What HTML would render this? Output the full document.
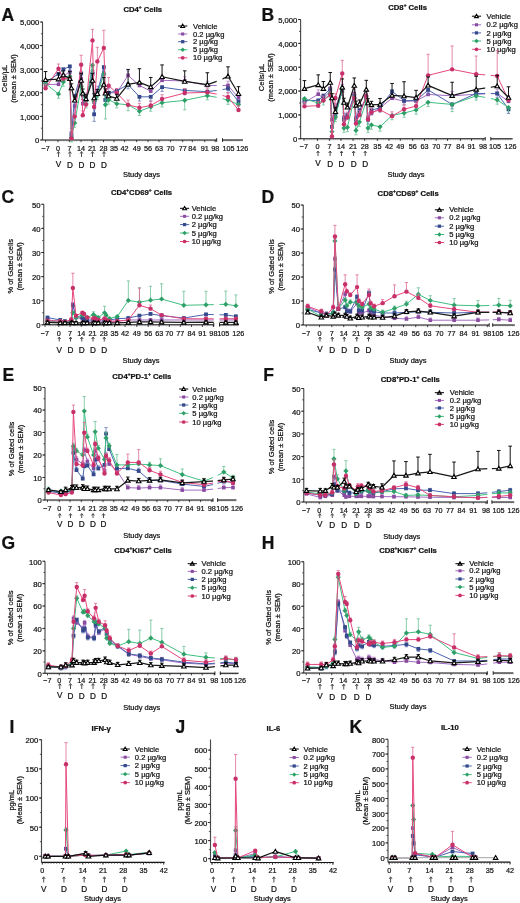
<!DOCTYPE html>
<html><head><meta charset="utf-8"><title>Figure</title>
<style>html,body{margin:0;padding:0;background:#fff;}body{width:520px;height:903px;overflow:hidden;font-family:"Liberation Sans",sans-serif;}svg{display:block;will-change:transform;filter:blur(0.3px);}text{stroke:#111;stroke-width:0.22px;}</style>
</head><body>
<svg width="520" height="903" viewBox="0 0 520 903" font-family='"Liberation Sans", sans-serif' fill="#111">
<rect width="520" height="903" fill="#fff"/>
<g id="pA">
<text x="1.5" y="21" font-size="17.5" text-anchor="start" font-weight="bold">A</text>
<text x="142.8" y="12" font-size="7.7" font-weight="bold" text-anchor="middle"><tspan>CD4</tspan><tspan font-size="4.77" dy="-3">+</tspan><tspan dy="3"> Cells</tspan></text>
<line x1="178.1" y1="26" x2="187.3" y2="26" stroke="#000" stroke-width="1"/>
<polygon points="182.7,24.17 184.62,27.46 180.78,27.46" fill="#fff" stroke="#000" stroke-width="1.1"/>
<text x="193" y="28.6" font-size="7.6" text-anchor="start">Vehicle</text>
<line x1="178.1" y1="34" x2="187.3" y2="34" stroke="#a26bc0" stroke-width="1"/>
<rect x="181.17" y="32.47" width="3.06" height="3.06" fill="#8a4a9f"/>
<text x="193" y="36.6" font-size="7.6" text-anchor="start">0.2 µg/kg</text>
<line x1="178.1" y1="41.7" x2="187.3" y2="41.7" stroke="#4a64b0" stroke-width="1"/>
<rect x="181.08" y="40.09" width="3.23" height="3.23" fill="#34498a"/>
<text x="193" y="44.3" font-size="7.6" text-anchor="start">2 µg/kg</text>
<line x1="178.1" y1="49.7" x2="187.3" y2="49.7" stroke="#3fbf80" stroke-width="1"/>
<polygon points="182.7,47.49 184.91,49.7 182.7,51.91 180.49,49.7" fill="#2f9f68"/>
<text x="193" y="52.3" font-size="7.6" text-anchor="start">5 µg/kg</text>
<line x1="178.1" y1="57.8" x2="187.3" y2="57.8" stroke="#e5487e" stroke-width="1"/>
<circle cx="182.7" cy="57.8" r="1.87" fill="#c8306a"/>
<text x="193" y="60.4" font-size="7.6" text-anchor="start">10 µg/kg</text>
<line x1="42.5" y1="22" x2="42.5" y2="140" stroke="#4a4a4a" stroke-width="1.15"/>
<line x1="40.9" y1="140" x2="42.5" y2="140" stroke="#333" stroke-width="0.8"/>
<line x1="40.9" y1="128.2" x2="42.5" y2="128.2" stroke="#333" stroke-width="0.8"/>
<line x1="40.9" y1="116.4" x2="42.5" y2="116.4" stroke="#333" stroke-width="0.8"/>
<line x1="40.9" y1="104.6" x2="42.5" y2="104.6" stroke="#333" stroke-width="0.8"/>
<line x1="40.9" y1="92.8" x2="42.5" y2="92.8" stroke="#333" stroke-width="0.8"/>
<line x1="40.9" y1="81" x2="42.5" y2="81" stroke="#333" stroke-width="0.8"/>
<line x1="40.9" y1="69.2" x2="42.5" y2="69.2" stroke="#333" stroke-width="0.8"/>
<line x1="40.9" y1="57.4" x2="42.5" y2="57.4" stroke="#333" stroke-width="0.8"/>
<line x1="40.9" y1="45.6" x2="42.5" y2="45.6" stroke="#333" stroke-width="0.8"/>
<line x1="40.9" y1="33.8" x2="42.5" y2="33.8" stroke="#333" stroke-width="0.8"/>
<line x1="40.9" y1="22" x2="42.5" y2="22" stroke="#333" stroke-width="0.8"/>
<line x1="39.9" y1="140" x2="42.5" y2="140" stroke="#222" stroke-width="0.9"/>
<text x="39.3" y="143.37" font-size="7.7" text-anchor="end">0</text>
<line x1="39.9" y1="116.4" x2="42.5" y2="116.4" stroke="#222" stroke-width="0.9"/>
<text x="39.3" y="119.77" font-size="7.7" text-anchor="end">1,000</text>
<line x1="39.9" y1="92.8" x2="42.5" y2="92.8" stroke="#222" stroke-width="0.9"/>
<text x="39.3" y="96.17" font-size="7.7" text-anchor="end">2,000</text>
<line x1="39.9" y1="69.2" x2="42.5" y2="69.2" stroke="#222" stroke-width="0.9"/>
<text x="39.3" y="72.57" font-size="7.7" text-anchor="end">3,000</text>
<line x1="39.9" y1="45.6" x2="42.5" y2="45.6" stroke="#222" stroke-width="0.9"/>
<text x="39.3" y="48.97" font-size="7.7" text-anchor="end">4,000</text>
<line x1="39.9" y1="22" x2="42.5" y2="22" stroke="#222" stroke-width="0.9"/>
<text x="39.3" y="25.37" font-size="7.7" text-anchor="end">5,000</text>
<text transform="translate(7.2,78.5) rotate(-90)" font-size="7.5" text-anchor="middle">Cells/µL</text>
<text transform="translate(15.6,78.5) rotate(-90)" font-size="7.5" text-anchor="middle">(mean ± SEM)</text>
<path d="M47.19 140v1.5M48.81 140v1.5M50.43 140v1.5M52.05 140v1.5M53.66 140v1.5M55.28 140v1.5M56.9 140v1.5M58.52 140v1.5M60.14 140v1.5M61.75 140v1.5M63.37 140v1.5M64.99 140v1.5M66.61 140v1.5M68.23 140v1.5M69.84 140v1.5M71.46 140v1.5M73.08 140v1.5M74.7 140v1.5M76.32 140v1.5M77.93 140v1.5M79.55 140v1.5M81.17 140v1.5M82.79 140v1.5M84.41 140v1.5M86.02 140v1.5M87.64 140v1.5M89.26 140v1.5M90.88 140v1.5M92.5 140v1.5M94.11 140v1.5M95.73 140v1.5M97.35 140v1.5M98.97 140v1.5M100.59 140v1.5M102.2 140v1.5M103.82 140v1.5M105.44 140v1.5M107.06 140v1.5M108.68 140v1.5M110.29 140v1.5M111.91 140v1.5M113.53 140v1.5M115.15 140v1.5M116.77 140v1.5M118.38 140v1.5M120 140v1.5M121.62 140v1.5M123.24 140v1.5M124.86 140v1.5M126.47 140v1.5M128.09 140v1.5M129.71 140v1.5M131.33 140v1.5M132.95 140v1.5M134.56 140v1.5M136.18 140v1.5M137.8 140v1.5M139.42 140v1.5M141.04 140v1.5M142.65 140v1.5M144.27 140v1.5M145.89 140v1.5M147.51 140v1.5M149.13 140v1.5M150.74 140v1.5M152.36 140v1.5M153.98 140v1.5M155.6 140v1.5M157.22 140v1.5M158.83 140v1.5M160.45 140v1.5M162.07 140v1.5M163.69 140v1.5M165.31 140v1.5M166.92 140v1.5M168.54 140v1.5M170.16 140v1.5M171.78 140v1.5M173.4 140v1.5M175.01 140v1.5M176.63 140v1.5M178.25 140v1.5M179.87 140v1.5M181.49 140v1.5M183.1 140v1.5M184.72 140v1.5M186.34 140v1.5M187.96 140v1.5M189.58 140v1.5M191.19 140v1.5M192.81 140v1.5M194.43 140v1.5M196.05 140v1.5M197.67 140v1.5M199.28 140v1.5M200.9 140v1.5M202.52 140v1.5M204.14 140v1.5M205.76 140v1.5M207.37 140v1.5M208.99 140v1.5M210.61 140v1.5M212.23 140v1.5M213.85 140v1.5M215.46 140v1.5M223.5 140v1.5M225.12 140v1.5M226.74 140v1.5M228.35 140v1.5M229.97 140v1.5M231.59 140v1.5M233.21 140v1.5M234.83 140v1.5M236.44 140v1.5M238.06 140v1.5M239.68 140v1.5M241.3 140v1.5" stroke="#9a9a9a" stroke-width="0.55"/>
<path d="M45.6 140v2.2M58 140v2.2M69.4 140v2.2M81 140v2.2M92 140v2.2M103.5 140v2.2M114 140v2.2M124.6 140v2.2M136.7 140v2.2M148 140v2.2M159 140v2.2M170.5 140v2.2M182.7 140v2.2M192.3 140v2.2M204.8 140v2.2M215.2 140v2.2" stroke="#222" stroke-width="0.8"/>
<line x1="42.5" y1="140" x2="216.7" y2="140" stroke="#111" stroke-width="1.1"/>
<line x1="222.5" y1="140" x2="243" y2="140" stroke="#111" stroke-width="1.1"/>
<path d="M216.7 138.2V141.8M222.5 138.2V141.8" stroke="#111" stroke-width="0.9"/>
<text transform="translate(45.6,150.85) scale(0.92,1)" font-size="7.9" text-anchor="middle">−7</text>
<text transform="translate(58,150.85) scale(0.92,1)" font-size="7.9" text-anchor="middle">0</text>
<text transform="translate(69.4,150.85) scale(0.92,1)" font-size="7.9" text-anchor="middle">7</text>
<text transform="translate(81,150.85) scale(0.92,1)" font-size="7.9" text-anchor="middle">14</text>
<text transform="translate(92,150.85) scale(0.92,1)" font-size="7.9" text-anchor="middle">21</text>
<text transform="translate(103.5,150.85) scale(0.92,1)" font-size="7.9" text-anchor="middle">28</text>
<text transform="translate(114,150.85) scale(0.92,1)" font-size="7.9" text-anchor="middle">35</text>
<text transform="translate(124.6,150.85) scale(0.92,1)" font-size="7.9" text-anchor="middle">42</text>
<text transform="translate(136.7,150.85) scale(0.92,1)" font-size="7.9" text-anchor="middle">49</text>
<text transform="translate(148,150.85) scale(0.92,1)" font-size="7.9" text-anchor="middle">56</text>
<text transform="translate(159,150.85) scale(0.92,1)" font-size="7.9" text-anchor="middle">63</text>
<text transform="translate(170.5,150.85) scale(0.92,1)" font-size="7.9" text-anchor="middle">70</text>
<text transform="translate(182.7,150.85) scale(0.92,1)" font-size="7.9" text-anchor="middle">77</text>
<text transform="translate(192.3,150.85) scale(0.92,1)" font-size="7.9" text-anchor="middle">84</text>
<text transform="translate(204.8,150.85) scale(0.92,1)" font-size="7.9" text-anchor="middle">91</text>
<text transform="translate(215.2,150.85) scale(0.92,1)" font-size="7.9" text-anchor="middle">98</text>
<text transform="translate(228.6,150.85) scale(0.92,1)" font-size="7.9" text-anchor="middle">105</text>
<text transform="translate(242.3,150.85) scale(0.92,1)" font-size="7.9" text-anchor="middle">126</text>
<path d="M58.5 157V152.3" stroke="#222" stroke-width="0.8"/>
<path d="M57.1 153.5L58.5 151.5L59.9 153.5" stroke="#222" stroke-width="0.8" fill="none"/>
<text x="58.5" y="167.1" font-size="8.2" text-anchor="middle">V</text>
<path d="M69.9 157V152.3" stroke="#222" stroke-width="0.8"/>
<path d="M68.5 153.5L69.9 151.5L71.3 153.5" stroke="#222" stroke-width="0.8" fill="none"/>
<text x="69.9" y="167.8" font-size="8.2" text-anchor="middle">D</text>
<path d="M81.5 157V152.3" stroke="#222" stroke-width="0.8"/>
<path d="M80.1 153.5L81.5 151.5L82.9 153.5" stroke="#222" stroke-width="0.8" fill="none"/>
<text x="81.5" y="167.8" font-size="8.2" text-anchor="middle">D</text>
<path d="M92.5 157V152.3" stroke="#222" stroke-width="0.8"/>
<path d="M91.1 153.5L92.5 151.5L93.9 153.5" stroke="#222" stroke-width="0.8" fill="none"/>
<text x="92.5" y="167.8" font-size="8.2" text-anchor="middle">D</text>
<path d="M104 157V152.3" stroke="#222" stroke-width="0.8"/>
<path d="M102.6 153.5L104 151.5L105.4 153.5" stroke="#222" stroke-width="0.8" fill="none"/>
<text x="104" y="167.8" font-size="8.2" text-anchor="middle">D</text>
<text x="141.5" y="177.2" font-size="7.5" text-anchor="middle">Study days</text>
<clipPath id="cA"><rect x="42.5" y="-8" width="174.2" height="158"/><rect x="222.5" y="-8" width="26.5" height="158"/></clipPath>
<path d="M45.57 84.54V80.29M43.97 80.29H47.17M58.52 84.3V80.06M56.92 80.06H60.12M63.37 76.28V72.03M61.77 72.03H64.97M69.84 71.56V67.31M68.24 67.31H71.44M71.46 132.92V128.67M69.86 128.67H73.06M74.7 106.02V101.77M73.1 101.77H76.3M81.17 78.64V74.39M79.57 74.39H82.77M82.79 103.66V99.41M81.19 99.41H84.39M86.02 97.52V93.27M84.42 93.27H87.62M92.5 71.56V67.31M90.9 67.31H94.1M94.11 102.24V97.99M92.51 97.99H95.71M97.35 90.44V86.19M95.75 86.19H98.95M103.82 73.92V69.67M102.22 69.67H105.42M105.44 99.88V95.63M103.84 95.63H107.04M108.68 92.8V88.55M107.08 88.55H110.28M116.77 92.8V88.55M115.17 88.55H118.37M128.09 75.34V71.09M126.49 71.09H129.69M139.42 85.48V81.24M137.82 81.24H141.02M150.74 91.15V86.9M149.14 86.9H152.34M162.07 80.29V76.04M160.47 76.04H163.67M184.72 81V76.75M183.12 76.75H186.32M207.37 85.48V81.24M205.77 81.24H208.97M228 85.48V81.24M226.4 81.24H229.6M238.5 97.76V93.51M236.9 93.51H240.1" stroke="#b07cc8" stroke-width="0.8" fill="none"/>
<path d="M45.57 84.54 L58.52 84.3 L63.37 76.28 L69.84 71.56 L71.46 132.92 L74.7 106.02 L81.17 78.64 L82.79 103.66 L86.02 97.52 L92.5 71.56 L94.11 102.24 L97.35 90.44 L103.82 73.92 L105.44 99.88 L108.68 92.8 L116.77 92.8 L128.09 75.34 L139.42 85.48 L150.74 91.15 L162.07 80.29 L184.72 81 L207.37 85.48 L219.6 85.48 L228 85.48 L238.5 97.76" fill="none" stroke="#a26bc0" stroke-width="1.0" stroke-linejoin="round" clip-path="url(#cA)"/>
<rect x="43.77" y="82.74" width="3.6" height="3.6" fill="#8a4a9f"/>
<rect x="56.72" y="82.5" width="3.6" height="3.6" fill="#8a4a9f"/>
<rect x="61.57" y="74.48" width="3.6" height="3.6" fill="#8a4a9f"/>
<rect x="68.04" y="69.76" width="3.6" height="3.6" fill="#8a4a9f"/>
<rect x="69.66" y="131.12" width="3.6" height="3.6" fill="#8a4a9f"/>
<rect x="72.9" y="104.22" width="3.6" height="3.6" fill="#8a4a9f"/>
<rect x="79.37" y="76.84" width="3.6" height="3.6" fill="#8a4a9f"/>
<rect x="80.99" y="101.86" width="3.6" height="3.6" fill="#8a4a9f"/>
<rect x="84.22" y="95.72" width="3.6" height="3.6" fill="#8a4a9f"/>
<rect x="90.7" y="69.76" width="3.6" height="3.6" fill="#8a4a9f"/>
<rect x="92.31" y="100.44" width="3.6" height="3.6" fill="#8a4a9f"/>
<rect x="95.55" y="88.64" width="3.6" height="3.6" fill="#8a4a9f"/>
<rect x="102.02" y="72.12" width="3.6" height="3.6" fill="#8a4a9f"/>
<rect x="103.64" y="98.08" width="3.6" height="3.6" fill="#8a4a9f"/>
<rect x="106.88" y="91" width="3.6" height="3.6" fill="#8a4a9f"/>
<rect x="114.97" y="91" width="3.6" height="3.6" fill="#8a4a9f"/>
<rect x="126.29" y="73.54" width="3.6" height="3.6" fill="#8a4a9f"/>
<rect x="137.62" y="83.68" width="3.6" height="3.6" fill="#8a4a9f"/>
<rect x="148.94" y="89.35" width="3.6" height="3.6" fill="#8a4a9f"/>
<rect x="160.27" y="78.49" width="3.6" height="3.6" fill="#8a4a9f"/>
<rect x="182.92" y="79.2" width="3.6" height="3.6" fill="#8a4a9f"/>
<rect x="205.57" y="83.68" width="3.6" height="3.6" fill="#8a4a9f"/>
<rect x="226.2" y="83.68" width="3.6" height="3.6" fill="#8a4a9f"/>
<rect x="236.7" y="95.96" width="3.6" height="3.6" fill="#8a4a9f"/>
<path d="M45.57 82.18V86.43M43.97 86.43H47.17M58.52 73.92V78.17M56.92 78.17H60.12M63.37 69.2V73.45M61.77 73.45H64.97M69.84 66.37V73.45M68.24 73.45H71.44M71.46 135.28V139.53M69.86 139.53H73.06M74.7 95.87V100.12M73.1 100.12H76.3M81.17 73.45V77.7M79.57 77.7H82.77M82.79 95.16V99.41M81.19 99.41H84.39M86.02 99.88V104.13M84.42 104.13H87.62M92.5 73.92V78.17M90.9 78.17H94.1M94.11 114.28V121.36M92.51 121.36H95.71M97.35 92.8V97.05M95.75 97.05H98.95M103.82 67.08V71.32M102.22 71.32H105.42M105.44 99.88V104.13M103.84 104.13H107.04M108.68 92.8V97.05M107.08 97.05H110.28M116.77 90.91V95.16M115.17 95.16H118.37M128.09 84.54V88.79M126.49 88.79H129.69M139.42 96.81V101.06M137.82 101.06H141.02M150.74 96.81V101.06M149.14 101.06H152.34M162.07 87.14V91.38M160.47 91.38H163.67M184.72 90.44V94.69M183.12 94.69H186.32M207.37 91.62V95.87M205.77 95.87H208.97M228 88.55V92.8M226.4 92.8H229.6M238.5 101.53V105.78M236.9 105.78H240.1" stroke="#6479b8" stroke-width="0.8" fill="none"/>
<path d="M45.57 82.18 L58.52 73.92 L63.37 69.2 L69.84 66.37 L71.46 135.28 L74.7 95.87 L81.17 73.45 L82.79 95.16 L86.02 99.88 L92.5 73.92 L94.11 114.28 L97.35 92.8 L103.82 67.08 L105.44 99.88 L108.68 92.8 L116.77 90.91 L128.09 84.54 L139.42 96.81 L150.74 96.81 L162.07 87.14 L184.72 90.44 L207.37 91.62 L219.6 90.09 L228 88.55 L238.5 101.53" fill="none" stroke="#4a64b0" stroke-width="1.0" stroke-linejoin="round" clip-path="url(#cA)"/>
<rect x="43.67" y="80.28" width="3.8" height="3.8" fill="#34498a"/>
<rect x="56.62" y="72.02" width="3.8" height="3.8" fill="#34498a"/>
<rect x="61.47" y="67.3" width="3.8" height="3.8" fill="#34498a"/>
<rect x="67.94" y="64.47" width="3.8" height="3.8" fill="#34498a"/>
<rect x="69.56" y="133.38" width="3.8" height="3.8" fill="#34498a"/>
<rect x="72.8" y="93.97" width="3.8" height="3.8" fill="#34498a"/>
<rect x="79.27" y="71.55" width="3.8" height="3.8" fill="#34498a"/>
<rect x="80.89" y="93.26" width="3.8" height="3.8" fill="#34498a"/>
<rect x="84.12" y="97.98" width="3.8" height="3.8" fill="#34498a"/>
<rect x="90.6" y="72.02" width="3.8" height="3.8" fill="#34498a"/>
<rect x="92.21" y="112.38" width="3.8" height="3.8" fill="#34498a"/>
<rect x="95.45" y="90.9" width="3.8" height="3.8" fill="#34498a"/>
<rect x="101.92" y="65.18" width="3.8" height="3.8" fill="#34498a"/>
<rect x="103.54" y="97.98" width="3.8" height="3.8" fill="#34498a"/>
<rect x="106.78" y="90.9" width="3.8" height="3.8" fill="#34498a"/>
<rect x="114.87" y="89.01" width="3.8" height="3.8" fill="#34498a"/>
<rect x="126.19" y="82.64" width="3.8" height="3.8" fill="#34498a"/>
<rect x="137.52" y="94.91" width="3.8" height="3.8" fill="#34498a"/>
<rect x="148.84" y="94.91" width="3.8" height="3.8" fill="#34498a"/>
<rect x="160.17" y="85.24" width="3.8" height="3.8" fill="#34498a"/>
<rect x="182.82" y="88.54" width="3.8" height="3.8" fill="#34498a"/>
<rect x="205.47" y="89.72" width="3.8" height="3.8" fill="#34498a"/>
<rect x="226.1" y="86.65" width="3.8" height="3.8" fill="#34498a"/>
<rect x="236.6" y="99.63" width="3.8" height="3.8" fill="#34498a"/>
<path d="M45.57 83.6V87.84M43.97 87.84H47.17M58.52 93.98V98.23M56.92 98.23H60.12M63.37 81.94V86.19M61.77 86.19H64.97M69.84 76.28V80.53M68.24 80.53H71.44M71.46 137.64V141.89M69.86 141.89H73.06M74.7 123.01V127.26M73.1 127.26H76.3M81.17 86.43V90.68M79.57 90.68H82.77M82.79 93.27V97.52M81.19 97.52H84.39M86.02 103.66V107.9M84.42 107.9H87.62M92.5 65.19V69.44M90.9 69.44H94.1M94.11 101.53V105.78M92.51 105.78H95.71M97.35 95.16V99.41M95.75 99.41H98.95M103.82 73.92V78.17M102.22 78.17H105.42M105.44 104.84V119M103.84 119H107.04M108.68 99.88V104.13M107.08 104.13H110.28M116.77 103.66V107.9M115.17 107.9H118.37M128.09 104.84V110.74M126.49 110.74H129.69M139.42 111.21V115.46M137.82 115.46H141.02M150.74 106.96V111.21M149.14 111.21H152.34M162.07 102.71V106.96M160.47 106.96H163.67M184.72 100.35V109.79M183.12 109.79H186.32M207.37 95.63V99.88M205.77 99.88H208.97M228 100.12V104.36M226.4 104.36H229.6M238.5 104.6V108.85M236.9 108.85H240.1" stroke="#6cc095" stroke-width="0.8" fill="none"/>
<path d="M45.57 83.6 L58.52 93.98 L63.37 81.94 L69.84 76.28 L71.46 137.64 L74.7 123.01 L81.17 86.43 L82.79 93.27 L86.02 103.66 L92.5 65.19 L94.11 101.53 L97.35 95.16 L103.82 73.92 L105.44 104.84 L108.68 99.88 L116.77 103.66 L128.09 104.84 L139.42 111.21 L150.74 106.96 L162.07 102.71 L184.72 100.35 L207.37 95.63 L219.6 97.87 L228 100.12 L238.5 104.6" fill="none" stroke="#3fbf80" stroke-width="1.0" stroke-linejoin="round" clip-path="url(#cA)"/>
<polygon points="45.57,81 48.17,83.6 45.57,86.2 42.97,83.6" fill="#2f9f68"/>
<polygon points="58.52,91.38 61.12,93.98 58.52,96.58 55.92,93.98" fill="#2f9f68"/>
<polygon points="63.37,79.34 65.97,81.94 63.37,84.54 60.77,81.94" fill="#2f9f68"/>
<polygon points="69.84,73.68 72.44,76.28 69.84,78.88 67.24,76.28" fill="#2f9f68"/>
<polygon points="71.46,135.04 74.06,137.64 71.46,140.24 68.86,137.64" fill="#2f9f68"/>
<polygon points="74.7,120.41 77.3,123.01 74.7,125.61 72.1,123.01" fill="#2f9f68"/>
<polygon points="81.17,83.83 83.77,86.43 81.17,89.03 78.57,86.43" fill="#2f9f68"/>
<polygon points="82.79,90.67 85.39,93.27 82.79,95.87 80.19,93.27" fill="#2f9f68"/>
<polygon points="86.02,101.06 88.62,103.66 86.02,106.26 83.42,103.66" fill="#2f9f68"/>
<polygon points="92.5,62.59 95.1,65.19 92.5,67.79 89.9,65.19" fill="#2f9f68"/>
<polygon points="94.11,98.93 96.71,101.53 94.11,104.13 91.51,101.53" fill="#2f9f68"/>
<polygon points="97.35,92.56 99.95,95.16 97.35,97.76 94.75,95.16" fill="#2f9f68"/>
<polygon points="103.82,71.32 106.42,73.92 103.82,76.52 101.22,73.92" fill="#2f9f68"/>
<polygon points="105.44,102.24 108.04,104.84 105.44,107.44 102.84,104.84" fill="#2f9f68"/>
<polygon points="108.68,97.28 111.28,99.88 108.68,102.48 106.08,99.88" fill="#2f9f68"/>
<polygon points="116.77,101.06 119.37,103.66 116.77,106.26 114.17,103.66" fill="#2f9f68"/>
<polygon points="128.09,102.24 130.69,104.84 128.09,107.44 125.49,104.84" fill="#2f9f68"/>
<polygon points="139.42,108.61 142.02,111.21 139.42,113.81 136.82,111.21" fill="#2f9f68"/>
<polygon points="150.74,104.36 153.34,106.96 150.74,109.56 148.14,106.96" fill="#2f9f68"/>
<polygon points="162.07,100.11 164.67,102.71 162.07,105.31 159.47,102.71" fill="#2f9f68"/>
<polygon points="184.72,97.75 187.32,100.35 184.72,102.95 182.12,100.35" fill="#2f9f68"/>
<polygon points="207.37,93.03 209.97,95.63 207.37,98.23 204.77,95.63" fill="#2f9f68"/>
<polygon points="228,97.52 230.6,100.12 228,102.72 225.4,100.12" fill="#2f9f68"/>
<polygon points="238.5,102 241.1,104.6 238.5,107.2 235.9,104.6" fill="#2f9f68"/>
<path d="M45.57 88.32V84.07M43.97 84.07H47.17M58.52 68.73V64.01M56.92 64.01H60.12M63.37 78.64V74.39M61.77 74.39H64.97M69.84 78.64V74.39M68.24 74.39H71.44M71.46 138.35V134.1M69.86 134.1H73.06M74.7 116.4V112.15M73.1 112.15H76.3M81.17 64.72V55.28M79.57 55.28H82.77M82.79 115.22V110.97M81.19 110.97H84.39M86.02 104.6V100.35M84.42 100.35H87.62M92.5 40.41V29.32M90.9 29.32H94.1M94.11 106.96V102.71M92.51 102.71H95.71M97.35 61.41V47.25M95.75 47.25H98.95M103.82 47.96V30.26M102.22 30.26H105.42M105.44 92.8V88.55M103.84 88.55H107.04M108.68 85.72V77.46M107.08 77.46H110.28M116.77 92.8V88.55M115.17 88.55H118.37M128.09 104.84V100.12M126.49 100.12H129.69M139.42 107.67V103.42M137.82 103.42H141.02M150.74 105.54V101.3M149.14 101.3H152.34M162.07 98.94V94.69M160.47 94.69H163.67M184.72 93.04V88.79M183.12 88.79H186.32M207.37 92.33V88.08M205.77 88.08H208.97M228 97.05V92.8M226.4 92.8H229.6M238.5 110.03V105.78M236.9 105.78H240.1" stroke="#e06a95" stroke-width="0.8" fill="none"/>
<path d="M45.57 88.32 L58.52 68.73 L63.37 78.64 L69.84 78.64 L71.46 138.35 L74.7 116.4 L81.17 64.72 L82.79 115.22 L86.02 104.6 L92.5 40.41 L94.11 106.96 L97.35 61.41 L103.82 47.96 L105.44 92.8 L108.68 85.72 L116.77 92.8 L128.09 104.84 L139.42 107.67 L150.74 105.54 L162.07 98.94 L184.72 93.04 L207.37 92.33 L219.6 94.69 L228 97.05 L238.5 110.03" fill="none" stroke="#e5487e" stroke-width="1.0" stroke-linejoin="round" clip-path="url(#cA)"/>
<circle cx="45.57" cy="88.32" r="2.2" fill="#c8306a"/>
<circle cx="58.52" cy="68.73" r="2.2" fill="#c8306a"/>
<circle cx="63.37" cy="78.64" r="2.2" fill="#c8306a"/>
<circle cx="69.84" cy="78.64" r="2.2" fill="#c8306a"/>
<circle cx="71.46" cy="138.35" r="2.2" fill="#c8306a"/>
<circle cx="74.7" cy="116.4" r="2.2" fill="#c8306a"/>
<circle cx="81.17" cy="64.72" r="2.2" fill="#c8306a"/>
<circle cx="82.79" cy="115.22" r="2.2" fill="#c8306a"/>
<circle cx="86.02" cy="104.6" r="2.2" fill="#c8306a"/>
<circle cx="92.5" cy="40.41" r="2.2" fill="#c8306a"/>
<circle cx="94.11" cy="106.96" r="2.2" fill="#c8306a"/>
<circle cx="97.35" cy="61.41" r="2.2" fill="#c8306a"/>
<circle cx="103.82" cy="47.96" r="2.2" fill="#c8306a"/>
<circle cx="105.44" cy="92.8" r="2.2" fill="#c8306a"/>
<circle cx="108.68" cy="85.72" r="2.2" fill="#c8306a"/>
<circle cx="116.77" cy="92.8" r="2.2" fill="#c8306a"/>
<circle cx="128.09" cy="104.84" r="2.2" fill="#c8306a"/>
<circle cx="139.42" cy="107.67" r="2.2" fill="#c8306a"/>
<circle cx="150.74" cy="105.54" r="2.2" fill="#c8306a"/>
<circle cx="162.07" cy="98.94" r="2.2" fill="#c8306a"/>
<circle cx="184.72" cy="93.04" r="2.2" fill="#c8306a"/>
<circle cx="207.37" cy="92.33" r="2.2" fill="#c8306a"/>
<circle cx="228" cy="97.05" r="2.2" fill="#c8306a"/>
<circle cx="238.5" cy="110.03" r="2.2" fill="#c8306a"/>
<path d="M45.57 79.82V71.56M43.77 71.56H47.37M58.52 79.11V73.21M56.72 73.21H60.32M63.37 75.1V70.85M61.57 70.85H65.17M69.84 78.64V71.56M68.04 71.56H71.64M71.46 88.08V83.83M69.66 83.83H73.26M74.7 100.35V96.1M72.9 96.1H76.5M81.17 80.53V73.45M79.37 73.45H82.97M82.79 93.27V89.02M80.99 89.02H84.59M86.02 98.94V94.69M84.22 94.69H87.82M92.5 80.53V73.45M90.7 73.45H94.3M94.11 97.99V93.74M92.31 93.74H95.91M97.35 93.74V89.5M95.55 89.5H99.15M103.82 84.54V77.46M102.02 77.46H105.62M105.44 93.27V89.02M103.64 89.02H107.24M108.68 96.1V91.86M106.88 91.86H110.48M116.77 98.46V94.22M114.97 94.22H118.57M128.09 84.3V69.44M126.29 69.44H129.89M139.42 82.42V68.73M137.62 68.73H141.22M150.74 86.9V77.46M148.94 77.46H152.54M162.07 76.75V64.95M160.27 64.95H163.87M184.72 81.47V70.85M182.92 70.85H186.52M207.37 84.54V72.74M205.57 72.74H209.17M228 76.28V66.84M226.2 66.84H229.8M238.5 93.74V86.66M236.7 86.66H240.3" stroke="#111111" stroke-width="1.0" fill="none"/>
<path d="M45.57 79.82 L58.52 79.11 L63.37 75.1 L69.84 78.64 L71.46 88.08 L74.7 100.35 L81.17 80.53 L82.79 93.27 L86.02 98.94 L92.5 80.53 L94.11 97.99 L97.35 93.74 L103.82 84.54 L105.44 93.27 L108.68 96.1 L116.77 98.46 L128.09 84.3 L139.42 82.42 L150.74 86.9 L162.07 76.75 L184.72 81.47 L207.37 84.54 L219.6 80.41 L228 76.28 L238.5 93.74" fill="none" stroke="#1a1a1a" stroke-width="1.25" stroke-linejoin="round" clip-path="url(#cA)"/>
<polygon points="45.57,77.67 47.83,81.54 43.32,81.54" fill="#fff" stroke="#000" stroke-width="1.1"/>
<polygon points="58.52,76.96 60.78,80.83 56.26,80.83" fill="#fff" stroke="#000" stroke-width="1.1"/>
<polygon points="63.37,72.95 65.63,76.82 61.11,76.82" fill="#fff" stroke="#000" stroke-width="1.1"/>
<polygon points="69.84,76.49 72.1,80.36 67.59,80.36" fill="#fff" stroke="#000" stroke-width="1.1"/>
<polygon points="71.46,85.93 73.72,89.8 69.2,89.8" fill="#fff" stroke="#000" stroke-width="1.1"/>
<polygon points="74.7,98.2 76.96,102.07 72.44,102.07" fill="#fff" stroke="#000" stroke-width="1.1"/>
<polygon points="81.17,78.38 83.43,82.25 78.91,82.25" fill="#fff" stroke="#000" stroke-width="1.1"/>
<polygon points="82.79,91.12 85.05,94.99 80.53,94.99" fill="#fff" stroke="#000" stroke-width="1.1"/>
<polygon points="86.02,96.79 88.28,100.66 83.77,100.66" fill="#fff" stroke="#000" stroke-width="1.1"/>
<polygon points="92.5,78.38 94.75,82.25 90.24,82.25" fill="#fff" stroke="#000" stroke-width="1.1"/>
<polygon points="94.11,95.84 96.37,99.71 91.86,99.71" fill="#fff" stroke="#000" stroke-width="1.1"/>
<polygon points="97.35,91.59 99.61,95.46 95.09,95.46" fill="#fff" stroke="#000" stroke-width="1.1"/>
<polygon points="103.82,82.39 106.08,86.26 101.56,86.26" fill="#fff" stroke="#000" stroke-width="1.1"/>
<polygon points="105.44,91.12 107.7,94.99 103.18,94.99" fill="#fff" stroke="#000" stroke-width="1.1"/>
<polygon points="108.68,93.95 110.93,97.82 106.42,97.82" fill="#fff" stroke="#000" stroke-width="1.1"/>
<polygon points="116.77,96.31 119.02,100.18 114.51,100.18" fill="#fff" stroke="#000" stroke-width="1.1"/>
<polygon points="128.09,82.15 130.35,86.02 125.83,86.02" fill="#fff" stroke="#000" stroke-width="1.1"/>
<polygon points="139.42,80.27 141.68,84.14 137.16,84.14" fill="#fff" stroke="#000" stroke-width="1.1"/>
<polygon points="150.74,84.75 153,88.62 148.49,88.62" fill="#fff" stroke="#000" stroke-width="1.1"/>
<polygon points="162.07,74.6 164.33,78.47 159.81,78.47" fill="#fff" stroke="#000" stroke-width="1.1"/>
<polygon points="184.72,79.32 186.98,83.19 182.46,83.19" fill="#fff" stroke="#000" stroke-width="1.1"/>
<polygon points="207.37,82.39 209.63,86.26 205.12,86.26" fill="#fff" stroke="#000" stroke-width="1.1"/>
<polygon points="228,74.13 230.26,78 225.74,78" fill="#fff" stroke="#000" stroke-width="1.1"/>
<polygon points="238.5,91.59 240.76,95.46 236.24,95.46" fill="#fff" stroke="#000" stroke-width="1.1"/>
</g>
<g id="pB">
<text x="261.5" y="20.6" font-size="17.5" text-anchor="start" font-weight="bold">B</text>
<text x="407.6" y="9.6" font-size="7.7" font-weight="bold" text-anchor="middle"><tspan>CD8</tspan><tspan font-size="4.77" dy="-3">+</tspan><tspan dy="3"> Cells</tspan></text>
<line x1="471.9" y1="16.2" x2="481.1" y2="16.2" stroke="#000" stroke-width="1"/>
<polygon points="476.5,14.37 478.42,17.66 474.58,17.66" fill="#fff" stroke="#000" stroke-width="1.1"/>
<text x="486.5" y="18.8" font-size="7.6" text-anchor="start">Vehicle</text>
<line x1="471.9" y1="24.8" x2="481.1" y2="24.8" stroke="#a26bc0" stroke-width="1"/>
<rect x="474.97" y="23.27" width="3.06" height="3.06" fill="#8a4a9f"/>
<text x="486.5" y="27.4" font-size="7.6" text-anchor="start">0.2 µg/kg</text>
<line x1="471.9" y1="32.9" x2="481.1" y2="32.9" stroke="#4a64b0" stroke-width="1"/>
<rect x="474.88" y="31.29" width="3.23" height="3.23" fill="#34498a"/>
<text x="486.5" y="35.5" font-size="7.6" text-anchor="start">2 µg/kg</text>
<line x1="471.9" y1="41" x2="481.1" y2="41" stroke="#3fbf80" stroke-width="1"/>
<polygon points="476.5,38.79 478.71,41 476.5,43.21 474.29,41" fill="#2f9f68"/>
<text x="486.5" y="43.6" font-size="7.6" text-anchor="start">5 µg/kg</text>
<line x1="471.9" y1="49.3" x2="481.1" y2="49.3" stroke="#e5487e" stroke-width="1"/>
<circle cx="476.5" cy="49.3" r="1.87" fill="#c8306a"/>
<text x="486.5" y="51.9" font-size="7.6" text-anchor="start">10 µg/kg</text>
<line x1="300.6" y1="19.5" x2="300.6" y2="138.8" stroke="#4a4a4a" stroke-width="1.15"/>
<line x1="299" y1="138.8" x2="300.6" y2="138.8" stroke="#333" stroke-width="0.8"/>
<line x1="299" y1="126.87" x2="300.6" y2="126.87" stroke="#333" stroke-width="0.8"/>
<line x1="299" y1="114.94" x2="300.6" y2="114.94" stroke="#333" stroke-width="0.8"/>
<line x1="299" y1="103.01" x2="300.6" y2="103.01" stroke="#333" stroke-width="0.8"/>
<line x1="299" y1="91.08" x2="300.6" y2="91.08" stroke="#333" stroke-width="0.8"/>
<line x1="299" y1="79.15" x2="300.6" y2="79.15" stroke="#333" stroke-width="0.8"/>
<line x1="299" y1="67.22" x2="300.6" y2="67.22" stroke="#333" stroke-width="0.8"/>
<line x1="299" y1="55.29" x2="300.6" y2="55.29" stroke="#333" stroke-width="0.8"/>
<line x1="299" y1="43.36" x2="300.6" y2="43.36" stroke="#333" stroke-width="0.8"/>
<line x1="299" y1="31.43" x2="300.6" y2="31.43" stroke="#333" stroke-width="0.8"/>
<line x1="299" y1="19.5" x2="300.6" y2="19.5" stroke="#333" stroke-width="0.8"/>
<line x1="298" y1="138.8" x2="300.6" y2="138.8" stroke="#222" stroke-width="0.9"/>
<text x="297.4" y="142.17" font-size="7.7" text-anchor="end">0</text>
<line x1="298" y1="114.94" x2="300.6" y2="114.94" stroke="#222" stroke-width="0.9"/>
<text x="297.4" y="118.31" font-size="7.7" text-anchor="end">1,000</text>
<line x1="298" y1="91.08" x2="300.6" y2="91.08" stroke="#222" stroke-width="0.9"/>
<text x="297.4" y="94.45" font-size="7.7" text-anchor="end">2,000</text>
<line x1="298" y1="67.22" x2="300.6" y2="67.22" stroke="#222" stroke-width="0.9"/>
<text x="297.4" y="70.59" font-size="7.7" text-anchor="end">3,000</text>
<line x1="298" y1="43.36" x2="300.6" y2="43.36" stroke="#222" stroke-width="0.9"/>
<text x="297.4" y="46.73" font-size="7.7" text-anchor="end">4,000</text>
<line x1="298" y1="19.5" x2="300.6" y2="19.5" stroke="#222" stroke-width="0.9"/>
<text x="297.4" y="22.87" font-size="7.7" text-anchor="end">5,000</text>
<text transform="translate(264.3,77.5) rotate(-90)" font-size="7.5" text-anchor="middle">Cells/µL</text>
<text transform="translate(273.3,77.5) rotate(-90)" font-size="7.5" text-anchor="middle">(mean ± SEM)</text>
<path d="M306.2 138.8v1.5M307.92 138.8v1.5M309.63 138.8v1.5M311.35 138.8v1.5M313.07 138.8v1.5M314.78 138.8v1.5M316.5 138.8v1.5M318.22 138.8v1.5M319.93 138.8v1.5M321.65 138.8v1.5M323.37 138.8v1.5M325.08 138.8v1.5M326.8 138.8v1.5M328.52 138.8v1.5M330.24 138.8v1.5M331.95 138.8v1.5M333.67 138.8v1.5M335.39 138.8v1.5M337.1 138.8v1.5M338.82 138.8v1.5M340.54 138.8v1.5M342.25 138.8v1.5M343.97 138.8v1.5M345.69 138.8v1.5M347.41 138.8v1.5M349.12 138.8v1.5M350.84 138.8v1.5M352.56 138.8v1.5M354.27 138.8v1.5M355.99 138.8v1.5M357.71 138.8v1.5M359.43 138.8v1.5M361.14 138.8v1.5M362.86 138.8v1.5M364.58 138.8v1.5M366.29 138.8v1.5M368.01 138.8v1.5M369.73 138.8v1.5M371.44 138.8v1.5M373.16 138.8v1.5M374.88 138.8v1.5M376.6 138.8v1.5M378.31 138.8v1.5M380.03 138.8v1.5M381.75 138.8v1.5M383.46 138.8v1.5M385.18 138.8v1.5M386.9 138.8v1.5M388.61 138.8v1.5M390.33 138.8v1.5M392.05 138.8v1.5M393.76 138.8v1.5M395.48 138.8v1.5M397.2 138.8v1.5M398.92 138.8v1.5M400.63 138.8v1.5M402.35 138.8v1.5M404.07 138.8v1.5M405.78 138.8v1.5M407.5 138.8v1.5M409.22 138.8v1.5M410.94 138.8v1.5M412.65 138.8v1.5M414.37 138.8v1.5M416.09 138.8v1.5M417.8 138.8v1.5M419.52 138.8v1.5M421.24 138.8v1.5M422.95 138.8v1.5M424.67 138.8v1.5M426.39 138.8v1.5M428.11 138.8v1.5M429.82 138.8v1.5M431.54 138.8v1.5M433.26 138.8v1.5M434.97 138.8v1.5M436.69 138.8v1.5M438.41 138.8v1.5M440.12 138.8v1.5M441.84 138.8v1.5M443.56 138.8v1.5M445.27 138.8v1.5M446.99 138.8v1.5M448.71 138.8v1.5M450.43 138.8v1.5M452.14 138.8v1.5M453.86 138.8v1.5M455.58 138.8v1.5M457.29 138.8v1.5M459.01 138.8v1.5M460.73 138.8v1.5M462.44 138.8v1.5M464.16 138.8v1.5M465.88 138.8v1.5M467.6 138.8v1.5M469.31 138.8v1.5M471.03 138.8v1.5M472.75 138.8v1.5M474.46 138.8v1.5M476.18 138.8v1.5M477.9 138.8v1.5M479.62 138.8v1.5M481.33 138.8v1.5M483.05 138.8v1.5M491.8 138.8v1.5M493.52 138.8v1.5M495.23 138.8v1.5M496.95 138.8v1.5M498.67 138.8v1.5M500.38 138.8v1.5M502.1 138.8v1.5M503.82 138.8v1.5M505.54 138.8v1.5M507.25 138.8v1.5M508.97 138.8v1.5M510.69 138.8v1.5" stroke="#9a9a9a" stroke-width="0.55"/>
<path d="M304 138.8v2.2M317.5 138.8v2.2M329.6 138.8v2.2M341 138.8v2.2M353.1 138.8v2.2M364.7 138.8v2.2M377.4 138.8v2.2M389 138.8v2.2M400.3 138.8v2.2M412.7 138.8v2.2M424.5 138.8v2.2M436.2 138.8v2.2M447.5 138.8v2.2M460.4 138.8v2.2M471.5 138.8v2.2M483 138.8v2.2" stroke="#222" stroke-width="0.8"/>
<line x1="300.6" y1="138.8" x2="485.2" y2="138.8" stroke="#111" stroke-width="1.1"/>
<line x1="490.8" y1="138.8" x2="512.7" y2="138.8" stroke="#111" stroke-width="1.1"/>
<path d="M485.2 137V140.6M490.8 137V140.6" stroke="#111" stroke-width="0.9"/>
<text transform="translate(304,149.15) scale(0.92,1)" font-size="7.9" text-anchor="middle">−7</text>
<text transform="translate(317.5,149.15) scale(0.92,1)" font-size="7.9" text-anchor="middle">0</text>
<text transform="translate(329.6,149.15) scale(0.92,1)" font-size="7.9" text-anchor="middle">7</text>
<text transform="translate(341,149.15) scale(0.92,1)" font-size="7.9" text-anchor="middle">14</text>
<text transform="translate(353.1,149.15) scale(0.92,1)" font-size="7.9" text-anchor="middle">21</text>
<text transform="translate(364.7,149.15) scale(0.92,1)" font-size="7.9" text-anchor="middle">28</text>
<text transform="translate(377.4,149.15) scale(0.92,1)" font-size="7.9" text-anchor="middle">35</text>
<text transform="translate(389,149.15) scale(0.92,1)" font-size="7.9" text-anchor="middle">42</text>
<text transform="translate(400.3,149.15) scale(0.92,1)" font-size="7.9" text-anchor="middle">49</text>
<text transform="translate(412.7,149.15) scale(0.92,1)" font-size="7.9" text-anchor="middle">56</text>
<text transform="translate(424.5,149.15) scale(0.92,1)" font-size="7.9" text-anchor="middle">63</text>
<text transform="translate(436.2,149.15) scale(0.92,1)" font-size="7.9" text-anchor="middle">70</text>
<text transform="translate(447.5,149.15) scale(0.92,1)" font-size="7.9" text-anchor="middle">77</text>
<text transform="translate(460.4,149.15) scale(0.92,1)" font-size="7.9" text-anchor="middle">84</text>
<text transform="translate(471.5,149.15) scale(0.92,1)" font-size="7.9" text-anchor="middle">91</text>
<text transform="translate(483,149.15) scale(0.92,1)" font-size="7.9" text-anchor="middle">98</text>
<text transform="translate(495,149.15) scale(0.92,1)" font-size="7.9" text-anchor="middle">105</text>
<text transform="translate(510.4,149.15) scale(0.92,1)" font-size="7.9" text-anchor="middle">126</text>
<path d="M318 156V151.8" stroke="#222" stroke-width="0.8"/>
<path d="M316.6 153L318 151L319.4 153" stroke="#222" stroke-width="0.8" fill="none"/>
<text x="318" y="166.3" font-size="8.2" text-anchor="middle">V</text>
<path d="M330.1 156V151.8" stroke="#222" stroke-width="0.8"/>
<path d="M328.7 153L330.1 151L331.5 153" stroke="#222" stroke-width="0.8" fill="none"/>
<text x="330.1" y="167" font-size="8.2" text-anchor="middle">D</text>
<path d="M341.5 156V151.8" stroke="#222" stroke-width="0.8"/>
<path d="M340.1 153L341.5 151L342.9 153" stroke="#222" stroke-width="0.8" fill="none"/>
<text x="341.5" y="167" font-size="8.2" text-anchor="middle">D</text>
<path d="M353.6 156V151.8" stroke="#222" stroke-width="0.8"/>
<path d="M352.2 153L353.6 151L355 153" stroke="#222" stroke-width="0.8" fill="none"/>
<text x="353.6" y="167" font-size="8.2" text-anchor="middle">D</text>
<path d="M365.2 156V151.8" stroke="#222" stroke-width="0.8"/>
<path d="M363.8 153L365.2 151L366.6 153" stroke="#222" stroke-width="0.8" fill="none"/>
<text x="365.2" y="167" font-size="8.2" text-anchor="middle">D</text>
<text x="406" y="176.7" font-size="7.5" text-anchor="middle">Study days</text>
<clipPath id="cB"><rect x="300.6" y="-10.5" width="184.6" height="159.3"/><rect x="490.8" y="-10.5" width="27.9" height="159.3"/></clipPath>
<path d="M304.48 102.53V98.24M302.88 98.24H306.08M318.22 94.18V89.89M316.62 89.89H319.82M323.37 98.24V93.94M321.77 93.94H324.97M330.24 91.08V86.79M328.64 86.79H331.84M331.95 119.71V115.42M330.35 115.42H333.55M335.39 107.78V103.49M333.79 103.49H336.99M342.25 88.69V84.4M340.65 84.4H343.86M343.97 117.33V113.03M342.37 113.03H345.57M347.41 116.37V112.08M345.81 112.08H349.01M354.27 93.47V89.17M352.67 89.17H355.87M355.99 117.33V113.03M354.39 113.03H357.59M359.43 113.51V109.21M357.82 109.21H361.03M366.29 98V93.7M364.69 93.7H367.89M368.01 117.33V113.03M366.41 113.03H369.61M371.44 113.51V109.21M369.84 109.21H373.04M380.03 107.78V103.49M378.43 103.49H381.63M392.05 98.24V93.94M390.45 93.94H393.65M404.07 101.34V97.05M402.47 97.05H405.67M416.09 100.86V96.57M414.49 96.57H417.69M428.11 94.42V90.13M426.5 90.13H429.71M452.14 95.85V91.56M450.54 91.56H453.74M476.18 94.18V89.89M474.58 89.89H477.78M497.2 93.47V89.17M495.6 89.17H498.8M508.5 101.34V97.05M506.9 97.05H510.1" stroke="#b07cc8" stroke-width="0.8" fill="none"/>
<path d="M304.48 102.53 L318.22 94.18 L323.37 98.24 L330.24 91.08 L331.95 119.71 L335.39 107.78 L342.25 88.69 L343.97 117.33 L347.41 116.37 L354.27 93.47 L355.99 117.33 L359.43 113.51 L366.29 98 L368.01 117.33 L371.44 113.51 L380.03 107.78 L392.05 98.24 L404.07 101.34 L416.09 100.86 L428.11 94.42 L452.14 95.85 L476.18 94.18 L488 93.82 L497.2 93.47 L508.5 101.34" fill="none" stroke="#a26bc0" stroke-width="1.0" stroke-linejoin="round" clip-path="url(#cB)"/>
<rect x="302.68" y="100.73" width="3.6" height="3.6" fill="#8a4a9f"/>
<rect x="316.42" y="92.38" width="3.6" height="3.6" fill="#8a4a9f"/>
<rect x="321.57" y="96.44" width="3.6" height="3.6" fill="#8a4a9f"/>
<rect x="328.44" y="89.28" width="3.6" height="3.6" fill="#8a4a9f"/>
<rect x="330.15" y="117.91" width="3.6" height="3.6" fill="#8a4a9f"/>
<rect x="333.59" y="105.98" width="3.6" height="3.6" fill="#8a4a9f"/>
<rect x="340.45" y="86.89" width="3.6" height="3.6" fill="#8a4a9f"/>
<rect x="342.17" y="115.53" width="3.6" height="3.6" fill="#8a4a9f"/>
<rect x="345.61" y="114.57" width="3.6" height="3.6" fill="#8a4a9f"/>
<rect x="352.47" y="91.67" width="3.6" height="3.6" fill="#8a4a9f"/>
<rect x="354.19" y="115.53" width="3.6" height="3.6" fill="#8a4a9f"/>
<rect x="357.62" y="111.71" width="3.6" height="3.6" fill="#8a4a9f"/>
<rect x="364.49" y="96.2" width="3.6" height="3.6" fill="#8a4a9f"/>
<rect x="366.21" y="115.53" width="3.6" height="3.6" fill="#8a4a9f"/>
<rect x="369.64" y="111.71" width="3.6" height="3.6" fill="#8a4a9f"/>
<rect x="378.23" y="105.98" width="3.6" height="3.6" fill="#8a4a9f"/>
<rect x="390.25" y="96.44" width="3.6" height="3.6" fill="#8a4a9f"/>
<rect x="402.27" y="99.54" width="3.6" height="3.6" fill="#8a4a9f"/>
<rect x="414.29" y="99.06" width="3.6" height="3.6" fill="#8a4a9f"/>
<rect x="426.31" y="92.62" width="3.6" height="3.6" fill="#8a4a9f"/>
<rect x="450.34" y="94.05" width="3.6" height="3.6" fill="#8a4a9f"/>
<rect x="474.38" y="92.38" width="3.6" height="3.6" fill="#8a4a9f"/>
<rect x="495.4" y="91.67" width="3.6" height="3.6" fill="#8a4a9f"/>
<rect x="506.7" y="99.54" width="3.6" height="3.6" fill="#8a4a9f"/>
<path d="M304.48 100.62V104.92M302.88 104.92H306.08M318.22 100.39V104.68M316.62 104.68H319.82M323.37 95.85V100.15M321.77 100.15H324.97M330.24 88.69V92.99M328.64 92.99H331.84M331.95 126.87V131.16M330.35 131.16H333.55M335.39 114.94V119.23M333.79 119.23H336.99M342.25 91.08V95.37M340.65 95.37H343.86M343.97 119.71V124.01M342.37 124.01H345.57M347.41 114.94V119.23M345.81 119.23H349.01M354.27 95.85V100.15M352.67 100.15H355.87M355.99 119.71V124.01M354.39 124.01H357.59M359.43 110.17V114.46M357.82 114.46H361.03M366.29 98V102.29M364.69 102.29H367.89M368.01 119.71V124.01M366.41 124.01H369.61M371.44 110.17V114.46M369.84 114.46H373.04M380.03 107.78V112.08M378.43 112.08H381.63M392.05 91.32V95.61M390.45 95.61H393.65M404.07 100.62V104.92M402.47 104.92H405.67M416.09 100.62V104.92M414.49 104.92H417.69M428.11 89.89V94.18M426.5 94.18H429.71M452.14 104.44V108.74M450.54 108.74H453.74M476.18 93.47V97.76M474.58 97.76H477.78M497.2 93.47V97.76M495.6 97.76H498.8M508.5 109.21V113.51M506.9 113.51H510.1" stroke="#6479b8" stroke-width="0.8" fill="none"/>
<path d="M304.48 100.62 L318.22 100.39 L323.37 95.85 L330.24 88.69 L331.95 126.87 L335.39 114.94 L342.25 91.08 L343.97 119.71 L347.41 114.94 L354.27 95.85 L355.99 119.71 L359.43 110.17 L366.29 98 L368.01 119.71 L371.44 110.17 L380.03 107.78 L392.05 91.32 L404.07 100.62 L416.09 100.62 L428.11 89.89 L452.14 104.44 L476.18 93.47 L488 93.47 L497.2 93.47 L508.5 109.21" fill="none" stroke="#4a64b0" stroke-width="1.0" stroke-linejoin="round" clip-path="url(#cB)"/>
<rect x="302.58" y="98.72" width="3.8" height="3.8" fill="#34498a"/>
<rect x="316.32" y="98.49" width="3.8" height="3.8" fill="#34498a"/>
<rect x="321.47" y="93.95" width="3.8" height="3.8" fill="#34498a"/>
<rect x="328.34" y="86.79" width="3.8" height="3.8" fill="#34498a"/>
<rect x="330.05" y="124.97" width="3.8" height="3.8" fill="#34498a"/>
<rect x="333.49" y="113.04" width="3.8" height="3.8" fill="#34498a"/>
<rect x="340.36" y="89.18" width="3.8" height="3.8" fill="#34498a"/>
<rect x="342.07" y="117.81" width="3.8" height="3.8" fill="#34498a"/>
<rect x="345.51" y="113.04" width="3.8" height="3.8" fill="#34498a"/>
<rect x="352.37" y="93.95" width="3.8" height="3.8" fill="#34498a"/>
<rect x="354.09" y="117.81" width="3.8" height="3.8" fill="#34498a"/>
<rect x="357.53" y="108.27" width="3.8" height="3.8" fill="#34498a"/>
<rect x="364.39" y="96.1" width="3.8" height="3.8" fill="#34498a"/>
<rect x="366.11" y="117.81" width="3.8" height="3.8" fill="#34498a"/>
<rect x="369.54" y="108.27" width="3.8" height="3.8" fill="#34498a"/>
<rect x="378.13" y="105.88" width="3.8" height="3.8" fill="#34498a"/>
<rect x="390.15" y="89.42" width="3.8" height="3.8" fill="#34498a"/>
<rect x="402.17" y="98.72" width="3.8" height="3.8" fill="#34498a"/>
<rect x="414.19" y="98.72" width="3.8" height="3.8" fill="#34498a"/>
<rect x="426.21" y="87.99" width="3.8" height="3.8" fill="#34498a"/>
<rect x="450.24" y="102.54" width="3.8" height="3.8" fill="#34498a"/>
<rect x="474.28" y="91.57" width="3.8" height="3.8" fill="#34498a"/>
<rect x="495.3" y="91.57" width="3.8" height="3.8" fill="#34498a"/>
<rect x="506.6" y="107.31" width="3.8" height="3.8" fill="#34498a"/>
<path d="M304.48 98.72V103.01M302.88 103.01H306.08M318.22 103.01V107.3M316.62 107.3H319.82M323.37 100.62V104.92M321.77 104.92H324.97M330.24 93.47V97.76M328.64 97.76H331.84M331.95 131.64V135.94M330.35 135.94H333.55M335.39 117.33V121.62M333.79 121.62H336.99M342.25 88.69V92.99M340.65 92.99H343.86M343.97 128.06V132.36M342.37 132.36H345.57M347.41 127.35V131.64M345.81 131.64H349.01M354.27 98.24V102.53M352.67 102.53H355.87M355.99 130.45V134.74M354.39 134.74H357.59M359.43 122.1V126.39M357.82 126.39H361.03M366.29 100.62V104.92M364.69 104.92H367.89M368.01 128.06V132.36M366.41 132.36H369.61M371.44 124.96V129.26M369.84 129.26H373.04M380.03 126.87V131.16M378.43 131.16H381.63M392.05 115.42V119.71M390.45 119.71H393.65M404.07 113.03V117.33M402.47 117.33H405.67M416.09 109.93V114.22M414.49 114.22H417.69M428.11 102.29V106.59M426.5 106.59H429.71M452.14 104.44V111.6M450.54 111.6H453.74M476.18 95.85V100.15M474.58 100.15H477.78M497.2 99.91V104.2M495.6 104.2H498.8M508.5 107.54V111.84M506.9 111.84H510.1" stroke="#6cc095" stroke-width="0.8" fill="none"/>
<path d="M304.48 98.72 L318.22 103.01 L323.37 100.62 L330.24 93.47 L331.95 131.64 L335.39 117.33 L342.25 88.69 L343.97 128.06 L347.41 127.35 L354.27 98.24 L355.99 130.45 L359.43 122.1 L366.29 100.62 L368.01 128.06 L371.44 124.96 L380.03 126.87 L392.05 115.42 L404.07 113.03 L416.09 109.93 L428.11 102.29 L452.14 104.44 L476.18 95.85 L488 97.88 L497.2 99.91 L508.5 107.54" fill="none" stroke="#3fbf80" stroke-width="1.0" stroke-linejoin="round" clip-path="url(#cB)"/>
<polygon points="304.48,96.12 307.08,98.72 304.48,101.32 301.88,98.72" fill="#2f9f68"/>
<polygon points="318.22,100.41 320.82,103.01 318.22,105.61 315.62,103.01" fill="#2f9f68"/>
<polygon points="323.37,98.02 325.97,100.62 323.37,103.22 320.77,100.62" fill="#2f9f68"/>
<polygon points="330.24,90.87 332.84,93.47 330.24,96.07 327.64,93.47" fill="#2f9f68"/>
<polygon points="331.95,129.04 334.55,131.64 331.95,134.24 329.35,131.64" fill="#2f9f68"/>
<polygon points="335.39,114.73 337.99,117.33 335.39,119.93 332.79,117.33" fill="#2f9f68"/>
<polygon points="342.25,86.09 344.86,88.69 342.25,91.29 339.65,88.69" fill="#2f9f68"/>
<polygon points="343.97,125.46 346.57,128.06 343.97,130.66 341.37,128.06" fill="#2f9f68"/>
<polygon points="347.41,124.75 350.01,127.35 347.41,129.95 344.81,127.35" fill="#2f9f68"/>
<polygon points="354.27,95.64 356.87,98.24 354.27,100.84 351.67,98.24" fill="#2f9f68"/>
<polygon points="355.99,127.85 358.59,130.45 355.99,133.05 353.39,130.45" fill="#2f9f68"/>
<polygon points="359.43,119.5 362.03,122.1 359.43,124.7 356.82,122.1" fill="#2f9f68"/>
<polygon points="366.29,98.02 368.89,100.62 366.29,103.22 363.69,100.62" fill="#2f9f68"/>
<polygon points="368.01,125.46 370.61,128.06 368.01,130.66 365.41,128.06" fill="#2f9f68"/>
<polygon points="371.44,122.36 374.04,124.96 371.44,127.56 368.84,124.96" fill="#2f9f68"/>
<polygon points="380.03,124.27 382.63,126.87 380.03,129.47 377.43,126.87" fill="#2f9f68"/>
<polygon points="392.05,112.82 394.65,115.42 392.05,118.02 389.45,115.42" fill="#2f9f68"/>
<polygon points="404.07,110.43 406.67,113.03 404.07,115.63 401.47,113.03" fill="#2f9f68"/>
<polygon points="416.09,107.33 418.69,109.93 416.09,112.53 413.49,109.93" fill="#2f9f68"/>
<polygon points="428.11,99.69 430.71,102.29 428.11,104.89 425.5,102.29" fill="#2f9f68"/>
<polygon points="452.14,101.84 454.74,104.44 452.14,107.04 449.54,104.44" fill="#2f9f68"/>
<polygon points="476.18,93.25 478.78,95.85 476.18,98.45 473.58,95.85" fill="#2f9f68"/>
<polygon points="497.2,97.31 499.8,99.91 497.2,102.51 494.6,99.91" fill="#2f9f68"/>
<polygon points="508.5,104.94 511.1,107.54 508.5,110.14 505.9,107.54" fill="#2f9f68"/>
<path d="M304.48 106.35V102.06M302.88 102.06H306.08M318.22 105.63V101.34M316.62 101.34H319.82M323.37 100.39V96.09M321.77 96.09H324.97M330.24 94.9V87.74M328.64 87.74H331.84M331.95 136.41V132.12M330.35 132.12H333.55M335.39 98V93.7M333.79 93.7H336.99M342.25 73.42V60.3M340.65 60.3H343.86M343.97 124.25V119.95M342.37 119.95H345.57M347.41 117.33V113.03M345.81 113.03H349.01M354.27 98V93.7M352.67 93.7H355.87M355.99 123.53V119.23M354.39 119.23H357.59M359.43 114.94V110.65M357.82 110.65H361.03M366.29 95.85V91.56M364.69 91.56H367.89M368.01 119.47V115.18M366.41 115.18H369.61M371.44 112.32V108.02M369.84 108.02H373.04M380.03 109.93V105.63M378.43 105.63H381.63M392.05 116.13V111.84M390.45 111.84H393.65M404.07 109.21V104.92M402.47 104.92H405.67M416.09 106.11V101.82M414.49 101.82H417.69M428.11 75.33V54.34M426.5 54.34H429.71M452.14 69.37V45.98M450.54 45.98H453.74M476.18 74.14V56.01M474.58 56.01H477.78M497.2 76.05V50.52M495.6 50.52H498.8M508.5 99.91V95.61M506.9 95.61H510.1" stroke="#e06a95" stroke-width="0.8" fill="none"/>
<path d="M304.48 106.35 L318.22 105.63 L323.37 100.39 L330.24 94.9 L331.95 136.41 L335.39 98 L342.25 73.42 L343.97 124.25 L347.41 117.33 L354.27 98 L355.99 123.53 L359.43 114.94 L366.29 95.85 L368.01 119.47 L371.44 112.32 L380.03 109.93 L392.05 116.13 L404.07 109.21 L416.09 106.11 L428.11 75.33 L452.14 69.37 L476.18 74.14 L488 75.09 L497.2 76.05 L508.5 99.91" fill="none" stroke="#e5487e" stroke-width="1.0" stroke-linejoin="round" clip-path="url(#cB)"/>
<circle cx="304.48" cy="106.35" r="2.2" fill="#c8306a"/>
<circle cx="318.22" cy="105.63" r="2.2" fill="#c8306a"/>
<circle cx="323.37" cy="100.39" r="2.2" fill="#c8306a"/>
<circle cx="330.24" cy="94.9" r="2.2" fill="#c8306a"/>
<circle cx="331.95" cy="136.41" r="2.2" fill="#c8306a"/>
<circle cx="335.39" cy="98" r="2.2" fill="#c8306a"/>
<circle cx="342.25" cy="73.42" r="2.2" fill="#c8306a"/>
<circle cx="343.97" cy="124.25" r="2.2" fill="#c8306a"/>
<circle cx="347.41" cy="117.33" r="2.2" fill="#c8306a"/>
<circle cx="354.27" cy="98" r="2.2" fill="#c8306a"/>
<circle cx="355.99" cy="123.53" r="2.2" fill="#c8306a"/>
<circle cx="359.43" cy="114.94" r="2.2" fill="#c8306a"/>
<circle cx="366.29" cy="95.85" r="2.2" fill="#c8306a"/>
<circle cx="368.01" cy="119.47" r="2.2" fill="#c8306a"/>
<circle cx="371.44" cy="112.32" r="2.2" fill="#c8306a"/>
<circle cx="380.03" cy="109.93" r="2.2" fill="#c8306a"/>
<circle cx="392.05" cy="116.13" r="2.2" fill="#c8306a"/>
<circle cx="404.07" cy="109.21" r="2.2" fill="#c8306a"/>
<circle cx="416.09" cy="106.11" r="2.2" fill="#c8306a"/>
<circle cx="428.11" cy="75.33" r="2.2" fill="#c8306a"/>
<circle cx="452.14" cy="69.37" r="2.2" fill="#c8306a"/>
<circle cx="476.18" cy="74.14" r="2.2" fill="#c8306a"/>
<circle cx="497.2" cy="76.05" r="2.2" fill="#c8306a"/>
<circle cx="508.5" cy="99.91" r="2.2" fill="#c8306a"/>
<path d="M304.48 88.69V80.58M302.68 80.58H306.28M318.22 84.88V74.86M316.42 74.86H320.02M323.37 88.69V81.54M321.57 81.54H325.17M330.24 82.49V72.47M328.44 72.47H332.04M331.95 98V93.7M330.15 93.7H333.75M335.39 111.84V107.54M333.59 107.54H337.19M342.25 87.26V78.91M340.45 78.91H344.06M343.97 102.53V98.24M342.17 98.24H345.77M347.41 107.3V103.01M345.61 103.01H349.21M354.27 85.59V77.96M352.47 77.96H356.07M355.99 105.4V101.1M354.19 101.1H357.79M359.43 104.2V99.91M357.62 99.91H361.23M366.29 89.41V80.34M364.49 80.34H368.09M368.01 103.01V98.72M366.21 98.72H369.81M371.44 104.92V101.34M369.64 101.34H373.24M380.03 104.44V98.48M378.23 98.48H381.83M392.05 95.37V83.44M390.25 83.44H393.85M404.07 96.09V81.77M402.27 81.77H405.87M416.09 97.52V90.36M414.29 90.36H417.89M428.11 85.35V77M426.31 77H429.91M452.14 95.61V82.25M450.34 82.25H453.94M476.18 89.41V76.29M474.38 76.29H477.98M497.2 86.07V75.33M495.4 75.33H499M508.5 97.52V86.79M506.7 86.79H510.3" stroke="#111111" stroke-width="1.0" fill="none"/>
<path d="M304.48 88.69 L318.22 84.88 L323.37 88.69 L330.24 82.49 L331.95 98 L335.39 111.84 L342.25 87.26 L343.97 102.53 L347.41 107.3 L354.27 85.59 L355.99 105.4 L359.43 104.2 L366.29 89.41 L368.01 103.01 L371.44 104.92 L380.03 104.44 L392.05 95.37 L404.07 96.09 L416.09 97.52 L428.11 85.35 L452.14 95.61 L476.18 89.41 L488 87.74 L497.2 86.07 L508.5 97.52" fill="none" stroke="#1a1a1a" stroke-width="1.25" stroke-linejoin="round" clip-path="url(#cB)"/>
<polygon points="304.48,86.54 306.74,90.41 302.22,90.41" fill="#fff" stroke="#000" stroke-width="1.1"/>
<polygon points="318.22,82.73 320.47,86.6 315.96,86.6" fill="#fff" stroke="#000" stroke-width="1.1"/>
<polygon points="323.37,86.54 325.63,90.41 321.11,90.41" fill="#fff" stroke="#000" stroke-width="1.1"/>
<polygon points="330.24,80.34 332.49,84.21 327.98,84.21" fill="#fff" stroke="#000" stroke-width="1.1"/>
<polygon points="331.95,95.85 334.21,99.72 329.7,99.72" fill="#fff" stroke="#000" stroke-width="1.1"/>
<polygon points="335.39,109.69 337.64,113.56 333.13,113.56" fill="#fff" stroke="#000" stroke-width="1.1"/>
<polygon points="342.25,85.11 344.51,88.98 340,88.98" fill="#fff" stroke="#000" stroke-width="1.1"/>
<polygon points="343.97,100.38 346.23,104.25 341.71,104.25" fill="#fff" stroke="#000" stroke-width="1.1"/>
<polygon points="347.41,105.15 349.66,109.02 345.15,109.02" fill="#fff" stroke="#000" stroke-width="1.1"/>
<polygon points="354.27,83.44 356.53,87.31 352.02,87.31" fill="#fff" stroke="#000" stroke-width="1.1"/>
<polygon points="355.99,103.25 358.25,107.12 353.73,107.12" fill="#fff" stroke="#000" stroke-width="1.1"/>
<polygon points="359.43,102.05 361.68,105.92 357.17,105.92" fill="#fff" stroke="#000" stroke-width="1.1"/>
<polygon points="366.29,87.26 368.55,91.13 364.04,91.13" fill="#fff" stroke="#000" stroke-width="1.1"/>
<polygon points="368.01,100.86 370.27,104.73 365.75,104.73" fill="#fff" stroke="#000" stroke-width="1.1"/>
<polygon points="371.44,102.77 373.7,106.64 369.19,106.64" fill="#fff" stroke="#000" stroke-width="1.1"/>
<polygon points="380.03,102.29 382.29,106.16 377.77,106.16" fill="#fff" stroke="#000" stroke-width="1.1"/>
<polygon points="392.05,93.22 394.31,97.09 389.79,97.09" fill="#fff" stroke="#000" stroke-width="1.1"/>
<polygon points="404.07,93.94 406.32,97.81 401.81,97.81" fill="#fff" stroke="#000" stroke-width="1.1"/>
<polygon points="416.09,95.37 418.34,99.24 413.83,99.24" fill="#fff" stroke="#000" stroke-width="1.1"/>
<polygon points="428.11,83.2 430.36,87.07 425.85,87.07" fill="#fff" stroke="#000" stroke-width="1.1"/>
<polygon points="452.14,93.46 454.4,97.33 449.89,97.33" fill="#fff" stroke="#000" stroke-width="1.1"/>
<polygon points="476.18,87.26 478.44,91.13 473.92,91.13" fill="#fff" stroke="#000" stroke-width="1.1"/>
<polygon points="497.2,83.92 499.46,87.79 494.94,87.79" fill="#fff" stroke="#000" stroke-width="1.1"/>
<polygon points="508.5,95.37 510.76,99.24 506.24,99.24" fill="#fff" stroke="#000" stroke-width="1.1"/>
</g>
<g id="pC">
<text x="1.5" y="202.5" font-size="17.5" text-anchor="start" font-weight="bold">C</text>
<text x="141.5" y="194.8" font-size="7.7" font-weight="bold" text-anchor="middle"><tspan>CD4</tspan><tspan font-size="4.77" dy="-3">+</tspan><tspan dy="3">CD69</tspan><tspan font-size="4.77" dy="-3">+</tspan><tspan dy="3"> Cells</tspan></text>
<line x1="180" y1="208.3" x2="189.2" y2="208.3" stroke="#000" stroke-width="1"/>
<polygon points="184.6,206.47 186.52,209.76 182.68,209.76" fill="#fff" stroke="#000" stroke-width="1.1"/>
<text x="191.7" y="210.9" font-size="7.6" text-anchor="start">Vehicle</text>
<line x1="180" y1="216.3" x2="189.2" y2="216.3" stroke="#a26bc0" stroke-width="1"/>
<rect x="183.07" y="214.77" width="3.06" height="3.06" fill="#8a4a9f"/>
<text x="191.7" y="218.9" font-size="7.6" text-anchor="start">0.2 µg/kg</text>
<line x1="180" y1="224.6" x2="189.2" y2="224.6" stroke="#4a64b0" stroke-width="1"/>
<rect x="182.98" y="222.98" width="3.23" height="3.23" fill="#34498a"/>
<text x="191.7" y="227.2" font-size="7.6" text-anchor="start">2 µg/kg</text>
<line x1="180" y1="233" x2="189.2" y2="233" stroke="#3fbf80" stroke-width="1"/>
<polygon points="184.6,230.79 186.81,233 184.6,235.21 182.39,233" fill="#2f9f68"/>
<text x="191.7" y="235.6" font-size="7.6" text-anchor="start">5 µg/kg</text>
<line x1="180" y1="241.5" x2="189.2" y2="241.5" stroke="#e5487e" stroke-width="1"/>
<circle cx="184.6" cy="241.5" r="1.87" fill="#c8306a"/>
<text x="191.7" y="244.1" font-size="7.6" text-anchor="start">10 µg/kg</text>
<line x1="43.75" y1="204.3" x2="43.75" y2="324.8" stroke="#4a4a4a" stroke-width="1.15"/>
<line x1="42.15" y1="324.8" x2="43.75" y2="324.8" stroke="#333" stroke-width="0.8"/>
<line x1="42.15" y1="312.75" x2="43.75" y2="312.75" stroke="#333" stroke-width="0.8"/>
<line x1="42.15" y1="300.7" x2="43.75" y2="300.7" stroke="#333" stroke-width="0.8"/>
<line x1="42.15" y1="288.65" x2="43.75" y2="288.65" stroke="#333" stroke-width="0.8"/>
<line x1="42.15" y1="276.6" x2="43.75" y2="276.6" stroke="#333" stroke-width="0.8"/>
<line x1="42.15" y1="264.55" x2="43.75" y2="264.55" stroke="#333" stroke-width="0.8"/>
<line x1="42.15" y1="252.5" x2="43.75" y2="252.5" stroke="#333" stroke-width="0.8"/>
<line x1="42.15" y1="240.45" x2="43.75" y2="240.45" stroke="#333" stroke-width="0.8"/>
<line x1="42.15" y1="228.4" x2="43.75" y2="228.4" stroke="#333" stroke-width="0.8"/>
<line x1="42.15" y1="216.35" x2="43.75" y2="216.35" stroke="#333" stroke-width="0.8"/>
<line x1="42.15" y1="204.3" x2="43.75" y2="204.3" stroke="#333" stroke-width="0.8"/>
<line x1="41.15" y1="324.8" x2="43.75" y2="324.8" stroke="#222" stroke-width="0.9"/>
<text x="40.55" y="328.17" font-size="7.7" text-anchor="end">0</text>
<line x1="41.15" y1="300.7" x2="43.75" y2="300.7" stroke="#222" stroke-width="0.9"/>
<text x="40.55" y="304.07" font-size="7.7" text-anchor="end">10</text>
<line x1="41.15" y1="276.6" x2="43.75" y2="276.6" stroke="#222" stroke-width="0.9"/>
<text x="40.55" y="279.97" font-size="7.7" text-anchor="end">20</text>
<line x1="41.15" y1="252.5" x2="43.75" y2="252.5" stroke="#222" stroke-width="0.9"/>
<text x="40.55" y="255.87" font-size="7.7" text-anchor="end">30</text>
<line x1="41.15" y1="228.4" x2="43.75" y2="228.4" stroke="#222" stroke-width="0.9"/>
<text x="40.55" y="231.77" font-size="7.7" text-anchor="end">40</text>
<line x1="41.15" y1="204.3" x2="43.75" y2="204.3" stroke="#222" stroke-width="0.9"/>
<text x="40.55" y="207.67" font-size="7.7" text-anchor="end">50</text>
<text transform="translate(12.5,266.3) rotate(-90)" font-size="7.5" text-anchor="middle">% of Gated cells</text>
<text transform="translate(21.9,266.3) rotate(-90)" font-size="7.5" text-anchor="middle">(mean ± SEM)</text>
<path d="M49.09 324.8v1.5M50.68 324.8v1.5M52.26 324.8v1.5M53.84 324.8v1.5M55.43 324.8v1.5M57.02 324.8v1.5M58.6 324.8v1.5M60.19 324.8v1.5M61.77 324.8v1.5M63.36 324.8v1.5M64.94 324.8v1.5M66.53 324.8v1.5M68.11 324.8v1.5M69.69 324.8v1.5M71.28 324.8v1.5M72.87 324.8v1.5M74.45 324.8v1.5M76.03 324.8v1.5M77.62 324.8v1.5M79.2 324.8v1.5M80.79 324.8v1.5M82.38 324.8v1.5M83.96 324.8v1.5M85.55 324.8v1.5M87.13 324.8v1.5M88.72 324.8v1.5M90.3 324.8v1.5M91.88 324.8v1.5M93.47 324.8v1.5M95.06 324.8v1.5M96.64 324.8v1.5M98.22 324.8v1.5M99.81 324.8v1.5M101.4 324.8v1.5M102.98 324.8v1.5M104.56 324.8v1.5M106.15 324.8v1.5M107.73 324.8v1.5M109.32 324.8v1.5M110.91 324.8v1.5M112.49 324.8v1.5M114.08 324.8v1.5M115.66 324.8v1.5M117.25 324.8v1.5M118.83 324.8v1.5M120.41 324.8v1.5M122 324.8v1.5M123.59 324.8v1.5M125.17 324.8v1.5M126.75 324.8v1.5M128.34 324.8v1.5M129.93 324.8v1.5M131.51 324.8v1.5M133.09 324.8v1.5M134.68 324.8v1.5M136.26 324.8v1.5M137.85 324.8v1.5M139.44 324.8v1.5M141.02 324.8v1.5M142.6 324.8v1.5M144.19 324.8v1.5M145.78 324.8v1.5M147.36 324.8v1.5M148.94 324.8v1.5M150.53 324.8v1.5M152.12 324.8v1.5M153.7 324.8v1.5M155.28 324.8v1.5M156.87 324.8v1.5M158.46 324.8v1.5M160.04 324.8v1.5M161.62 324.8v1.5M163.21 324.8v1.5M164.79 324.8v1.5M166.38 324.8v1.5M167.97 324.8v1.5M169.55 324.8v1.5M171.13 324.8v1.5M172.72 324.8v1.5M174.31 324.8v1.5M175.89 324.8v1.5M177.47 324.8v1.5M179.06 324.8v1.5M180.65 324.8v1.5M182.23 324.8v1.5M183.81 324.8v1.5M185.4 324.8v1.5M186.98 324.8v1.5M188.57 324.8v1.5M190.16 324.8v1.5M191.74 324.8v1.5M193.32 324.8v1.5M194.91 324.8v1.5M196.5 324.8v1.5M198.08 324.8v1.5M199.66 324.8v1.5M201.25 324.8v1.5M202.83 324.8v1.5M204.42 324.8v1.5M206 324.8v1.5M207.59 324.8v1.5M209.17 324.8v1.5M210.76 324.8v1.5M212.34 324.8v1.5M220.5 324.8v1.5M222.09 324.8v1.5M223.67 324.8v1.5M225.26 324.8v1.5M226.84 324.8v1.5M228.43 324.8v1.5M230.01 324.8v1.5M231.6 324.8v1.5M233.18 324.8v1.5M234.77 324.8v1.5M236.35 324.8v1.5M237.94 324.8v1.5" stroke="#9a9a9a" stroke-width="0.55"/>
<path d="M45 324.8v2.2M58.75 324.8v2.2M70 324.8v2.2M81.25 324.8v2.2M92.5 324.8v2.2M103.75 324.8v2.2M114.5 324.8v2.2M125 324.8v2.2M136.8 324.8v2.2M148.2 324.8v2.2M159.2 324.8v2.2M169.3 324.8v2.2M180.3 324.8v2.2M191.5 324.8v2.2M202.4 324.8v2.2M213.4 324.8v2.2" stroke="#222" stroke-width="0.8"/>
<line x1="43.75" y1="324.8" x2="213.75" y2="324.8" stroke="#111" stroke-width="1.1"/>
<line x1="219.5" y1="324.8" x2="238.75" y2="324.8" stroke="#111" stroke-width="1.1"/>
<path d="M213.75 323V326.6M219.5 323V326.6" stroke="#111" stroke-width="0.9"/>
<text transform="translate(45,336.05) scale(0.92,1)" font-size="7.9" text-anchor="middle">−7</text>
<text transform="translate(58.75,336.05) scale(0.92,1)" font-size="7.9" text-anchor="middle">0</text>
<text transform="translate(70,336.05) scale(0.92,1)" font-size="7.9" text-anchor="middle">7</text>
<text transform="translate(81.25,336.05) scale(0.92,1)" font-size="7.9" text-anchor="middle">14</text>
<text transform="translate(92.5,336.05) scale(0.92,1)" font-size="7.9" text-anchor="middle">21</text>
<text transform="translate(103.75,336.05) scale(0.92,1)" font-size="7.9" text-anchor="middle">28</text>
<text transform="translate(114.5,336.05) scale(0.92,1)" font-size="7.9" text-anchor="middle">35</text>
<text transform="translate(125,336.05) scale(0.92,1)" font-size="7.9" text-anchor="middle">42</text>
<text transform="translate(136.8,336.05) scale(0.92,1)" font-size="7.9" text-anchor="middle">49</text>
<text transform="translate(148.2,336.05) scale(0.92,1)" font-size="7.9" text-anchor="middle">56</text>
<text transform="translate(159.2,336.05) scale(0.92,1)" font-size="7.9" text-anchor="middle">63</text>
<text transform="translate(169.3,336.05) scale(0.92,1)" font-size="7.9" text-anchor="middle">70</text>
<text transform="translate(180.3,336.05) scale(0.92,1)" font-size="7.9" text-anchor="middle">77</text>
<text transform="translate(191.5,336.05) scale(0.92,1)" font-size="7.9" text-anchor="middle">84</text>
<text transform="translate(202.4,336.05) scale(0.92,1)" font-size="7.9" text-anchor="middle">91</text>
<text transform="translate(213.4,336.05) scale(0.92,1)" font-size="7.9" text-anchor="middle">98</text>
<text transform="translate(223.2,336.05) scale(0.92,1)" font-size="7.9" text-anchor="middle">105</text>
<text transform="translate(238.3,336.05) scale(0.92,1)" font-size="7.9" text-anchor="middle">126</text>
<path d="M59.25 341.5V337.8" stroke="#222" stroke-width="0.8"/>
<path d="M57.85 339L59.25 337L60.65 339" stroke="#222" stroke-width="0.8" fill="none"/>
<text x="59.25" y="352.6" font-size="8.2" text-anchor="middle">V</text>
<path d="M70.5 341.5V337.8" stroke="#222" stroke-width="0.8"/>
<path d="M69.1 339L70.5 337L71.9 339" stroke="#222" stroke-width="0.8" fill="none"/>
<text x="70.5" y="353.3" font-size="8.2" text-anchor="middle">D</text>
<path d="M81.75 341.5V337.8" stroke="#222" stroke-width="0.8"/>
<path d="M80.35 339L81.75 337L83.15 339" stroke="#222" stroke-width="0.8" fill="none"/>
<text x="81.75" y="353.3" font-size="8.2" text-anchor="middle">D</text>
<path d="M93 341.5V337.8" stroke="#222" stroke-width="0.8"/>
<path d="M91.6 339L93 337L94.4 339" stroke="#222" stroke-width="0.8" fill="none"/>
<text x="93" y="353.3" font-size="8.2" text-anchor="middle">D</text>
<path d="M104.25 341.5V337.8" stroke="#222" stroke-width="0.8"/>
<path d="M102.85 339L104.25 337L105.65 339" stroke="#222" stroke-width="0.8" fill="none"/>
<text x="104.25" y="353.3" font-size="8.2" text-anchor="middle">D</text>
<text x="141" y="362.5" font-size="7.5" text-anchor="middle">Study days</text>
<clipPath id="cC"><rect x="43.75" y="174.3" width="170" height="160.5"/><rect x="219.5" y="174.3" width="25.25" height="160.5"/></clipPath>
<path d="M47.51 319.98V318.78M45.91 318.78H49.11M60.19 321.19V319.98M58.59 319.98H61.79M64.94 321.91V320.7M63.34 320.7H66.54M71.28 321.19V319.98M69.68 319.98H72.88M72.87 304.31V303.11M71.27 303.11H74.47M76.03 317.57V316.37M74.44 316.37H77.63M82.38 318.78V317.57M80.78 317.57H83.97M83.96 319.98V318.78M82.36 318.78H85.56M87.13 321.19V319.98M85.53 319.98H88.73M93.47 321.19V319.98M91.87 319.98H95.07M95.06 321.19V319.98M93.46 319.98H96.66M98.22 321.19V319.98M96.62 319.98H99.82M104.56 321.19V319.98M102.97 319.98H106.16M106.15 321.19V319.98M104.55 319.98H107.75M109.32 321.19V319.98M107.72 319.98H110.92M117.25 321.19V319.98M115.65 319.98H118.84M128.34 319.98V318.78M126.74 318.78H129.94M139.44 319.98V318.78M137.84 318.78H141.03M150.53 319.98V318.78M148.93 318.78H152.13M161.62 319.98V318.78M160.03 318.78H163.22M183.81 319.98V318.78M182.22 318.78H185.41M206 319.98V318.78M204.41 318.78H207.6M225.8 319.98V318.78M224.2 318.78H227.4M235.9 319.98V318.78M234.3 318.78H237.5" stroke="#b07cc8" stroke-width="0.8" fill="none"/>
<path d="M47.51 319.98 L60.19 321.19 L64.94 321.91 L71.28 321.19 L72.87 304.31 L76.03 317.57 L82.38 318.78 L83.96 319.98 L87.13 321.19 L93.47 321.19 L95.06 321.19 L98.22 321.19 L104.56 321.19 L106.15 321.19 L109.32 321.19 L117.25 321.19 L128.34 319.98 L139.44 319.98 L150.53 319.98 L161.62 319.98 L183.81 319.98 L206 319.98 L216.62 319.98 L225.8 319.98 L235.9 319.98" fill="none" stroke="#a26bc0" stroke-width="1.0" stroke-linejoin="round" clip-path="url(#cC)"/>
<rect x="45.71" y="318.18" width="3.6" height="3.6" fill="#8a4a9f"/>
<rect x="58.39" y="319.38" width="3.6" height="3.6" fill="#8a4a9f"/>
<rect x="63.14" y="320.11" width="3.6" height="3.6" fill="#8a4a9f"/>
<rect x="69.48" y="319.38" width="3.6" height="3.6" fill="#8a4a9f"/>
<rect x="71.07" y="302.51" width="3.6" height="3.6" fill="#8a4a9f"/>
<rect x="74.23" y="315.77" width="3.6" height="3.6" fill="#8a4a9f"/>
<rect x="80.58" y="316.98" width="3.6" height="3.6" fill="#8a4a9f"/>
<rect x="82.16" y="318.18" width="3.6" height="3.6" fill="#8a4a9f"/>
<rect x="85.33" y="319.38" width="3.6" height="3.6" fill="#8a4a9f"/>
<rect x="91.67" y="319.38" width="3.6" height="3.6" fill="#8a4a9f"/>
<rect x="93.26" y="319.38" width="3.6" height="3.6" fill="#8a4a9f"/>
<rect x="96.42" y="319.38" width="3.6" height="3.6" fill="#8a4a9f"/>
<rect x="102.77" y="319.38" width="3.6" height="3.6" fill="#8a4a9f"/>
<rect x="104.35" y="319.38" width="3.6" height="3.6" fill="#8a4a9f"/>
<rect x="107.52" y="319.38" width="3.6" height="3.6" fill="#8a4a9f"/>
<rect x="115.45" y="319.38" width="3.6" height="3.6" fill="#8a4a9f"/>
<rect x="126.54" y="318.18" width="3.6" height="3.6" fill="#8a4a9f"/>
<rect x="137.63" y="318.18" width="3.6" height="3.6" fill="#8a4a9f"/>
<rect x="148.73" y="318.18" width="3.6" height="3.6" fill="#8a4a9f"/>
<rect x="159.82" y="318.18" width="3.6" height="3.6" fill="#8a4a9f"/>
<rect x="182.01" y="318.18" width="3.6" height="3.6" fill="#8a4a9f"/>
<rect x="204.2" y="318.18" width="3.6" height="3.6" fill="#8a4a9f"/>
<rect x="224" y="318.18" width="3.6" height="3.6" fill="#8a4a9f"/>
<rect x="234.1" y="318.18" width="3.6" height="3.6" fill="#8a4a9f"/>
<path d="M47.51 317.57V316.37M45.91 316.37H49.11M60.19 319.98V318.78M58.59 318.78H61.79M64.94 321.19V319.98M63.34 319.98H66.54M71.28 320.46V319.26M69.68 319.26H72.88M72.87 305.52V304.31M71.27 304.31H74.47M76.03 316.37V315.16M74.44 315.16H77.63M82.38 317.57V316.37M80.78 316.37H83.97M83.96 318.78V317.57M82.36 317.57H85.56M87.13 319.98V318.78M85.53 318.78H88.73M93.47 319.98V318.78M91.87 318.78H95.07M95.06 319.98V318.78M93.46 318.78H96.66M98.22 319.98V318.78M96.62 318.78H99.82M104.56 319.98V318.78M102.97 318.78H106.16M106.15 319.98V318.78M104.55 318.78H107.75M109.32 319.98V318.78M107.72 318.78H110.92M117.25 318.78V317.57M115.65 317.57H118.84M128.34 318.05V316.85M126.74 316.85H129.94M139.44 315.64V314.44M137.84 314.44H141.03M150.53 313.95V312.75M148.93 312.75H152.13M161.62 315.64V314.44M160.03 314.44H163.22M183.81 318.05V316.85M182.22 316.85H185.41M206 314.44V313.23M204.41 313.23H207.6M225.8 314.92V313.71M224.2 313.71H227.4M235.9 316.37V315.16M234.3 315.16H237.5" stroke="#6479b8" stroke-width="0.8" fill="none"/>
<path d="M47.51 317.57 L60.19 319.98 L64.94 321.19 L71.28 320.46 L72.87 305.52 L76.03 316.37 L82.38 317.57 L83.96 318.78 L87.13 319.98 L93.47 319.98 L95.06 319.98 L98.22 319.98 L104.56 319.98 L106.15 319.98 L109.32 319.98 L117.25 318.78 L128.34 318.05 L139.44 315.64 L150.53 313.95 L161.62 315.64 L183.81 318.05 L206 314.44 L216.62 314.68 L225.8 314.92 L235.9 316.37" fill="none" stroke="#4a64b0" stroke-width="1.0" stroke-linejoin="round" clip-path="url(#cC)"/>
<rect x="45.61" y="315.67" width="3.8" height="3.8" fill="#34498a"/>
<rect x="58.29" y="318.08" width="3.8" height="3.8" fill="#34498a"/>
<rect x="63.04" y="319.29" width="3.8" height="3.8" fill="#34498a"/>
<rect x="69.38" y="318.56" width="3.8" height="3.8" fill="#34498a"/>
<rect x="70.97" y="303.62" width="3.8" height="3.8" fill="#34498a"/>
<rect x="74.13" y="314.47" width="3.8" height="3.8" fill="#34498a"/>
<rect x="80.47" y="315.67" width="3.8" height="3.8" fill="#34498a"/>
<rect x="82.06" y="316.88" width="3.8" height="3.8" fill="#34498a"/>
<rect x="85.23" y="318.08" width="3.8" height="3.8" fill="#34498a"/>
<rect x="91.57" y="318.08" width="3.8" height="3.8" fill="#34498a"/>
<rect x="93.16" y="318.08" width="3.8" height="3.8" fill="#34498a"/>
<rect x="96.32" y="318.08" width="3.8" height="3.8" fill="#34498a"/>
<rect x="102.66" y="318.08" width="3.8" height="3.8" fill="#34498a"/>
<rect x="104.25" y="318.08" width="3.8" height="3.8" fill="#34498a"/>
<rect x="107.42" y="318.08" width="3.8" height="3.8" fill="#34498a"/>
<rect x="115.34" y="316.88" width="3.8" height="3.8" fill="#34498a"/>
<rect x="126.44" y="316.15" width="3.8" height="3.8" fill="#34498a"/>
<rect x="137.53" y="313.74" width="3.8" height="3.8" fill="#34498a"/>
<rect x="148.63" y="312.06" width="3.8" height="3.8" fill="#34498a"/>
<rect x="159.72" y="313.74" width="3.8" height="3.8" fill="#34498a"/>
<rect x="181.91" y="316.15" width="3.8" height="3.8" fill="#34498a"/>
<rect x="204.1" y="312.54" width="3.8" height="3.8" fill="#34498a"/>
<rect x="223.9" y="313.02" width="3.8" height="3.8" fill="#34498a"/>
<rect x="234" y="314.47" width="3.8" height="3.8" fill="#34498a"/>
<path d="M47.51 321.19V319.98M45.91 319.98H49.11M60.19 321.91V320.7M58.59 320.7H61.79M64.94 322.39V321.19M63.34 321.19H66.54M71.28 321.91V320.7M69.68 320.7H72.88M72.87 312.75V311.55M71.27 311.55H74.47M76.03 317.57V316.37M74.44 316.37H77.63M82.38 315.16V313.96M80.78 313.96H83.97M83.96 313.95V312.75M82.36 312.75H85.56M87.13 317.57V316.37M85.53 316.37H88.73M93.47 314.68V311.79M91.87 311.79H95.07M95.06 316.37V315.16M93.46 315.16H96.66M98.22 317.57V316.37M96.62 316.37H99.82M104.56 312.75V306.24M102.97 306.24H106.16M106.15 315.16V313.96M104.55 313.96H107.75M109.32 318.53V317.33M107.72 317.33H110.92M117.25 316.61V315.4M115.65 315.4H118.84M128.34 300.46V280.94M126.74 280.94H129.94M139.44 302.15V287.69M137.84 287.69H141.03M150.53 300.22V286.24M148.93 286.24H152.13M161.62 299.01V283.83M160.03 283.83H163.22M183.81 305.28V291.3M182.22 291.3H185.41M206 304.8V291.3M204.41 291.3H207.6M225.8 304.31V291.06M224.2 291.06H227.4M235.9 305.76V294.92M234.3 294.92H237.5" stroke="#6cc095" stroke-width="0.8" fill="none"/>
<path d="M47.51 321.19 L60.19 321.91 L64.94 322.39 L71.28 321.91 L72.87 312.75 L76.03 317.57 L82.38 315.16 L83.96 313.95 L87.13 317.57 L93.47 314.68 L95.06 316.37 L98.22 317.57 L104.56 312.75 L106.15 315.16 L109.32 318.53 L117.25 316.61 L128.34 300.46 L139.44 302.15 L150.53 300.22 L161.62 299.01 L183.81 305.28 L206 304.8 L216.62 304.56 L225.8 304.31 L235.9 305.76" fill="none" stroke="#3fbf80" stroke-width="1.0" stroke-linejoin="round" clip-path="url(#cC)"/>
<polygon points="47.51,318.58 50.11,321.19 47.51,323.79 44.91,321.19" fill="#2f9f68"/>
<polygon points="60.19,319.31 62.79,321.91 60.19,324.51 57.59,321.91" fill="#2f9f68"/>
<polygon points="64.94,319.79 67.54,322.39 64.94,324.99 62.34,322.39" fill="#2f9f68"/>
<polygon points="71.28,319.31 73.88,321.91 71.28,324.51 68.68,321.91" fill="#2f9f68"/>
<polygon points="72.87,310.15 75.47,312.75 72.87,315.35 70.27,312.75" fill="#2f9f68"/>
<polygon points="76.03,314.97 78.63,317.57 76.03,320.17 73.44,317.57" fill="#2f9f68"/>
<polygon points="82.38,312.56 84.97,315.16 82.38,317.76 79.78,315.16" fill="#2f9f68"/>
<polygon points="83.96,311.35 86.56,313.95 83.96,316.56 81.36,313.95" fill="#2f9f68"/>
<polygon points="87.13,314.97 89.73,317.57 87.13,320.17 84.53,317.57" fill="#2f9f68"/>
<polygon points="93.47,312.08 96.07,314.68 93.47,317.28 90.87,314.68" fill="#2f9f68"/>
<polygon points="95.06,313.76 97.66,316.37 95.06,318.97 92.46,316.37" fill="#2f9f68"/>
<polygon points="98.22,314.97 100.82,317.57 98.22,320.17 95.62,317.57" fill="#2f9f68"/>
<polygon points="104.56,310.15 107.16,312.75 104.56,315.35 101.97,312.75" fill="#2f9f68"/>
<polygon points="106.15,312.56 108.75,315.16 106.15,317.76 103.55,315.16" fill="#2f9f68"/>
<polygon points="109.32,315.93 111.92,318.53 109.32,321.13 106.72,318.53" fill="#2f9f68"/>
<polygon points="117.25,314.01 119.84,316.61 117.25,319.21 114.65,316.61" fill="#2f9f68"/>
<polygon points="128.34,297.86 130.94,300.46 128.34,303.06 125.74,300.46" fill="#2f9f68"/>
<polygon points="139.44,299.55 142.03,302.15 139.44,304.75 136.84,302.15" fill="#2f9f68"/>
<polygon points="150.53,297.62 153.13,300.22 150.53,302.82 147.93,300.22" fill="#2f9f68"/>
<polygon points="161.62,296.41 164.22,299.01 161.62,301.61 159.03,299.01" fill="#2f9f68"/>
<polygon points="183.81,302.68 186.41,305.28 183.81,307.88 181.22,305.28" fill="#2f9f68"/>
<polygon points="206,302.2 208.6,304.8 206,307.4 203.41,304.8" fill="#2f9f68"/>
<polygon points="225.8,301.71 228.4,304.31 225.8,306.92 223.2,304.31" fill="#2f9f68"/>
<polygon points="235.9,303.16 238.5,305.76 235.9,308.36 233.3,305.76" fill="#2f9f68"/>
<path d="M47.51 320.7V319.5M45.91 319.5H49.11M60.19 321.19V319.98M58.59 319.98H61.79M64.94 321.91V320.7M63.34 320.7H66.54M71.28 319.5V318.29M69.68 318.29H72.88M72.87 287.93V273.23M71.27 273.23H74.47M76.03 315.64V314.44M74.44 314.44H77.63M82.38 312.75V311.55M80.78 311.55H83.97M83.96 313.95V312.75M82.36 312.75H85.56M87.13 317.57V316.37M85.53 316.37H88.73M93.47 318.53V317.33M91.87 317.33H95.07M95.06 318.53V317.33M93.46 317.33H96.66M98.22 319.98V318.78M96.62 318.78H99.82M104.56 318.53V317.33M102.97 317.33H106.16M106.15 319.98V318.78M104.55 318.78H107.75M109.32 321.19V319.98M107.72 319.98H110.92M117.25 321.19V319.98M115.65 319.98H118.84M128.34 319.98V318.78M126.74 318.78H129.94M139.44 305.28V288.17M137.84 288.17H141.03M150.53 308.65V305.04M148.93 305.04H152.13M161.62 315.16V313.96M160.03 313.96H163.22M183.81 318.78V317.57M182.22 317.57H185.41M206 318.78V317.57M204.41 317.57H207.6M225.8 318.78V317.57M224.2 317.57H227.4M235.9 318.78V317.57M234.3 317.57H237.5" stroke="#e06a95" stroke-width="0.8" fill="none"/>
<path d="M47.51 320.7 L60.19 321.19 L64.94 321.91 L71.28 319.5 L72.87 287.93 L76.03 315.64 L82.38 312.75 L83.96 313.95 L87.13 317.57 L93.47 318.53 L95.06 318.53 L98.22 319.98 L104.56 318.53 L106.15 319.98 L109.32 321.19 L117.25 321.19 L128.34 319.98 L139.44 305.28 L150.53 308.65 L161.62 315.16 L183.81 318.78 L206 318.78 L216.62 318.78 L225.8 318.78 L235.9 318.78" fill="none" stroke="#e5487e" stroke-width="1.0" stroke-linejoin="round" clip-path="url(#cC)"/>
<circle cx="47.51" cy="320.7" r="2.2" fill="#c8306a"/>
<circle cx="60.19" cy="321.19" r="2.2" fill="#c8306a"/>
<circle cx="64.94" cy="321.91" r="2.2" fill="#c8306a"/>
<circle cx="71.28" cy="319.5" r="2.2" fill="#c8306a"/>
<circle cx="72.87" cy="287.93" r="2.2" fill="#c8306a"/>
<circle cx="76.03" cy="315.64" r="2.2" fill="#c8306a"/>
<circle cx="82.38" cy="312.75" r="2.2" fill="#c8306a"/>
<circle cx="83.96" cy="313.95" r="2.2" fill="#c8306a"/>
<circle cx="87.13" cy="317.57" r="2.2" fill="#c8306a"/>
<circle cx="93.47" cy="318.53" r="2.2" fill="#c8306a"/>
<circle cx="95.06" cy="318.53" r="2.2" fill="#c8306a"/>
<circle cx="98.22" cy="319.98" r="2.2" fill="#c8306a"/>
<circle cx="104.56" cy="318.53" r="2.2" fill="#c8306a"/>
<circle cx="106.15" cy="319.98" r="2.2" fill="#c8306a"/>
<circle cx="109.32" cy="321.19" r="2.2" fill="#c8306a"/>
<circle cx="117.25" cy="321.19" r="2.2" fill="#c8306a"/>
<circle cx="128.34" cy="319.98" r="2.2" fill="#c8306a"/>
<circle cx="139.44" cy="305.28" r="2.2" fill="#c8306a"/>
<circle cx="150.53" cy="308.65" r="2.2" fill="#c8306a"/>
<circle cx="161.62" cy="315.16" r="2.2" fill="#c8306a"/>
<circle cx="183.81" cy="318.78" r="2.2" fill="#c8306a"/>
<circle cx="206" cy="318.78" r="2.2" fill="#c8306a"/>
<circle cx="225.8" cy="318.78" r="2.2" fill="#c8306a"/>
<circle cx="235.9" cy="318.78" r="2.2" fill="#c8306a"/>
<path d="M47.51 322.39V321.19M45.71 321.19H49.3M60.19 322.87V321.67M58.39 321.67H61.98M64.94 322.87V321.67M63.14 321.67H66.74M71.28 322.63V321.43M69.48 321.43H73.08M72.87 322.87V321.67M71.07 321.67H74.67M76.03 322.87V321.67M74.23 321.67H77.83M82.38 322.87V321.67M80.58 321.67H84.17M83.96 322.87V321.67M82.16 321.67H85.76M87.13 322.87V321.67M85.33 321.67H88.93M93.47 322.87V321.67M91.67 321.67H95.27M95.06 322.87V321.67M93.26 321.67H96.86M98.22 322.87V321.67M96.42 321.67H100.02M104.56 322.87V321.67M102.77 321.67H106.36M106.15 322.87V321.67M104.35 321.67H107.95M109.32 322.87V321.67M107.52 321.67H111.12M117.25 322.87V321.67M115.45 321.67H119.05M128.34 322.39V321.19M126.54 321.19H130.14M139.44 321.91V320.7M137.63 320.7H141.24M150.53 321.91V320.7M148.73 320.7H152.33M161.62 322.15V320.94M159.82 320.94H163.43M183.81 322.39V321.19M182.01 321.19H185.62M206 322.15V320.94M204.2 320.94H207.81M225.8 322.39V321.19M224 321.19H227.6M235.9 322.39V321.19M234.1 321.19H237.7" stroke="#111111" stroke-width="1.0" fill="none"/>
<path d="M47.51 322.39 L60.19 322.87 L64.94 322.87 L71.28 322.63 L72.87 322.87 L76.03 322.87 L82.38 322.87 L83.96 322.87 L87.13 322.87 L93.47 322.87 L95.06 322.87 L98.22 322.87 L104.56 322.87 L106.15 322.87 L109.32 322.87 L117.25 322.87 L128.34 322.39 L139.44 321.91 L150.53 321.91 L161.62 322.15 L183.81 322.39 L206 322.15 L216.62 322.27 L225.8 322.39 L235.9 322.39" fill="none" stroke="#1a1a1a" stroke-width="1.25" stroke-linejoin="round" clip-path="url(#cC)"/>
<polygon points="47.51,320.24 49.76,324.11 45.25,324.11" fill="#fff" stroke="#000" stroke-width="1.1"/>
<polygon points="60.19,320.72 62.44,324.59 57.93,324.59" fill="#fff" stroke="#000" stroke-width="1.1"/>
<polygon points="64.94,320.72 67.2,324.59 62.68,324.59" fill="#fff" stroke="#000" stroke-width="1.1"/>
<polygon points="71.28,320.48 73.54,324.35 69.02,324.35" fill="#fff" stroke="#000" stroke-width="1.1"/>
<polygon points="72.87,320.72 75.12,324.59 70.61,324.59" fill="#fff" stroke="#000" stroke-width="1.1"/>
<polygon points="76.03,320.72 78.29,324.59 73.78,324.59" fill="#fff" stroke="#000" stroke-width="1.1"/>
<polygon points="82.38,320.72 84.63,324.59 80.12,324.59" fill="#fff" stroke="#000" stroke-width="1.1"/>
<polygon points="83.96,320.72 86.22,324.59 81.7,324.59" fill="#fff" stroke="#000" stroke-width="1.1"/>
<polygon points="87.13,320.72 89.39,324.59 84.87,324.59" fill="#fff" stroke="#000" stroke-width="1.1"/>
<polygon points="93.47,320.72 95.73,324.59 91.21,324.59" fill="#fff" stroke="#000" stroke-width="1.1"/>
<polygon points="95.06,320.72 97.31,324.59 92.8,324.59" fill="#fff" stroke="#000" stroke-width="1.1"/>
<polygon points="98.22,320.72 100.48,324.59 95.97,324.59" fill="#fff" stroke="#000" stroke-width="1.1"/>
<polygon points="104.56,320.72 106.82,324.59 102.31,324.59" fill="#fff" stroke="#000" stroke-width="1.1"/>
<polygon points="106.15,320.72 108.41,324.59 103.89,324.59" fill="#fff" stroke="#000" stroke-width="1.1"/>
<polygon points="109.32,320.72 111.58,324.59 107.06,324.59" fill="#fff" stroke="#000" stroke-width="1.1"/>
<polygon points="117.25,320.72 119.5,324.59 114.99,324.59" fill="#fff" stroke="#000" stroke-width="1.1"/>
<polygon points="128.34,320.24 130.6,324.11 126.08,324.11" fill="#fff" stroke="#000" stroke-width="1.1"/>
<polygon points="139.44,319.76 141.69,323.63 137.18,323.63" fill="#fff" stroke="#000" stroke-width="1.1"/>
<polygon points="150.53,319.76 152.79,323.63 148.27,323.63" fill="#fff" stroke="#000" stroke-width="1.1"/>
<polygon points="161.62,320 163.88,323.87 159.37,323.87" fill="#fff" stroke="#000" stroke-width="1.1"/>
<polygon points="183.81,320.24 186.07,324.11 181.56,324.11" fill="#fff" stroke="#000" stroke-width="1.1"/>
<polygon points="206,320 208.26,323.87 203.75,323.87" fill="#fff" stroke="#000" stroke-width="1.1"/>
<polygon points="225.8,320.24 228.06,324.11 223.54,324.11" fill="#fff" stroke="#000" stroke-width="1.1"/>
<polygon points="235.9,320.24 238.16,324.11 233.64,324.11" fill="#fff" stroke="#000" stroke-width="1.1"/>
</g>
<g id="pD">
<text x="261.5" y="203" font-size="17.5" text-anchor="start" font-weight="bold">D</text>
<text x="408.2" y="196" font-size="7.7" font-weight="bold" text-anchor="middle"><tspan>CD8</tspan><tspan font-size="4.77" dy="-3">+</tspan><tspan dy="3">CD69</tspan><tspan font-size="4.77" dy="-3">+</tspan><tspan dy="3"> Cells</tspan></text>
<line x1="434.8" y1="209.8" x2="444" y2="209.8" stroke="#000" stroke-width="1"/>
<polygon points="439.4,207.97 441.32,211.26 437.48,211.26" fill="#fff" stroke="#000" stroke-width="1.1"/>
<text x="449.2" y="212.4" font-size="7.6" text-anchor="start">Vehicle</text>
<line x1="434.8" y1="217.8" x2="444" y2="217.8" stroke="#a26bc0" stroke-width="1"/>
<rect x="437.87" y="216.27" width="3.06" height="3.06" fill="#8a4a9f"/>
<text x="449.2" y="220.4" font-size="7.6" text-anchor="start">0.2 µg/kg</text>
<line x1="434.8" y1="226.2" x2="444" y2="226.2" stroke="#4a64b0" stroke-width="1"/>
<rect x="437.78" y="224.58" width="3.23" height="3.23" fill="#34498a"/>
<text x="449.2" y="228.8" font-size="7.6" text-anchor="start">2 µg/kg</text>
<line x1="434.8" y1="234.5" x2="444" y2="234.5" stroke="#3fbf80" stroke-width="1"/>
<polygon points="439.4,232.29 441.61,234.5 439.4,236.71 437.19,234.5" fill="#2f9f68"/>
<text x="449.2" y="237.1" font-size="7.6" text-anchor="start">5 µg/kg</text>
<line x1="434.8" y1="242.5" x2="444" y2="242.5" stroke="#e5487e" stroke-width="1"/>
<circle cx="439.4" cy="242.5" r="1.87" fill="#c8306a"/>
<text x="449.2" y="245.1" font-size="7.6" text-anchor="start">10 µg/kg</text>
<line x1="303.25" y1="205" x2="303.25" y2="325" stroke="#4a4a4a" stroke-width="1.15"/>
<line x1="301.65" y1="325" x2="303.25" y2="325" stroke="#333" stroke-width="0.8"/>
<line x1="301.65" y1="313" x2="303.25" y2="313" stroke="#333" stroke-width="0.8"/>
<line x1="301.65" y1="301" x2="303.25" y2="301" stroke="#333" stroke-width="0.8"/>
<line x1="301.65" y1="289" x2="303.25" y2="289" stroke="#333" stroke-width="0.8"/>
<line x1="301.65" y1="277" x2="303.25" y2="277" stroke="#333" stroke-width="0.8"/>
<line x1="301.65" y1="265" x2="303.25" y2="265" stroke="#333" stroke-width="0.8"/>
<line x1="301.65" y1="253" x2="303.25" y2="253" stroke="#333" stroke-width="0.8"/>
<line x1="301.65" y1="241" x2="303.25" y2="241" stroke="#333" stroke-width="0.8"/>
<line x1="301.65" y1="229" x2="303.25" y2="229" stroke="#333" stroke-width="0.8"/>
<line x1="301.65" y1="217" x2="303.25" y2="217" stroke="#333" stroke-width="0.8"/>
<line x1="301.65" y1="205" x2="303.25" y2="205" stroke="#333" stroke-width="0.8"/>
<line x1="300.65" y1="325" x2="303.25" y2="325" stroke="#222" stroke-width="0.9"/>
<text x="300.05" y="328.37" font-size="7.7" text-anchor="end">0</text>
<line x1="300.65" y1="301" x2="303.25" y2="301" stroke="#222" stroke-width="0.9"/>
<text x="300.05" y="304.37" font-size="7.7" text-anchor="end">10</text>
<line x1="300.65" y1="277" x2="303.25" y2="277" stroke="#222" stroke-width="0.9"/>
<text x="300.05" y="280.37" font-size="7.7" text-anchor="end">20</text>
<line x1="300.65" y1="253" x2="303.25" y2="253" stroke="#222" stroke-width="0.9"/>
<text x="300.05" y="256.37" font-size="7.7" text-anchor="end">30</text>
<line x1="300.65" y1="229" x2="303.25" y2="229" stroke="#222" stroke-width="0.9"/>
<text x="300.05" y="232.37" font-size="7.7" text-anchor="end">40</text>
<line x1="300.65" y1="205" x2="303.25" y2="205" stroke="#222" stroke-width="0.9"/>
<text x="300.05" y="208.37" font-size="7.7" text-anchor="end">50</text>
<text transform="translate(274.4,266.5) rotate(-90)" font-size="7.5" text-anchor="middle">% of Gated cells</text>
<text transform="translate(283.1,266.5) rotate(-90)" font-size="7.5" text-anchor="middle">(mean ± SEM)</text>
<path d="M309.38 325v1.5M311.09 325v1.5M312.79 325v1.5M314.49 325v1.5M316.19 325v1.5M317.9 325v1.5M319.6 325v1.5M321.3 325v1.5M323.01 325v1.5M324.71 325v1.5M326.41 325v1.5M328.12 325v1.5M329.82 325v1.5M331.52 325v1.5M333.22 325v1.5M334.93 325v1.5M336.63 325v1.5M338.33 325v1.5M340.04 325v1.5M341.74 325v1.5M343.44 325v1.5M345.15 325v1.5M346.85 325v1.5M348.55 325v1.5M350.25 325v1.5M351.96 325v1.5M353.66 325v1.5M355.36 325v1.5M357.07 325v1.5M358.77 325v1.5M360.47 325v1.5M362.18 325v1.5M363.88 325v1.5M365.58 325v1.5M367.28 325v1.5M368.99 325v1.5M370.69 325v1.5M372.39 325v1.5M374.1 325v1.5M375.8 325v1.5M377.5 325v1.5M379.21 325v1.5M380.91 325v1.5M382.61 325v1.5M384.31 325v1.5M386.02 325v1.5M387.72 325v1.5M389.42 325v1.5M391.13 325v1.5M392.83 325v1.5M394.53 325v1.5M396.24 325v1.5M397.94 325v1.5M399.64 325v1.5M401.34 325v1.5M403.05 325v1.5M404.75 325v1.5M406.45 325v1.5M408.16 325v1.5M409.86 325v1.5M411.56 325v1.5M413.27 325v1.5M414.97 325v1.5M416.67 325v1.5M418.37 325v1.5M420.08 325v1.5M421.78 325v1.5M423.48 325v1.5M425.19 325v1.5M426.89 325v1.5M428.59 325v1.5M430.3 325v1.5M432 325v1.5M433.7 325v1.5M435.4 325v1.5M437.11 325v1.5M438.81 325v1.5M440.51 325v1.5M442.22 325v1.5M443.92 325v1.5M445.62 325v1.5M447.33 325v1.5M449.03 325v1.5M450.73 325v1.5M452.43 325v1.5M454.14 325v1.5M455.84 325v1.5M457.54 325v1.5M459.25 325v1.5M460.95 325v1.5M462.65 325v1.5M464.36 325v1.5M466.06 325v1.5M467.76 325v1.5M469.46 325v1.5M471.17 325v1.5M472.87 325v1.5M474.57 325v1.5M476.28 325v1.5M477.98 325v1.5M479.68 325v1.5M481.38 325v1.5M483.09 325v1.5M484.79 325v1.5M486.49 325v1.5M488.2 325v1.5M493.7 325v1.5M495.4 325v1.5M497.11 325v1.5M498.81 325v1.5M500.51 325v1.5M502.21 325v1.5M503.92 325v1.5M505.62 325v1.5M507.32 325v1.5M509.03 325v1.5M510.73 325v1.5M512.43 325v1.5M514.14 325v1.5" stroke="#9a9a9a" stroke-width="0.55"/>
<path d="M306.25 325v2.2M319.5 325v2.2M331.75 325v2.2M343.75 325v2.2M356.25 325v2.2M368 325v2.2M380 325v2.2M391.5 325v2.2M403.5 325v2.2M415.7 325v2.2M427.6 325v2.2M439.6 325v2.2M451.5 325v2.2M463.5 325v2.2M475.5 325v2.2M487.3 325v2.2" stroke="#222" stroke-width="0.8"/>
<line x1="303.25" y1="325" x2="489.2" y2="325" stroke="#111" stroke-width="1.1"/>
<line x1="492.7" y1="325" x2="514.8" y2="325" stroke="#111" stroke-width="1.1"/>
<path d="M489.2 323.2V326.8M492.7 323.2V326.8" stroke="#111" stroke-width="0.9"/>
<text transform="translate(306.25,335.75) scale(0.92,1)" font-size="7.9" text-anchor="middle">−7</text>
<text transform="translate(319.5,335.75) scale(0.92,1)" font-size="7.9" text-anchor="middle">0</text>
<text transform="translate(331.75,335.75) scale(0.92,1)" font-size="7.9" text-anchor="middle">7</text>
<text transform="translate(343.75,335.75) scale(0.92,1)" font-size="7.9" text-anchor="middle">14</text>
<text transform="translate(356.25,335.75) scale(0.92,1)" font-size="7.9" text-anchor="middle">21</text>
<text transform="translate(368,335.75) scale(0.92,1)" font-size="7.9" text-anchor="middle">28</text>
<text transform="translate(380,335.75) scale(0.92,1)" font-size="7.9" text-anchor="middle">35</text>
<text transform="translate(391.5,335.75) scale(0.92,1)" font-size="7.9" text-anchor="middle">42</text>
<text transform="translate(403.5,335.75) scale(0.92,1)" font-size="7.9" text-anchor="middle">49</text>
<text transform="translate(415.7,335.75) scale(0.92,1)" font-size="7.9" text-anchor="middle">56</text>
<text transform="translate(427.6,335.75) scale(0.92,1)" font-size="7.9" text-anchor="middle">63</text>
<text transform="translate(439.6,335.75) scale(0.92,1)" font-size="7.9" text-anchor="middle">70</text>
<text transform="translate(451.5,335.75) scale(0.92,1)" font-size="7.9" text-anchor="middle">77</text>
<text transform="translate(463.5,335.75) scale(0.92,1)" font-size="7.9" text-anchor="middle">84</text>
<text transform="translate(475.5,335.75) scale(0.92,1)" font-size="7.9" text-anchor="middle">91</text>
<text transform="translate(487.3,335.75) scale(0.92,1)" font-size="7.9" text-anchor="middle">98</text>
<text transform="translate(497.5,335.75) scale(0.92,1)" font-size="7.9" text-anchor="middle">105</text>
<text transform="translate(513.6,335.75) scale(0.92,1)" font-size="7.9" text-anchor="middle">126</text>
<path d="M320 341.5V337.8" stroke="#222" stroke-width="0.8"/>
<path d="M318.6 339L320 337L321.4 339" stroke="#222" stroke-width="0.8" fill="none"/>
<text x="320" y="352.4" font-size="8.2" text-anchor="middle">V</text>
<path d="M332.25 341.5V337.8" stroke="#222" stroke-width="0.8"/>
<path d="M330.85 339L332.25 337L333.65 339" stroke="#222" stroke-width="0.8" fill="none"/>
<text x="332.25" y="353.1" font-size="8.2" text-anchor="middle">D</text>
<path d="M344.25 341.5V337.8" stroke="#222" stroke-width="0.8"/>
<path d="M342.85 339L344.25 337L345.65 339" stroke="#222" stroke-width="0.8" fill="none"/>
<text x="344.25" y="353.1" font-size="8.2" text-anchor="middle">D</text>
<path d="M356.75 341.5V337.8" stroke="#222" stroke-width="0.8"/>
<path d="M355.35 339L356.75 337L358.15 339" stroke="#222" stroke-width="0.8" fill="none"/>
<text x="356.75" y="353.1" font-size="8.2" text-anchor="middle">D</text>
<path d="M368.5 341.5V337.8" stroke="#222" stroke-width="0.8"/>
<path d="M367.1 339L368.5 337L369.9 339" stroke="#222" stroke-width="0.8" fill="none"/>
<text x="368.5" y="353.1" font-size="8.2" text-anchor="middle">D</text>
<text x="408" y="362.5" font-size="7.5" text-anchor="middle">Study days</text>
<clipPath id="cD"><rect x="303.25" y="175" width="185.95" height="160"/><rect x="492.7" y="175" width="28.1" height="160"/></clipPath>
<path d="M307.68 307.24V305.08M306.08 305.08H309.28M321.3 313V310.84M319.7 310.84H322.9M326.41 314.2V312.04M324.81 312.04H328.01M333.22 313V310.84M331.62 310.84H334.82M334.93 259V256.84M333.33 256.84H336.53M338.33 308.92V306.76M336.73 306.76H339.93M345.15 294.04V291.88M343.55 291.88H346.75M346.85 310.6V308.44M345.25 308.44H348.45M350.25 311.8V309.64M348.65 309.64H351.85M357.07 303.4V301.24M355.47 301.24H358.67M358.77 313V310.84M357.17 310.84H360.37M362.18 313V310.84M360.57 310.84H363.78M368.99 310.6V308.44M367.39 308.44H370.59M370.69 314.2V312.04M369.09 312.04H372.29M374.1 315.4V313.24M372.5 313.24H375.7M382.61 316.6V314.44M381.01 314.44H384.21M394.53 318.28V316.12M392.93 316.12H396.13M406.45 319V316.84M404.85 316.84H408.05M418.37 317.08V314.92M416.77 314.92H419.97M430.3 320.2V318.04M428.69 318.04H431.9M454.14 320.2V318.04M452.54 318.04H455.74M477.98 320.2V318.04M476.38 318.04H479.58M498.8 319.48V317.32M497.2 317.32H500.4M510.2 320.2V318.04M508.6 318.04H511.8" stroke="#b07cc8" stroke-width="0.8" fill="none"/>
<path d="M307.68 307.24 L321.3 313 L326.41 314.2 L333.22 313 L334.93 259 L338.33 308.92 L345.15 294.04 L346.85 310.6 L350.25 311.8 L357.07 303.4 L358.77 313 L362.18 313 L368.99 310.6 L370.69 314.2 L374.1 315.4 L382.61 316.6 L394.53 318.28 L406.45 319 L418.37 317.08 L430.3 320.2 L454.14 320.2 L477.98 320.2 L490.95 319.84 L498.8 319.48 L510.2 320.2" fill="none" stroke="#a26bc0" stroke-width="1.0" stroke-linejoin="round" clip-path="url(#cD)"/>
<rect x="305.88" y="305.44" width="3.6" height="3.6" fill="#8a4a9f"/>
<rect x="319.5" y="311.2" width="3.6" height="3.6" fill="#8a4a9f"/>
<rect x="324.61" y="312.4" width="3.6" height="3.6" fill="#8a4a9f"/>
<rect x="331.42" y="311.2" width="3.6" height="3.6" fill="#8a4a9f"/>
<rect x="333.13" y="257.2" width="3.6" height="3.6" fill="#8a4a9f"/>
<rect x="336.53" y="307.12" width="3.6" height="3.6" fill="#8a4a9f"/>
<rect x="343.35" y="292.24" width="3.6" height="3.6" fill="#8a4a9f"/>
<rect x="345.05" y="308.8" width="3.6" height="3.6" fill="#8a4a9f"/>
<rect x="348.45" y="310" width="3.6" height="3.6" fill="#8a4a9f"/>
<rect x="355.27" y="301.6" width="3.6" height="3.6" fill="#8a4a9f"/>
<rect x="356.97" y="311.2" width="3.6" height="3.6" fill="#8a4a9f"/>
<rect x="360.38" y="311.2" width="3.6" height="3.6" fill="#8a4a9f"/>
<rect x="367.19" y="308.8" width="3.6" height="3.6" fill="#8a4a9f"/>
<rect x="368.89" y="312.4" width="3.6" height="3.6" fill="#8a4a9f"/>
<rect x="372.3" y="313.6" width="3.6" height="3.6" fill="#8a4a9f"/>
<rect x="380.81" y="314.8" width="3.6" height="3.6" fill="#8a4a9f"/>
<rect x="392.73" y="316.48" width="3.6" height="3.6" fill="#8a4a9f"/>
<rect x="404.65" y="317.2" width="3.6" height="3.6" fill="#8a4a9f"/>
<rect x="416.57" y="315.28" width="3.6" height="3.6" fill="#8a4a9f"/>
<rect x="428.5" y="318.4" width="3.6" height="3.6" fill="#8a4a9f"/>
<rect x="452.34" y="318.4" width="3.6" height="3.6" fill="#8a4a9f"/>
<rect x="476.18" y="318.4" width="3.6" height="3.6" fill="#8a4a9f"/>
<rect x="497" y="317.68" width="3.6" height="3.6" fill="#8a4a9f"/>
<rect x="508.4" y="318.4" width="3.6" height="3.6" fill="#8a4a9f"/>
<path d="M307.68 309.4V307.24M306.08 307.24H309.28M321.3 313V310.84M319.7 310.84H322.9M326.41 314.2V312.04M324.81 312.04H328.01M333.22 313V310.84M331.62 310.84H334.82M334.93 269.8V267.64M333.33 267.64H336.53M338.33 308.92V306.76M336.73 306.76H339.93M345.15 307.24V305.08M343.55 305.08H346.75M346.85 311.32V309.16M345.25 309.16H348.45M350.25 311.32V309.16M348.65 309.16H351.85M357.07 296.92V294.76M355.47 294.76H358.67M358.77 310.6V308.44M357.17 308.44H360.37M362.18 310.6V308.44M360.57 308.44H363.78M368.99 293.08V290.92M367.39 290.92H370.59M370.69 310.6V308.44M369.09 308.44H372.29M374.1 311.8V309.64M372.5 309.64H375.7M382.61 313V310.84M381.01 310.84H384.21M394.53 313V310.84M392.93 310.84H396.13M406.45 312.28V310.12M404.85 310.12H408.05M418.37 311.8V309.64M416.77 309.64H419.97M430.3 312.28V310.12M428.69 310.12H431.9M454.14 313V310.84M452.54 310.84H455.74M477.98 312.28V310.12M476.38 310.12H479.58M498.8 312.28V310.12M497.2 310.12H500.4M510.2 313V310.84M508.6 310.84H511.8" stroke="#6479b8" stroke-width="0.8" fill="none"/>
<path d="M307.68 309.4 L321.3 313 L326.41 314.2 L333.22 313 L334.93 269.8 L338.33 308.92 L345.15 307.24 L346.85 311.32 L350.25 311.32 L357.07 296.92 L358.77 310.6 L362.18 310.6 L368.99 293.08 L370.69 310.6 L374.1 311.8 L382.61 313 L394.53 313 L406.45 312.28 L418.37 311.8 L430.3 312.28 L454.14 313 L477.98 312.28 L490.95 312.28 L498.8 312.28 L510.2 313" fill="none" stroke="#4a64b0" stroke-width="1.0" stroke-linejoin="round" clip-path="url(#cD)"/>
<rect x="305.78" y="307.5" width="3.8" height="3.8" fill="#34498a"/>
<rect x="319.4" y="311.1" width="3.8" height="3.8" fill="#34498a"/>
<rect x="324.51" y="312.3" width="3.8" height="3.8" fill="#34498a"/>
<rect x="331.32" y="311.1" width="3.8" height="3.8" fill="#34498a"/>
<rect x="333.03" y="267.9" width="3.8" height="3.8" fill="#34498a"/>
<rect x="336.43" y="307.02" width="3.8" height="3.8" fill="#34498a"/>
<rect x="343.25" y="305.34" width="3.8" height="3.8" fill="#34498a"/>
<rect x="344.95" y="309.42" width="3.8" height="3.8" fill="#34498a"/>
<rect x="348.35" y="309.42" width="3.8" height="3.8" fill="#34498a"/>
<rect x="355.17" y="295.02" width="3.8" height="3.8" fill="#34498a"/>
<rect x="356.87" y="308.7" width="3.8" height="3.8" fill="#34498a"/>
<rect x="360.28" y="308.7" width="3.8" height="3.8" fill="#34498a"/>
<rect x="367.09" y="291.18" width="3.8" height="3.8" fill="#34498a"/>
<rect x="368.79" y="308.7" width="3.8" height="3.8" fill="#34498a"/>
<rect x="372.2" y="309.9" width="3.8" height="3.8" fill="#34498a"/>
<rect x="380.71" y="311.1" width="3.8" height="3.8" fill="#34498a"/>
<rect x="392.63" y="311.1" width="3.8" height="3.8" fill="#34498a"/>
<rect x="404.55" y="310.38" width="3.8" height="3.8" fill="#34498a"/>
<rect x="416.47" y="309.9" width="3.8" height="3.8" fill="#34498a"/>
<rect x="428.4" y="310.38" width="3.8" height="3.8" fill="#34498a"/>
<rect x="452.24" y="311.1" width="3.8" height="3.8" fill="#34498a"/>
<rect x="476.08" y="310.38" width="3.8" height="3.8" fill="#34498a"/>
<rect x="496.9" y="310.38" width="3.8" height="3.8" fill="#34498a"/>
<rect x="508.3" y="311.1" width="3.8" height="3.8" fill="#34498a"/>
<path d="M307.68 309.16V307M306.08 307H309.28M321.3 316.36V314.2M319.7 314.2H322.9M326.41 315.4V313.24M324.81 313.24H328.01M333.22 313V310.84M331.62 310.84H334.82M334.93 241V238.84M333.33 238.84H336.53M338.33 308.92V306.76M336.73 306.76H339.93M345.15 300.04V297.88M343.55 297.88H346.75M346.85 305.8V303.64M345.25 303.64H348.45M350.25 302.2V300.04M348.65 300.04H351.85M357.07 302.2V300.04M355.47 300.04H358.67M358.77 305.8V303.64M357.17 303.64H360.37M362.18 307.24V305.08M360.57 305.08H363.78M368.99 304.12V301.96M367.39 301.96H370.59M370.69 308.2V306.04M369.09 306.04H372.29M374.1 309.16V307M372.5 307H375.7M382.61 312.28V310.12M381.01 310.12H384.21M394.53 308.44V306.28M392.93 306.28H396.13M406.45 304.12V301.24M404.85 301.24H408.05M418.37 294.28V287.8M416.77 287.8H419.97M430.3 300.52V295.72M428.69 295.72H431.9M454.14 305.08V298.6M452.54 298.6H455.74M477.98 305.8V300.52M476.38 300.52H479.58M498.8 305.08V298.36M497.2 298.36H500.4M510.2 305.8V300.28M508.6 300.28H511.8" stroke="#6cc095" stroke-width="0.8" fill="none"/>
<path d="M307.68 309.16 L321.3 316.36 L326.41 315.4 L333.22 313 L334.93 241 L338.33 308.92 L345.15 300.04 L346.85 305.8 L350.25 302.2 L357.07 302.2 L358.77 305.8 L362.18 307.24 L368.99 304.12 L370.69 308.2 L374.1 309.16 L382.61 312.28 L394.53 308.44 L406.45 304.12 L418.37 294.28 L430.3 300.52 L454.14 305.08 L477.98 305.8 L490.95 305.44 L498.8 305.08 L510.2 305.8" fill="none" stroke="#3fbf80" stroke-width="1.0" stroke-linejoin="round" clip-path="url(#cD)"/>
<polygon points="307.68,306.56 310.28,309.16 307.68,311.76 305.08,309.16" fill="#2f9f68"/>
<polygon points="321.3,313.76 323.9,316.36 321.3,318.96 318.7,316.36" fill="#2f9f68"/>
<polygon points="326.41,312.8 329.01,315.4 326.41,318 323.81,315.4" fill="#2f9f68"/>
<polygon points="333.22,310.4 335.82,313 333.22,315.6 330.62,313" fill="#2f9f68"/>
<polygon points="334.93,238.4 337.53,241 334.93,243.6 332.33,241" fill="#2f9f68"/>
<polygon points="338.33,306.32 340.93,308.92 338.33,311.52 335.73,308.92" fill="#2f9f68"/>
<polygon points="345.15,297.44 347.75,300.04 345.15,302.64 342.55,300.04" fill="#2f9f68"/>
<polygon points="346.85,303.2 349.45,305.8 346.85,308.4 344.25,305.8" fill="#2f9f68"/>
<polygon points="350.25,299.6 352.85,302.2 350.25,304.8 347.65,302.2" fill="#2f9f68"/>
<polygon points="357.07,299.6 359.67,302.2 357.07,304.8 354.47,302.2" fill="#2f9f68"/>
<polygon points="358.77,303.2 361.37,305.8 358.77,308.4 356.17,305.8" fill="#2f9f68"/>
<polygon points="362.18,304.64 364.78,307.24 362.18,309.84 359.57,307.24" fill="#2f9f68"/>
<polygon points="368.99,301.52 371.59,304.12 368.99,306.72 366.39,304.12" fill="#2f9f68"/>
<polygon points="370.69,305.6 373.29,308.2 370.69,310.8 368.09,308.2" fill="#2f9f68"/>
<polygon points="374.1,306.56 376.7,309.16 374.1,311.76 371.5,309.16" fill="#2f9f68"/>
<polygon points="382.61,309.68 385.21,312.28 382.61,314.88 380.01,312.28" fill="#2f9f68"/>
<polygon points="394.53,305.84 397.13,308.44 394.53,311.04 391.93,308.44" fill="#2f9f68"/>
<polygon points="406.45,301.52 409.05,304.12 406.45,306.72 403.85,304.12" fill="#2f9f68"/>
<polygon points="418.37,291.68 420.97,294.28 418.37,296.88 415.77,294.28" fill="#2f9f68"/>
<polygon points="430.3,297.92 432.9,300.52 430.3,303.12 427.69,300.52" fill="#2f9f68"/>
<polygon points="454.14,302.48 456.74,305.08 454.14,307.68 451.54,305.08" fill="#2f9f68"/>
<polygon points="477.98,303.2 480.58,305.8 477.98,308.4 475.38,305.8" fill="#2f9f68"/>
<polygon points="498.8,302.48 501.4,305.08 498.8,307.68 496.2,305.08" fill="#2f9f68"/>
<polygon points="510.2,303.2 512.8,305.8 510.2,308.4 507.6,305.8" fill="#2f9f68"/>
<path d="M307.68 306.28V304.12M306.08 304.12H309.28M321.3 311.32V309.16M319.7 309.16H322.9M326.41 315.4V313.24M324.81 313.24H328.01M333.22 307.24V305.08M331.62 305.08H334.82M334.93 236.44V225.4M333.33 225.4H336.53M338.33 308.92V306.76M336.73 306.76H339.93M345.15 284.2V274.84M343.55 274.84H346.75M346.85 291.4V289.24M345.25 289.24H348.45M350.25 295V292.84M348.65 292.84H351.85M357.07 287.08V274.84M355.47 274.84H358.67M358.77 301V298.84M357.17 298.84H360.37M362.18 304.12V301.96M360.57 301.96H363.78M368.99 295V289M367.39 289H370.59M370.69 303.4V301.24M369.09 301.24H372.29M374.1 306.28V304.12M372.5 304.12H375.7M382.61 303.16V299.56M381.01 299.56H384.21M394.53 296.2V284.92M392.93 284.92H396.13M406.45 291.64V282.52M404.85 282.52H408.05M418.37 297.88V294.28M416.77 294.28H419.97M430.3 305.8V303.64M428.69 303.64H431.9M454.14 309.16V307M452.54 307H455.74M477.98 312.28V310.12M476.38 310.12H479.58M498.8 312.04V309.88M497.2 309.88H500.4M510.2 313V310.84M508.6 310.84H511.8" stroke="#e06a95" stroke-width="0.8" fill="none"/>
<path d="M307.68 306.28 L321.3 311.32 L326.41 315.4 L333.22 307.24 L334.93 236.44 L338.33 308.92 L345.15 284.2 L346.85 291.4 L350.25 295 L357.07 287.08 L358.77 301 L362.18 304.12 L368.99 295 L370.69 303.4 L374.1 306.28 L382.61 303.16 L394.53 296.2 L406.45 291.64 L418.37 297.88 L430.3 305.8 L454.14 309.16 L477.98 312.28 L490.95 312.16 L498.8 312.04 L510.2 313" fill="none" stroke="#e5487e" stroke-width="1.0" stroke-linejoin="round" clip-path="url(#cD)"/>
<circle cx="307.68" cy="306.28" r="2.2" fill="#c8306a"/>
<circle cx="321.3" cy="311.32" r="2.2" fill="#c8306a"/>
<circle cx="326.41" cy="315.4" r="2.2" fill="#c8306a"/>
<circle cx="333.22" cy="307.24" r="2.2" fill="#c8306a"/>
<circle cx="334.93" cy="236.44" r="2.2" fill="#c8306a"/>
<circle cx="338.33" cy="308.92" r="2.2" fill="#c8306a"/>
<circle cx="345.15" cy="284.2" r="2.2" fill="#c8306a"/>
<circle cx="346.85" cy="291.4" r="2.2" fill="#c8306a"/>
<circle cx="350.25" cy="295" r="2.2" fill="#c8306a"/>
<circle cx="357.07" cy="287.08" r="2.2" fill="#c8306a"/>
<circle cx="358.77" cy="301" r="2.2" fill="#c8306a"/>
<circle cx="362.18" cy="304.12" r="2.2" fill="#c8306a"/>
<circle cx="368.99" cy="295" r="2.2" fill="#c8306a"/>
<circle cx="370.69" cy="303.4" r="2.2" fill="#c8306a"/>
<circle cx="374.1" cy="306.28" r="2.2" fill="#c8306a"/>
<circle cx="382.61" cy="303.16" r="2.2" fill="#c8306a"/>
<circle cx="394.53" cy="296.2" r="2.2" fill="#c8306a"/>
<circle cx="406.45" cy="291.64" r="2.2" fill="#c8306a"/>
<circle cx="418.37" cy="297.88" r="2.2" fill="#c8306a"/>
<circle cx="430.3" cy="305.8" r="2.2" fill="#c8306a"/>
<circle cx="454.14" cy="309.16" r="2.2" fill="#c8306a"/>
<circle cx="477.98" cy="312.28" r="2.2" fill="#c8306a"/>
<circle cx="498.8" cy="312.04" r="2.2" fill="#c8306a"/>
<circle cx="510.2" cy="313" r="2.2" fill="#c8306a"/>
<path d="M307.68 312.28V310.12M305.88 310.12H309.48M321.3 317.32V315.16M319.5 315.16H323.1M326.41 315.4V313.24M324.61 313.24H328.21M333.22 316.36V314.2M331.42 314.2H335.02M334.93 314.2V312.04M333.13 312.04H336.73M338.33 315.4V313.24M336.53 313.24H340.13M345.15 315.4V313.24M343.35 313.24H346.95M346.85 316.6V314.44M345.05 314.44H348.65M350.25 318.28V316.12M348.45 316.12H352.05M357.07 316.36V314.2M355.27 314.2H358.87M358.77 317.8V315.64M356.97 315.64H360.57M362.18 317.32V315.16M360.38 315.16H363.98M368.99 316.36V314.2M367.19 314.2H370.79M370.69 317.32V315.16M368.89 315.16H372.49M374.1 317.32V315.16M372.3 315.16H375.9M382.61 317.56V315.4M380.81 315.4H384.41M394.53 316.12V313.96M392.73 313.96H396.33M406.45 311.8V309.64M404.65 309.64H408.25M418.37 311.08V308.92M416.57 308.92H420.17M430.3 312.28V310.12M428.5 310.12H432.1M454.14 316.12V313.96M452.34 313.96H455.94M477.98 312.28V310.12M476.18 310.12H479.78M498.8 312.28V310.12M497 310.12H500.6M510.2 313V310.84M508.4 310.84H512" stroke="#111111" stroke-width="1.0" fill="none"/>
<path d="M307.68 312.28 L321.3 317.32 L326.41 315.4 L333.22 316.36 L334.93 314.2 L338.33 315.4 L345.15 315.4 L346.85 316.6 L350.25 318.28 L357.07 316.36 L358.77 317.8 L362.18 317.32 L368.99 316.36 L370.69 317.32 L374.1 317.32 L382.61 317.56 L394.53 316.12 L406.45 311.8 L418.37 311.08 L430.3 312.28 L454.14 316.12 L477.98 312.28 L490.95 312.28 L498.8 312.28 L510.2 313" fill="none" stroke="#1a1a1a" stroke-width="1.25" stroke-linejoin="round" clip-path="url(#cD)"/>
<polygon points="307.68,310.13 309.94,314 305.42,314" fill="#fff" stroke="#000" stroke-width="1.1"/>
<polygon points="321.3,315.17 323.56,319.04 319.05,319.04" fill="#fff" stroke="#000" stroke-width="1.1"/>
<polygon points="326.41,313.25 328.67,317.12 324.15,317.12" fill="#fff" stroke="#000" stroke-width="1.1"/>
<polygon points="333.22,314.21 335.48,318.08 330.97,318.08" fill="#fff" stroke="#000" stroke-width="1.1"/>
<polygon points="334.93,312.05 337.18,315.92 332.67,315.92" fill="#fff" stroke="#000" stroke-width="1.1"/>
<polygon points="338.33,313.25 340.59,317.12 336.08,317.12" fill="#fff" stroke="#000" stroke-width="1.1"/>
<polygon points="345.15,313.25 347.4,317.12 342.89,317.12" fill="#fff" stroke="#000" stroke-width="1.1"/>
<polygon points="346.85,314.45 349.11,318.32 344.59,318.32" fill="#fff" stroke="#000" stroke-width="1.1"/>
<polygon points="350.25,316.13 352.51,320 348,320" fill="#fff" stroke="#000" stroke-width="1.1"/>
<polygon points="357.07,314.21 359.32,318.08 354.81,318.08" fill="#fff" stroke="#000" stroke-width="1.1"/>
<polygon points="358.77,315.65 361.03,319.52 356.51,319.52" fill="#fff" stroke="#000" stroke-width="1.1"/>
<polygon points="362.18,315.17 364.43,319.04 359.92,319.04" fill="#fff" stroke="#000" stroke-width="1.1"/>
<polygon points="368.99,314.21 371.24,318.08 366.73,318.08" fill="#fff" stroke="#000" stroke-width="1.1"/>
<polygon points="370.69,315.17 372.95,319.04 368.43,319.04" fill="#fff" stroke="#000" stroke-width="1.1"/>
<polygon points="374.1,315.17 376.35,319.04 371.84,319.04" fill="#fff" stroke="#000" stroke-width="1.1"/>
<polygon points="382.61,315.41 384.87,319.28 380.35,319.28" fill="#fff" stroke="#000" stroke-width="1.1"/>
<polygon points="394.53,313.97 396.79,317.84 392.27,317.84" fill="#fff" stroke="#000" stroke-width="1.1"/>
<polygon points="406.45,309.65 408.71,313.52 404.2,313.52" fill="#fff" stroke="#000" stroke-width="1.1"/>
<polygon points="418.37,308.93 420.63,312.8 416.12,312.8" fill="#fff" stroke="#000" stroke-width="1.1"/>
<polygon points="430.3,310.13 432.55,314 428.04,314" fill="#fff" stroke="#000" stroke-width="1.1"/>
<polygon points="454.14,313.97 456.39,317.84 451.88,317.84" fill="#fff" stroke="#000" stroke-width="1.1"/>
<polygon points="477.98,310.13 480.24,314 475.72,314" fill="#fff" stroke="#000" stroke-width="1.1"/>
<polygon points="498.8,310.13 501.06,314 496.54,314" fill="#fff" stroke="#000" stroke-width="1.1"/>
<polygon points="510.2,310.85 512.46,314.72 507.94,314.72" fill="#fff" stroke="#000" stroke-width="1.1"/>
</g>
<g id="pE">
<text x="2.5" y="381" font-size="17.5" text-anchor="start" font-weight="bold">E</text>
<text x="141.8" y="378.8" font-size="7.7" font-weight="bold" text-anchor="middle"><tspan>CD4</tspan><tspan font-size="4.77" dy="-3">+</tspan><tspan dy="3">PD-1</tspan><tspan font-size="4.77" dy="-3">+</tspan><tspan dy="3"> Cells</tspan></text>
<line x1="179.1" y1="389" x2="188.3" y2="389" stroke="#000" stroke-width="1"/>
<polygon points="183.7,387.17 185.62,390.46 181.78,390.46" fill="#fff" stroke="#000" stroke-width="1.1"/>
<text x="192.3" y="391.6" font-size="7.6" text-anchor="start">Vehicle</text>
<line x1="179.1" y1="397" x2="188.3" y2="397" stroke="#a26bc0" stroke-width="1"/>
<rect x="182.17" y="395.47" width="3.06" height="3.06" fill="#8a4a9f"/>
<text x="192.3" y="399.6" font-size="7.6" text-anchor="start">0.2 µg/kg</text>
<line x1="179.1" y1="405" x2="188.3" y2="405" stroke="#4a64b0" stroke-width="1"/>
<rect x="182.08" y="403.38" width="3.23" height="3.23" fill="#34498a"/>
<text x="192.3" y="407.6" font-size="7.6" text-anchor="start">2 µg/kg</text>
<line x1="179.1" y1="413.3" x2="188.3" y2="413.3" stroke="#3fbf80" stroke-width="1"/>
<polygon points="183.7,411.09 185.91,413.3 183.7,415.51 181.49,413.3" fill="#2f9f68"/>
<text x="192.3" y="415.9" font-size="7.6" text-anchor="start">5 µg/kg</text>
<line x1="179.1" y1="422" x2="188.3" y2="422" stroke="#e5487e" stroke-width="1"/>
<circle cx="183.7" cy="422" r="1.87" fill="#c8306a"/>
<text x="192.3" y="424.6" font-size="7.6" text-anchor="start">10 µg/kg</text>
<line x1="45" y1="387.5" x2="45" y2="500" stroke="#4a4a4a" stroke-width="1.15"/>
<line x1="43.4" y1="500" x2="45" y2="500" stroke="#333" stroke-width="0.8"/>
<line x1="43.4" y1="488.75" x2="45" y2="488.75" stroke="#333" stroke-width="0.8"/>
<line x1="43.4" y1="477.5" x2="45" y2="477.5" stroke="#333" stroke-width="0.8"/>
<line x1="43.4" y1="466.25" x2="45" y2="466.25" stroke="#333" stroke-width="0.8"/>
<line x1="43.4" y1="455" x2="45" y2="455" stroke="#333" stroke-width="0.8"/>
<line x1="43.4" y1="443.75" x2="45" y2="443.75" stroke="#333" stroke-width="0.8"/>
<line x1="43.4" y1="432.5" x2="45" y2="432.5" stroke="#333" stroke-width="0.8"/>
<line x1="43.4" y1="421.25" x2="45" y2="421.25" stroke="#333" stroke-width="0.8"/>
<line x1="43.4" y1="410" x2="45" y2="410" stroke="#333" stroke-width="0.8"/>
<line x1="43.4" y1="398.75" x2="45" y2="398.75" stroke="#333" stroke-width="0.8"/>
<line x1="43.4" y1="387.5" x2="45" y2="387.5" stroke="#333" stroke-width="0.8"/>
<line x1="42.4" y1="500" x2="45" y2="500" stroke="#222" stroke-width="0.9"/>
<text x="41.8" y="503.37" font-size="7.7" text-anchor="end">0</text>
<line x1="42.4" y1="477.5" x2="45" y2="477.5" stroke="#222" stroke-width="0.9"/>
<text x="41.8" y="480.87" font-size="7.7" text-anchor="end">10</text>
<line x1="42.4" y1="455" x2="45" y2="455" stroke="#222" stroke-width="0.9"/>
<text x="41.8" y="458.37" font-size="7.7" text-anchor="end">20</text>
<line x1="42.4" y1="432.5" x2="45" y2="432.5" stroke="#222" stroke-width="0.9"/>
<text x="41.8" y="435.87" font-size="7.7" text-anchor="end">30</text>
<line x1="42.4" y1="410" x2="45" y2="410" stroke="#222" stroke-width="0.9"/>
<text x="41.8" y="413.37" font-size="7.7" text-anchor="end">40</text>
<line x1="42.4" y1="387.5" x2="45" y2="387.5" stroke="#222" stroke-width="0.9"/>
<text x="41.8" y="390.87" font-size="7.7" text-anchor="end">50</text>
<text transform="translate(14,449) rotate(-90)" font-size="7.5" text-anchor="middle">% of Gated cells</text>
<text transform="translate(23.3,449) rotate(-90)" font-size="7.5" text-anchor="middle">(mean ± SEM)</text>
<path d="M50.07 500v1.5M51.62 500v1.5M53.18 500v1.5M54.73 500v1.5M56.29 500v1.5M57.84 500v1.5M59.4 500v1.5M60.95 500v1.5M62.51 500v1.5M64.06 500v1.5M65.62 500v1.5M67.17 500v1.5M68.73 500v1.5M70.28 500v1.5M71.84 500v1.5M73.39 500v1.5M74.95 500v1.5M76.5 500v1.5M78.06 500v1.5M79.61 500v1.5M81.17 500v1.5M82.72 500v1.5M84.28 500v1.5M85.83 500v1.5M87.39 500v1.5M88.94 500v1.5M90.5 500v1.5M92.06 500v1.5M93.61 500v1.5M95.16 500v1.5M96.72 500v1.5M98.28 500v1.5M99.83 500v1.5M101.38 500v1.5M102.94 500v1.5M104.5 500v1.5M106.05 500v1.5M107.6 500v1.5M109.16 500v1.5M110.72 500v1.5M112.27 500v1.5M113.82 500v1.5M115.38 500v1.5M116.94 500v1.5M118.49 500v1.5M120.04 500v1.5M121.6 500v1.5M123.16 500v1.5M124.71 500v1.5M126.26 500v1.5M127.82 500v1.5M129.38 500v1.5M130.93 500v1.5M132.48 500v1.5M134.04 500v1.5M135.59 500v1.5M137.15 500v1.5M138.7 500v1.5M140.26 500v1.5M141.81 500v1.5M143.37 500v1.5M144.92 500v1.5M146.48 500v1.5M148.03 500v1.5M149.59 500v1.5M151.14 500v1.5M152.7 500v1.5M154.25 500v1.5M155.81 500v1.5M157.36 500v1.5M158.92 500v1.5M160.47 500v1.5M162.03 500v1.5M163.59 500v1.5M165.14 500v1.5M166.69 500v1.5M168.25 500v1.5M169.81 500v1.5M171.36 500v1.5M172.91 500v1.5M174.47 500v1.5M176.03 500v1.5M177.58 500v1.5M179.13 500v1.5M180.69 500v1.5M182.25 500v1.5M183.8 500v1.5M185.35 500v1.5M186.91 500v1.5M188.47 500v1.5M190.02 500v1.5M191.57 500v1.5M193.13 500v1.5M194.69 500v1.5M196.24 500v1.5M197.79 500v1.5M199.35 500v1.5M200.91 500v1.5M202.46 500v1.5M204.01 500v1.5M205.57 500v1.5M207.12 500v1.5M208.68 500v1.5M210.24 500v1.5M211.79 500v1.5M218.6 500v1.5M220.16 500v1.5M221.71 500v1.5M223.27 500v1.5M224.82 500v1.5M226.38 500v1.5M227.93 500v1.5M229.49 500v1.5M231.04 500v1.5M232.6 500v1.5M234.15 500v1.5M235.71 500v1.5" stroke="#9a9a9a" stroke-width="0.55"/>
<path d="M47.5 500v2.2M59.25 500v2.2M70 500v2.2M81.25 500v2.2M92.5 500v2.2M103 500v2.2M113.75 500v2.2M124 500v2.2M135.4 500v2.2M146.1 500v2.2M156.9 500v2.2M167.7 500v2.2M178.8 500v2.2M189.5 500v2.2M200.6 500v2.2M211.8 500v2.2" stroke="#222" stroke-width="0.8"/>
<line x1="45" y1="500" x2="213" y2="500" stroke="#111" stroke-width="1.1"/>
<line x1="217.6" y1="500" x2="236.4" y2="500" stroke="#111" stroke-width="1.1"/>
<path d="M213 498.2V501.8M217.6 498.2V501.8" stroke="#111" stroke-width="0.9"/>
<text transform="translate(47.5,511.25) scale(0.92,1)" font-size="7.9" text-anchor="middle">−7</text>
<text transform="translate(59.25,511.25) scale(0.92,1)" font-size="7.9" text-anchor="middle">0</text>
<text transform="translate(70,511.25) scale(0.92,1)" font-size="7.9" text-anchor="middle">7</text>
<text transform="translate(81.25,511.25) scale(0.92,1)" font-size="7.9" text-anchor="middle">14</text>
<text transform="translate(92.5,511.25) scale(0.92,1)" font-size="7.9" text-anchor="middle">21</text>
<text transform="translate(103,511.25) scale(0.92,1)" font-size="7.9" text-anchor="middle">28</text>
<text transform="translate(113.75,511.25) scale(0.92,1)" font-size="7.9" text-anchor="middle">35</text>
<text transform="translate(124,511.25) scale(0.92,1)" font-size="7.9" text-anchor="middle">42</text>
<text transform="translate(135.4,511.25) scale(0.92,1)" font-size="7.9" text-anchor="middle">49</text>
<text transform="translate(146.1,511.25) scale(0.92,1)" font-size="7.9" text-anchor="middle">56</text>
<text transform="translate(156.9,511.25) scale(0.92,1)" font-size="7.9" text-anchor="middle">63</text>
<text transform="translate(167.7,511.25) scale(0.92,1)" font-size="7.9" text-anchor="middle">70</text>
<text transform="translate(178.8,511.25) scale(0.92,1)" font-size="7.9" text-anchor="middle">77</text>
<text transform="translate(189.5,511.25) scale(0.92,1)" font-size="7.9" text-anchor="middle">84</text>
<text transform="translate(200.6,511.25) scale(0.92,1)" font-size="7.9" text-anchor="middle">91</text>
<text transform="translate(211.8,511.25) scale(0.92,1)" font-size="7.9" text-anchor="middle">98</text>
<text transform="translate(222.4,511.25) scale(0.92,1)" font-size="7.9" text-anchor="middle">105</text>
<text transform="translate(237,511.25) scale(0.92,1)" font-size="7.9" text-anchor="middle">126</text>
<path d="M59.75 518V514.3" stroke="#222" stroke-width="0.8"/>
<path d="M58.35 515.5L59.75 513.5L61.15 515.5" stroke="#222" stroke-width="0.8" fill="none"/>
<text x="59.75" y="526.5" font-size="8.2" text-anchor="middle">V</text>
<path d="M70.5 518V514.3" stroke="#222" stroke-width="0.8"/>
<path d="M69.1 515.5L70.5 513.5L71.9 515.5" stroke="#222" stroke-width="0.8" fill="none"/>
<text x="70.5" y="527.2" font-size="8.2" text-anchor="middle">D</text>
<path d="M81.75 518V514.3" stroke="#222" stroke-width="0.8"/>
<path d="M80.35 515.5L81.75 513.5L83.15 515.5" stroke="#222" stroke-width="0.8" fill="none"/>
<text x="81.75" y="527.2" font-size="8.2" text-anchor="middle">D</text>
<path d="M93 518V514.3" stroke="#222" stroke-width="0.8"/>
<path d="M91.6 515.5L93 513.5L94.4 515.5" stroke="#222" stroke-width="0.8" fill="none"/>
<text x="93" y="527.2" font-size="8.2" text-anchor="middle">D</text>
<path d="M103.5 518V514.3" stroke="#222" stroke-width="0.8"/>
<path d="M102.1 515.5L103.5 513.5L104.9 515.5" stroke="#222" stroke-width="0.8" fill="none"/>
<text x="103.5" y="527.2" font-size="8.2" text-anchor="middle">D</text>
<text x="141.8" y="538" font-size="7.5" text-anchor="middle">Study days</text>
<clipPath id="cE"><rect x="45" y="357.5" width="168" height="152.5"/><rect x="217.6" y="357.5" width="24.8" height="152.5"/></clipPath>
<path d="M48.52 491V488.3M46.91 488.3H50.12M60.95 493.25V490.55M59.35 490.55H62.55M65.62 492.12V489.43M64.02 489.43H67.22M71.84 491V488.3M70.24 488.3H73.44M73.39 448.25V445.55M71.8 445.55H74.99M76.5 459.5V456.8M74.91 456.8H78.1M82.72 464V461.3M81.12 461.3H84.32M84.28 450.05V447.35M82.68 447.35H85.88M87.39 461.75V459.05M85.79 459.05H88.99M93.61 468.5V465.8M92.01 465.8H95.21M95.16 450.95V448.25M93.56 448.25H96.76M98.28 459.5V456.8M96.68 456.8H99.88M104.5 470.75V468.05M102.9 468.05H106.09M106.05 455V452.3M104.45 452.3H107.65M109.16 464V461.3M107.56 461.3H110.76M116.94 470.75V468.05M115.34 468.05H118.53M127.82 487.62V484.93M126.22 484.93H129.42M138.7 488.07V485.38M137.1 485.38H140.3M149.59 487.62V484.93M147.99 484.93H151.19M160.47 487.62V484.93M158.88 484.93H162.07M182.25 490.1V487.4M180.65 487.4H183.84M204.01 490.1V487.4M202.41 487.4H205.61M223.8 487.62V484.93M222.2 484.93H225.4M233 487.62V484.93M231.4 484.93H234.6" stroke="#b07cc8" stroke-width="0.8" fill="none"/>
<path d="M48.52 491 L60.95 493.25 L65.62 492.12 L71.84 491 L73.39 448.25 L76.5 459.5 L82.72 464 L84.28 450.05 L87.39 461.75 L93.61 468.5 L95.16 450.95 L98.28 459.5 L104.5 470.75 L106.05 455 L109.16 464 L116.94 470.75 L127.82 487.62 L138.7 488.07 L149.59 487.62 L160.47 487.62 L182.25 490.1 L204.01 490.1 L215.3 488.86 L223.8 487.62 L233 487.62" fill="none" stroke="#a26bc0" stroke-width="1.0" stroke-linejoin="round" clip-path="url(#cE)"/>
<rect x="46.72" y="489.2" width="3.6" height="3.6" fill="#8a4a9f"/>
<rect x="59.16" y="491.45" width="3.6" height="3.6" fill="#8a4a9f"/>
<rect x="63.82" y="490.32" width="3.6" height="3.6" fill="#8a4a9f"/>
<rect x="70.04" y="489.2" width="3.6" height="3.6" fill="#8a4a9f"/>
<rect x="71.59" y="446.45" width="3.6" height="3.6" fill="#8a4a9f"/>
<rect x="74.7" y="457.7" width="3.6" height="3.6" fill="#8a4a9f"/>
<rect x="80.92" y="462.2" width="3.6" height="3.6" fill="#8a4a9f"/>
<rect x="82.48" y="448.25" width="3.6" height="3.6" fill="#8a4a9f"/>
<rect x="85.59" y="459.95" width="3.6" height="3.6" fill="#8a4a9f"/>
<rect x="91.81" y="466.7" width="3.6" height="3.6" fill="#8a4a9f"/>
<rect x="93.36" y="449.15" width="3.6" height="3.6" fill="#8a4a9f"/>
<rect x="96.48" y="457.7" width="3.6" height="3.6" fill="#8a4a9f"/>
<rect x="102.7" y="468.95" width="3.6" height="3.6" fill="#8a4a9f"/>
<rect x="104.25" y="453.2" width="3.6" height="3.6" fill="#8a4a9f"/>
<rect x="107.36" y="462.2" width="3.6" height="3.6" fill="#8a4a9f"/>
<rect x="115.14" y="468.95" width="3.6" height="3.6" fill="#8a4a9f"/>
<rect x="126.02" y="485.82" width="3.6" height="3.6" fill="#8a4a9f"/>
<rect x="136.9" y="486.27" width="3.6" height="3.6" fill="#8a4a9f"/>
<rect x="147.79" y="485.82" width="3.6" height="3.6" fill="#8a4a9f"/>
<rect x="158.67" y="485.82" width="3.6" height="3.6" fill="#8a4a9f"/>
<rect x="180.44" y="488.3" width="3.6" height="3.6" fill="#8a4a9f"/>
<rect x="202.21" y="488.3" width="3.6" height="3.6" fill="#8a4a9f"/>
<rect x="222" y="485.82" width="3.6" height="3.6" fill="#8a4a9f"/>
<rect x="231.2" y="485.82" width="3.6" height="3.6" fill="#8a4a9f"/>
<path d="M48.52 491V488.3M46.91 488.3H50.12M60.95 493.25V490.55M59.35 490.55H62.55M65.62 492.12V489.43M64.02 489.43H67.22M71.84 491V488.3M70.24 488.3H73.44M73.39 452.75V450.05M71.8 450.05H74.99M76.5 470.07V467.38M74.91 467.38H78.1M82.72 478.62V475.93M81.12 475.93H84.32M84.28 466.25V463.55M82.68 463.55H85.88M87.39 465.57V462.88M85.79 462.88H88.99M93.61 474.35V471.65M92.01 471.65H95.21M95.16 459.5V456.8M93.56 456.8H96.76M98.28 468.5V465.8M96.68 465.8H99.88M104.5 464.9V459.27M102.9 459.27H106.09M106.05 433.62V427.55M104.45 427.55H107.65M109.16 449.15V446.45M107.56 446.45H110.76M116.94 468.5V465.8M115.34 465.8H118.53M127.82 468.27V465.57M126.22 465.57H129.42M138.7 470.98V468.28M137.1 468.28H140.3M149.59 480.43V477.73M147.99 477.73H151.19M160.47 480.43V477.73M158.88 477.73H162.07M182.25 484.02V481.32M180.65 481.32H183.84M204.01 486.5V483.8M202.41 483.8H205.61M223.8 481.55V478.85M222.2 478.85H225.4M233 482.45V479.75M231.4 479.75H234.6" stroke="#6479b8" stroke-width="0.8" fill="none"/>
<path d="M48.52 491 L60.95 493.25 L65.62 492.12 L71.84 491 L73.39 452.75 L76.5 470.07 L82.72 478.62 L84.28 466.25 L87.39 465.57 L93.61 474.35 L95.16 459.5 L98.28 468.5 L104.5 464.9 L106.05 433.62 L109.16 449.15 L116.94 468.5 L127.82 468.27 L138.7 470.98 L149.59 480.43 L160.47 480.43 L182.25 484.02 L204.01 486.5 L215.3 484.02 L223.8 481.55 L233 482.45" fill="none" stroke="#4a64b0" stroke-width="1.0" stroke-linejoin="round" clip-path="url(#cE)"/>
<rect x="46.62" y="489.1" width="3.8" height="3.8" fill="#34498a"/>
<rect x="59.05" y="491.35" width="3.8" height="3.8" fill="#34498a"/>
<rect x="63.72" y="490.23" width="3.8" height="3.8" fill="#34498a"/>
<rect x="69.94" y="489.1" width="3.8" height="3.8" fill="#34498a"/>
<rect x="71.49" y="450.85" width="3.8" height="3.8" fill="#34498a"/>
<rect x="74.6" y="468.18" width="3.8" height="3.8" fill="#34498a"/>
<rect x="80.82" y="476.73" width="3.8" height="3.8" fill="#34498a"/>
<rect x="82.38" y="464.35" width="3.8" height="3.8" fill="#34498a"/>
<rect x="85.49" y="463.68" width="3.8" height="3.8" fill="#34498a"/>
<rect x="91.71" y="472.45" width="3.8" height="3.8" fill="#34498a"/>
<rect x="93.26" y="457.6" width="3.8" height="3.8" fill="#34498a"/>
<rect x="96.38" y="466.6" width="3.8" height="3.8" fill="#34498a"/>
<rect x="102.59" y="463" width="3.8" height="3.8" fill="#34498a"/>
<rect x="104.15" y="431.73" width="3.8" height="3.8" fill="#34498a"/>
<rect x="107.26" y="447.25" width="3.8" height="3.8" fill="#34498a"/>
<rect x="115.03" y="466.6" width="3.8" height="3.8" fill="#34498a"/>
<rect x="125.92" y="466.38" width="3.8" height="3.8" fill="#34498a"/>
<rect x="136.8" y="469.08" width="3.8" height="3.8" fill="#34498a"/>
<rect x="147.69" y="478.53" width="3.8" height="3.8" fill="#34498a"/>
<rect x="158.57" y="478.53" width="3.8" height="3.8" fill="#34498a"/>
<rect x="180.34" y="482.12" width="3.8" height="3.8" fill="#34498a"/>
<rect x="202.11" y="484.6" width="3.8" height="3.8" fill="#34498a"/>
<rect x="221.9" y="479.65" width="3.8" height="3.8" fill="#34498a"/>
<rect x="231.1" y="480.55" width="3.8" height="3.8" fill="#34498a"/>
<path d="M48.52 489.88V487.18M46.91 487.18H50.12M60.95 492.12V489.43M59.35 489.43H62.55M65.62 491V488.3M64.02 488.3H67.22M71.84 489.88V487.18M70.24 487.18H73.44M73.39 446V443.3M71.8 443.3H74.99M76.5 450.95V448.25M74.91 448.25H78.1M82.72 455V452.3M81.12 452.3H84.32M84.28 411.12V396.5M82.68 396.5H85.88M87.39 437V434.3M85.79 434.3H88.99M93.61 455V452.3M92.01 452.3H95.21M95.16 431.82V421.47M93.56 421.47H96.76M98.28 448.25V445.55M96.68 445.55H99.88M104.5 459.5V456.8M102.9 456.8H106.09M106.05 437.9V432.27M104.45 432.27H107.65M109.16 445.77V443.07M107.56 443.07H110.76M116.94 464.9V454.55M115.34 454.55H118.53M127.82 464.9V462.2M126.22 462.2H129.42M138.7 464V461.3M137.1 461.3H140.3M149.59 464.9V462.2M147.99 462.2H151.19M160.47 465.57V458.82M158.88 458.82H162.07M182.25 474.57V468.95M180.65 468.95H183.84M204.01 481.1V478.4M202.41 478.4H205.61M223.8 472.1V466.48M222.2 466.48H225.4M233 477.95V475.25M231.4 475.25H234.6" stroke="#6cc095" stroke-width="0.8" fill="none"/>
<path d="M48.52 489.88 L60.95 492.12 L65.62 491 L71.84 489.88 L73.39 446 L76.5 450.95 L82.72 455 L84.28 411.12 L87.39 437 L93.61 455 L95.16 431.82 L98.28 448.25 L104.5 459.5 L106.05 437.9 L109.16 445.77 L116.94 464.9 L127.82 464.9 L138.7 464 L149.59 464.9 L160.47 465.57 L182.25 474.57 L204.01 481.1 L215.3 476.6 L223.8 472.1 L233 477.95" fill="none" stroke="#3fbf80" stroke-width="1.0" stroke-linejoin="round" clip-path="url(#cE)"/>
<polygon points="48.52,487.27 51.12,489.88 48.52,492.48 45.91,489.88" fill="#2f9f68"/>
<polygon points="60.95,489.52 63.55,492.12 60.95,494.73 58.35,492.12" fill="#2f9f68"/>
<polygon points="65.62,488.4 68.22,491 65.62,493.6 63.02,491" fill="#2f9f68"/>
<polygon points="71.84,487.27 74.44,489.88 71.84,492.48 69.24,489.88" fill="#2f9f68"/>
<polygon points="73.39,443.4 75.99,446 73.39,448.6 70.8,446" fill="#2f9f68"/>
<polygon points="76.5,448.35 79.1,450.95 76.5,453.55 73.91,450.95" fill="#2f9f68"/>
<polygon points="82.72,452.4 85.32,455 82.72,457.6 80.12,455" fill="#2f9f68"/>
<polygon points="84.28,408.52 86.88,411.12 84.28,413.73 81.68,411.12" fill="#2f9f68"/>
<polygon points="87.39,434.4 89.99,437 87.39,439.6 84.79,437" fill="#2f9f68"/>
<polygon points="93.61,452.4 96.21,455 93.61,457.6 91.01,455" fill="#2f9f68"/>
<polygon points="95.16,429.22 97.76,431.82 95.16,434.43 92.56,431.82" fill="#2f9f68"/>
<polygon points="98.28,445.65 100.88,448.25 98.28,450.85 95.68,448.25" fill="#2f9f68"/>
<polygon points="104.5,456.9 107.09,459.5 104.5,462.1 101.9,459.5" fill="#2f9f68"/>
<polygon points="106.05,435.3 108.65,437.9 106.05,440.5 103.45,437.9" fill="#2f9f68"/>
<polygon points="109.16,443.17 111.76,445.77 109.16,448.38 106.56,445.77" fill="#2f9f68"/>
<polygon points="116.94,462.3 119.53,464.9 116.94,467.5 114.34,464.9" fill="#2f9f68"/>
<polygon points="127.82,462.3 130.42,464.9 127.82,467.5 125.22,464.9" fill="#2f9f68"/>
<polygon points="138.7,461.4 141.3,464 138.7,466.6 136.1,464" fill="#2f9f68"/>
<polygon points="149.59,462.3 152.19,464.9 149.59,467.5 146.99,464.9" fill="#2f9f68"/>
<polygon points="160.47,462.97 163.07,465.57 160.47,468.18 157.88,465.57" fill="#2f9f68"/>
<polygon points="182.25,471.97 184.84,474.57 182.25,477.18 179.65,474.57" fill="#2f9f68"/>
<polygon points="204.01,478.5 206.61,481.1 204.01,483.7 201.41,481.1" fill="#2f9f68"/>
<polygon points="223.8,469.5 226.4,472.1 223.8,474.7 221.2,472.1" fill="#2f9f68"/>
<polygon points="233,475.35 235.6,477.95 233,480.55 230.4,477.95" fill="#2f9f68"/>
<path d="M48.52 492.57V489.88M46.91 489.88H50.12M60.95 495.05V492.35M59.35 492.35H62.55M65.62 494.15V491.45M64.02 491.45H67.22M71.84 492.57V489.88M70.24 489.88H73.44M73.39 412.02V405.05M71.8 405.05H74.99M76.5 464V461.3M74.91 461.3H78.1M82.72 465.57V462.88M81.12 462.88H84.32M84.28 432.73V422.38M82.68 422.38H85.88M87.39 450.95V448.25M85.79 448.25H88.99M93.61 464.9V462.2M92.01 462.2H95.21M95.16 443.98V441.28M93.56 441.28H96.76M98.28 457.93V455.23M96.68 455.23H99.88M104.5 473.45V470.75M102.9 470.75H106.09M106.05 456.12V453.43M104.45 453.43H107.65M109.16 460.4V457.7M107.56 457.7H110.76M116.94 473.45V470.75M115.34 470.75H118.53M127.82 462.43V454.1M126.22 454.1H129.42M138.7 462.43V449.6M137.1 449.6H140.3M149.59 470.3V467.6M147.99 467.6H151.19M160.47 474.57V471.2M158.88 471.2H162.07M182.25 482.45V479.75M180.65 479.75H183.84M204.01 484.7V482M202.41 482H205.61M223.8 480.43V477.73M222.2 477.73H225.4M233 482.9V480.2M231.4 480.2H234.6" stroke="#e06a95" stroke-width="0.8" fill="none"/>
<path d="M48.52 492.57 L60.95 495.05 L65.62 494.15 L71.84 492.57 L73.39 412.02 L76.5 464 L82.72 465.57 L84.28 432.73 L87.39 450.95 L93.61 464.9 L95.16 443.98 L98.28 457.93 L104.5 473.45 L106.05 456.12 L109.16 460.4 L116.94 473.45 L127.82 462.43 L138.7 462.43 L149.59 470.3 L160.47 474.57 L182.25 482.45 L204.01 484.7 L215.3 482.56 L223.8 480.43 L233 482.9" fill="none" stroke="#e5487e" stroke-width="1.0" stroke-linejoin="round" clip-path="url(#cE)"/>
<circle cx="48.52" cy="492.57" r="2.2" fill="#c8306a"/>
<circle cx="60.95" cy="495.05" r="2.2" fill="#c8306a"/>
<circle cx="65.62" cy="494.15" r="2.2" fill="#c8306a"/>
<circle cx="71.84" cy="492.57" r="2.2" fill="#c8306a"/>
<circle cx="73.39" cy="412.02" r="2.2" fill="#c8306a"/>
<circle cx="76.5" cy="464" r="2.2" fill="#c8306a"/>
<circle cx="82.72" cy="465.57" r="2.2" fill="#c8306a"/>
<circle cx="84.28" cy="432.73" r="2.2" fill="#c8306a"/>
<circle cx="87.39" cy="450.95" r="2.2" fill="#c8306a"/>
<circle cx="93.61" cy="464.9" r="2.2" fill="#c8306a"/>
<circle cx="95.16" cy="443.98" r="2.2" fill="#c8306a"/>
<circle cx="98.28" cy="457.93" r="2.2" fill="#c8306a"/>
<circle cx="104.5" cy="473.45" r="2.2" fill="#c8306a"/>
<circle cx="106.05" cy="456.12" r="2.2" fill="#c8306a"/>
<circle cx="109.16" cy="460.4" r="2.2" fill="#c8306a"/>
<circle cx="116.94" cy="473.45" r="2.2" fill="#c8306a"/>
<circle cx="127.82" cy="462.43" r="2.2" fill="#c8306a"/>
<circle cx="138.7" cy="462.43" r="2.2" fill="#c8306a"/>
<circle cx="149.59" cy="470.3" r="2.2" fill="#c8306a"/>
<circle cx="160.47" cy="474.57" r="2.2" fill="#c8306a"/>
<circle cx="182.25" cy="482.45" r="2.2" fill="#c8306a"/>
<circle cx="204.01" cy="484.7" r="2.2" fill="#c8306a"/>
<circle cx="223.8" cy="480.43" r="2.2" fill="#c8306a"/>
<circle cx="233" cy="482.9" r="2.2" fill="#c8306a"/>
<path d="M48.52 489.88V488.52M46.72 488.52H50.31M60.95 491.68V490.55M59.16 490.55H62.75M65.62 489.88V487.18M63.82 487.18H67.42M71.84 488.07V485.38M70.04 485.38H73.64M73.39 487.62V484.93M71.59 484.93H75.19M76.5 487.62V484.93M74.7 484.93H78.3M82.72 487.4V484.7M80.92 484.7H84.52M84.28 488.75V486.05M82.48 486.05H86.08M87.39 488.75V486.05M85.59 486.05H89.19M93.61 489.88V487.18M91.81 487.18H95.41M95.16 489.88V487.18M93.36 487.18H96.96M98.28 489.88V487.18M96.48 487.18H100.08M104.5 488.98V486.28M102.7 486.28H106.3M106.05 488.98V486.28M104.25 486.28H107.85M109.16 488.98V486.28M107.36 486.28H110.96M116.94 488.98V486.28M115.14 486.28H118.73M127.82 480.43V477.05M126.02 477.05H129.62M138.7 481.1V478.4M136.9 478.4H140.5M149.59 480.43V477.73M147.79 477.73H151.39M160.47 479.98V477.28M158.67 477.28H162.28M182.25 482.9V480.2M180.44 480.2H184.05M204.01 481.55V478.85M202.21 478.85H205.81M223.8 479.98V477.28M222 477.28H225.6M233 479.07V476.38M231.2 476.38H234.8" stroke="#111111" stroke-width="1.0" fill="none"/>
<path d="M48.52 489.88 L60.95 491.68 L65.62 489.88 L71.84 488.07 L73.39 487.62 L76.5 487.62 L82.72 487.4 L84.28 488.75 L87.39 488.75 L93.61 489.88 L95.16 489.88 L98.28 489.88 L104.5 488.98 L106.05 488.98 L109.16 488.98 L116.94 488.98 L127.82 480.43 L138.7 481.1 L149.59 480.43 L160.47 479.98 L182.25 482.9 L204.01 481.55 L215.3 480.76 L223.8 479.98 L233 479.07" fill="none" stroke="#1a1a1a" stroke-width="1.25" stroke-linejoin="round" clip-path="url(#cE)"/>
<polygon points="48.52,487.73 50.77,491.6 46.26,491.6" fill="#fff" stroke="#000" stroke-width="1.1"/>
<polygon points="60.95,489.53 63.21,493.4 58.7,493.4" fill="#fff" stroke="#000" stroke-width="1.1"/>
<polygon points="65.62,487.73 67.88,491.6 63.36,491.6" fill="#fff" stroke="#000" stroke-width="1.1"/>
<polygon points="71.84,485.93 74.1,489.8 69.58,489.8" fill="#fff" stroke="#000" stroke-width="1.1"/>
<polygon points="73.39,485.48 75.65,489.35 71.14,489.35" fill="#fff" stroke="#000" stroke-width="1.1"/>
<polygon points="76.5,485.48 78.76,489.35 74.25,489.35" fill="#fff" stroke="#000" stroke-width="1.1"/>
<polygon points="82.72,485.25 84.98,489.12 80.47,489.12" fill="#fff" stroke="#000" stroke-width="1.1"/>
<polygon points="84.28,486.6 86.54,490.47 82.02,490.47" fill="#fff" stroke="#000" stroke-width="1.1"/>
<polygon points="87.39,486.6 89.65,490.47 85.13,490.47" fill="#fff" stroke="#000" stroke-width="1.1"/>
<polygon points="93.61,487.73 95.87,491.6 91.35,491.6" fill="#fff" stroke="#000" stroke-width="1.1"/>
<polygon points="95.16,487.73 97.42,491.6 92.91,491.6" fill="#fff" stroke="#000" stroke-width="1.1"/>
<polygon points="98.28,487.73 100.53,491.6 96.02,491.6" fill="#fff" stroke="#000" stroke-width="1.1"/>
<polygon points="104.5,486.83 106.75,490.7 102.24,490.7" fill="#fff" stroke="#000" stroke-width="1.1"/>
<polygon points="106.05,486.83 108.31,490.7 103.79,490.7" fill="#fff" stroke="#000" stroke-width="1.1"/>
<polygon points="109.16,486.83 111.42,490.7 106.9,490.7" fill="#fff" stroke="#000" stroke-width="1.1"/>
<polygon points="116.94,486.83 119.19,490.7 114.68,490.7" fill="#fff" stroke="#000" stroke-width="1.1"/>
<polygon points="127.82,478.28 130.08,482.15 125.56,482.15" fill="#fff" stroke="#000" stroke-width="1.1"/>
<polygon points="138.7,478.95 140.96,482.82 136.45,482.82" fill="#fff" stroke="#000" stroke-width="1.1"/>
<polygon points="149.59,478.28 151.85,482.15 147.33,482.15" fill="#fff" stroke="#000" stroke-width="1.1"/>
<polygon points="160.47,477.83 162.73,481.7 158.22,481.7" fill="#fff" stroke="#000" stroke-width="1.1"/>
<polygon points="182.25,480.75 184.5,484.62 179.99,484.62" fill="#fff" stroke="#000" stroke-width="1.1"/>
<polygon points="204.01,479.4 206.27,483.27 201.76,483.27" fill="#fff" stroke="#000" stroke-width="1.1"/>
<polygon points="223.8,477.83 226.06,481.7 221.54,481.7" fill="#fff" stroke="#000" stroke-width="1.1"/>
<polygon points="233,476.93 235.26,480.8 230.74,480.8" fill="#fff" stroke="#000" stroke-width="1.1"/>
</g>
<g id="pF">
<text x="263.2" y="381" font-size="17.5" text-anchor="start" font-weight="bold">F</text>
<text x="410.3" y="382" font-size="7.7" font-weight="bold" text-anchor="middle"><tspan>CD8</tspan><tspan font-size="4.77" dy="-3">+</tspan><tspan dy="3">PD-1</tspan><tspan font-size="4.77" dy="-3">+</tspan><tspan dy="3"> Cells</tspan></text>
<line x1="434.8" y1="392.7" x2="444" y2="392.7" stroke="#000" stroke-width="1"/>
<polygon points="439.4,390.87 441.32,394.16 437.48,394.16" fill="#fff" stroke="#000" stroke-width="1.1"/>
<text x="449.8" y="395.3" font-size="7.6" text-anchor="start">Vehicle</text>
<line x1="434.8" y1="400.4" x2="444" y2="400.4" stroke="#a26bc0" stroke-width="1"/>
<rect x="437.87" y="398.87" width="3.06" height="3.06" fill="#8a4a9f"/>
<text x="449.8" y="403" font-size="7.6" text-anchor="start">0.2 µg/kg</text>
<line x1="434.8" y1="408" x2="444" y2="408" stroke="#4a64b0" stroke-width="1"/>
<rect x="437.78" y="406.38" width="3.23" height="3.23" fill="#34498a"/>
<text x="449.8" y="410.6" font-size="7.6" text-anchor="start">2 µg/kg</text>
<line x1="434.8" y1="416.4" x2="444" y2="416.4" stroke="#3fbf80" stroke-width="1"/>
<polygon points="439.4,414.19 441.61,416.4 439.4,418.61 437.19,416.4" fill="#2f9f68"/>
<text x="449.8" y="419" font-size="7.6" text-anchor="start">5 µg/kg</text>
<line x1="434.8" y1="424.4" x2="444" y2="424.4" stroke="#e5487e" stroke-width="1"/>
<circle cx="439.4" cy="424.4" r="1.87" fill="#c8306a"/>
<text x="449.8" y="427" font-size="7.6" text-anchor="start">10 µg/kg</text>
<line x1="303.75" y1="388.5" x2="303.75" y2="502" stroke="#4a4a4a" stroke-width="1.15"/>
<line x1="302.15" y1="502" x2="303.75" y2="502" stroke="#333" stroke-width="0.8"/>
<line x1="302.15" y1="490.65" x2="303.75" y2="490.65" stroke="#333" stroke-width="0.8"/>
<line x1="302.15" y1="479.3" x2="303.75" y2="479.3" stroke="#333" stroke-width="0.8"/>
<line x1="302.15" y1="467.95" x2="303.75" y2="467.95" stroke="#333" stroke-width="0.8"/>
<line x1="302.15" y1="456.6" x2="303.75" y2="456.6" stroke="#333" stroke-width="0.8"/>
<line x1="302.15" y1="445.25" x2="303.75" y2="445.25" stroke="#333" stroke-width="0.8"/>
<line x1="302.15" y1="433.9" x2="303.75" y2="433.9" stroke="#333" stroke-width="0.8"/>
<line x1="302.15" y1="422.55" x2="303.75" y2="422.55" stroke="#333" stroke-width="0.8"/>
<line x1="302.15" y1="411.2" x2="303.75" y2="411.2" stroke="#333" stroke-width="0.8"/>
<line x1="302.15" y1="399.85" x2="303.75" y2="399.85" stroke="#333" stroke-width="0.8"/>
<line x1="302.15" y1="388.5" x2="303.75" y2="388.5" stroke="#333" stroke-width="0.8"/>
<line x1="301.15" y1="502" x2="303.75" y2="502" stroke="#222" stroke-width="0.9"/>
<text x="300.55" y="505.37" font-size="7.7" text-anchor="end">0</text>
<line x1="301.15" y1="479.3" x2="303.75" y2="479.3" stroke="#222" stroke-width="0.9"/>
<text x="300.55" y="482.67" font-size="7.7" text-anchor="end">10</text>
<line x1="301.15" y1="456.6" x2="303.75" y2="456.6" stroke="#222" stroke-width="0.9"/>
<text x="300.55" y="459.97" font-size="7.7" text-anchor="end">20</text>
<line x1="301.15" y1="433.9" x2="303.75" y2="433.9" stroke="#222" stroke-width="0.9"/>
<text x="300.55" y="437.27" font-size="7.7" text-anchor="end">30</text>
<line x1="301.15" y1="411.2" x2="303.75" y2="411.2" stroke="#222" stroke-width="0.9"/>
<text x="300.55" y="414.57" font-size="7.7" text-anchor="end">40</text>
<line x1="301.15" y1="388.5" x2="303.75" y2="388.5" stroke="#222" stroke-width="0.9"/>
<text x="300.55" y="391.87" font-size="7.7" text-anchor="end">50</text>
<text transform="translate(273.8,447) rotate(-90)" font-size="7.5" text-anchor="middle">% of Gated cells</text>
<text transform="translate(283,447) rotate(-90)" font-size="7.5" text-anchor="middle">(mean ± SEM)</text>
<path d="M308.21 502v1.5M309.93 502v1.5M311.64 502v1.5M313.36 502v1.5M315.07 502v1.5M316.79 502v1.5M318.5 502v1.5M320.21 502v1.5M321.93 502v1.5M323.64 502v1.5M325.36 502v1.5M327.07 502v1.5M328.79 502v1.5M330.5 502v1.5M332.22 502v1.5M333.94 502v1.5M335.65 502v1.5M337.37 502v1.5M339.08 502v1.5M340.8 502v1.5M342.51 502v1.5M344.23 502v1.5M345.94 502v1.5M347.65 502v1.5M349.37 502v1.5M351.08 502v1.5M352.8 502v1.5M354.51 502v1.5M356.23 502v1.5M357.94 502v1.5M359.66 502v1.5M361.38 502v1.5M363.09 502v1.5M364.81 502v1.5M366.52 502v1.5M368.24 502v1.5M369.95 502v1.5M371.67 502v1.5M373.38 502v1.5M375.1 502v1.5M376.81 502v1.5M378.52 502v1.5M380.24 502v1.5M381.95 502v1.5M383.67 502v1.5M385.38 502v1.5M387.1 502v1.5M388.81 502v1.5M390.53 502v1.5M392.25 502v1.5M393.96 502v1.5M395.68 502v1.5M397.39 502v1.5M399.11 502v1.5M400.82 502v1.5M402.54 502v1.5M404.25 502v1.5M405.97 502v1.5M407.68 502v1.5M409.39 502v1.5M411.11 502v1.5M412.82 502v1.5M414.54 502v1.5M416.25 502v1.5M417.97 502v1.5M419.69 502v1.5M421.4 502v1.5M423.12 502v1.5M424.83 502v1.5M426.55 502v1.5M428.26 502v1.5M429.98 502v1.5M431.69 502v1.5M433.4 502v1.5M435.12 502v1.5M436.84 502v1.5M438.55 502v1.5M440.26 502v1.5M441.98 502v1.5M443.69 502v1.5M445.41 502v1.5M447.12 502v1.5M448.84 502v1.5M450.56 502v1.5M452.27 502v1.5M453.99 502v1.5M455.7 502v1.5M457.42 502v1.5M459.13 502v1.5M460.85 502v1.5M462.56 502v1.5M464.27 502v1.5M465.99 502v1.5M467.71 502v1.5M469.42 502v1.5M471.13 502v1.5M472.85 502v1.5M474.56 502v1.5M476.28 502v1.5M478 502v1.5M479.71 502v1.5M481.43 502v1.5M483.14 502v1.5M484.86 502v1.5M486.57 502v1.5M492.9 502v1.5M494.61 502v1.5M496.33 502v1.5M498.04 502v1.5M499.76 502v1.5M501.47 502v1.5M503.19 502v1.5M504.9 502v1.5M506.62 502v1.5M508.33 502v1.5M510.05 502v1.5M511.76 502v1.5M513.48 502v1.5" stroke="#9a9a9a" stroke-width="0.55"/>
<path d="M306.25 502v2.2M319.25 502v2.2M331.75 502v2.2M343.75 502v2.2M356.25 502v2.2M368.25 502v2.2M380 502v2.2M391.5 502v2.2M403.5 502v2.2M415.2 502v2.2M427 502v2.2M438.5 502v2.2M450 502v2.2M461.6 502v2.2M473.3 502v2.2M486 502v2.2" stroke="#222" stroke-width="0.8"/>
<line x1="303.75" y1="502" x2="487.3" y2="502" stroke="#111" stroke-width="1.1"/>
<line x1="491.9" y1="502" x2="514.2" y2="502" stroke="#111" stroke-width="1.1"/>
<path d="M487.3 500.2V503.8M491.9 500.2V503.8" stroke="#111" stroke-width="0.9"/>
<text transform="translate(306.25,512.75) scale(0.92,1)" font-size="7.9" text-anchor="middle">−7</text>
<text transform="translate(319.25,512.75) scale(0.92,1)" font-size="7.9" text-anchor="middle">0</text>
<text transform="translate(331.75,512.75) scale(0.92,1)" font-size="7.9" text-anchor="middle">7</text>
<text transform="translate(343.75,512.75) scale(0.92,1)" font-size="7.9" text-anchor="middle">14</text>
<text transform="translate(356.25,512.75) scale(0.92,1)" font-size="7.9" text-anchor="middle">21</text>
<text transform="translate(368.25,512.75) scale(0.92,1)" font-size="7.9" text-anchor="middle">28</text>
<text transform="translate(380,512.75) scale(0.92,1)" font-size="7.9" text-anchor="middle">35</text>
<text transform="translate(391.5,512.75) scale(0.92,1)" font-size="7.9" text-anchor="middle">42</text>
<text transform="translate(403.5,512.75) scale(0.92,1)" font-size="7.9" text-anchor="middle">49</text>
<text transform="translate(415.2,512.75) scale(0.92,1)" font-size="7.9" text-anchor="middle">56</text>
<text transform="translate(427,512.75) scale(0.92,1)" font-size="7.9" text-anchor="middle">63</text>
<text transform="translate(438.5,512.75) scale(0.92,1)" font-size="7.9" text-anchor="middle">70</text>
<text transform="translate(450,512.75) scale(0.92,1)" font-size="7.9" text-anchor="middle">77</text>
<text transform="translate(461.6,512.75) scale(0.92,1)" font-size="7.9" text-anchor="middle">84</text>
<text transform="translate(473.3,512.75) scale(0.92,1)" font-size="7.9" text-anchor="middle">91</text>
<text transform="translate(486,512.75) scale(0.92,1)" font-size="7.9" text-anchor="middle">98</text>
<text transform="translate(498.6,512.75) scale(0.92,1)" font-size="7.9" text-anchor="middle">105</text>
<text transform="translate(513.6,512.75) scale(0.92,1)" font-size="7.9" text-anchor="middle">126</text>
<path d="M319.75 518V514.3" stroke="#222" stroke-width="0.8"/>
<path d="M318.35 515.5L319.75 513.5L321.15 515.5" stroke="#222" stroke-width="0.8" fill="none"/>
<text x="319.75" y="526.9" font-size="8.2" text-anchor="middle">V</text>
<path d="M332.25 518V514.3" stroke="#222" stroke-width="0.8"/>
<path d="M330.85 515.5L332.25 513.5L333.65 515.5" stroke="#222" stroke-width="0.8" fill="none"/>
<text x="332.25" y="527.6" font-size="8.2" text-anchor="middle">D</text>
<path d="M344.25 518V514.3" stroke="#222" stroke-width="0.8"/>
<path d="M342.85 515.5L344.25 513.5L345.65 515.5" stroke="#222" stroke-width="0.8" fill="none"/>
<text x="344.25" y="527.6" font-size="8.2" text-anchor="middle">D</text>
<path d="M356.75 518V514.3" stroke="#222" stroke-width="0.8"/>
<path d="M355.35 515.5L356.75 513.5L358.15 515.5" stroke="#222" stroke-width="0.8" fill="none"/>
<text x="356.75" y="527.6" font-size="8.2" text-anchor="middle">D</text>
<path d="M368.75 518V514.3" stroke="#222" stroke-width="0.8"/>
<path d="M367.35 515.5L368.75 513.5L370.15 515.5" stroke="#222" stroke-width="0.8" fill="none"/>
<text x="368.75" y="527.6" font-size="8.2" text-anchor="middle">D</text>
<text x="401.8" y="539.3" font-size="7.5" text-anchor="middle">Study days</text>
<clipPath id="cF"><rect x="303.75" y="358.5" width="183.55" height="153.5"/><rect x="491.9" y="358.5" width="28.3" height="153.5"/></clipPath>
<path d="M306.5 493.83V492.01M304.89 492.01H308.1M320.21 497.46V495.64M318.61 495.64H321.81M325.36 496.32V494.51M323.76 494.51H326.96M332.22 495.19V493.37M330.62 493.37H333.82M333.94 476.8V474.99M332.33 474.99H335.54M337.37 490.65V488.83M335.76 488.83H338.97M344.23 495.19V493.37M342.62 493.37H345.83M345.94 497.01V495.19M344.34 495.19H347.54M349.37 496.32V494.51M347.77 494.51H350.97M356.23 496.32V494.51M354.63 494.51H357.83M357.94 496.32V494.51M356.34 494.51H359.55M361.38 496.32V494.51M359.77 494.51H362.98M368.24 496.32V494.51M366.63 494.51H369.84M369.95 496.32V494.51M368.35 494.51H371.55M373.38 496.55V494.74M371.78 494.74H374.98M381.95 496.55V494.74M380.35 494.74H383.56M393.96 496.78V494.96M392.36 494.96H395.56M405.97 496.78V494.96M404.37 494.96H407.57M417.97 497.01V495.19M416.37 495.19H419.57M429.98 497.23V495.42M428.38 495.42H431.58M453.99 497.46V495.64M452.38 495.64H455.59M478 497.46V495.64M476.39 495.64H479.6M498.8 497.46V495.64M497.2 495.64H500.4M510.2 497.46V495.64M508.6 495.64H511.8" stroke="#b07cc8" stroke-width="0.8" fill="none"/>
<path d="M306.5 493.83 L320.21 497.46 L325.36 496.32 L332.22 495.19 L333.94 476.8 L337.37 490.65 L344.23 495.19 L345.94 497.01 L349.37 496.32 L356.23 496.32 L357.94 496.32 L361.38 496.32 L368.24 496.32 L369.95 496.32 L373.38 496.55 L381.95 496.55 L393.96 496.78 L405.97 496.78 L417.97 497.01 L429.98 497.23 L453.99 497.46 L478 497.46 L489.6 497.46 L498.8 497.46 L510.2 497.46" fill="none" stroke="#a26bc0" stroke-width="1.0" stroke-linejoin="round" clip-path="url(#cF)"/>
<rect x="304.69" y="492.03" width="3.6" height="3.6" fill="#8a4a9f"/>
<rect x="318.41" y="495.66" width="3.6" height="3.6" fill="#8a4a9f"/>
<rect x="323.56" y="494.52" width="3.6" height="3.6" fill="#8a4a9f"/>
<rect x="330.42" y="493.39" width="3.6" height="3.6" fill="#8a4a9f"/>
<rect x="332.13" y="475" width="3.6" height="3.6" fill="#8a4a9f"/>
<rect x="335.56" y="488.85" width="3.6" height="3.6" fill="#8a4a9f"/>
<rect x="342.43" y="493.39" width="3.6" height="3.6" fill="#8a4a9f"/>
<rect x="344.14" y="495.21" width="3.6" height="3.6" fill="#8a4a9f"/>
<rect x="347.57" y="494.52" width="3.6" height="3.6" fill="#8a4a9f"/>
<rect x="354.43" y="494.52" width="3.6" height="3.6" fill="#8a4a9f"/>
<rect x="356.14" y="494.52" width="3.6" height="3.6" fill="#8a4a9f"/>
<rect x="359.57" y="494.52" width="3.6" height="3.6" fill="#8a4a9f"/>
<rect x="366.44" y="494.52" width="3.6" height="3.6" fill="#8a4a9f"/>
<rect x="368.15" y="494.52" width="3.6" height="3.6" fill="#8a4a9f"/>
<rect x="371.58" y="494.75" width="3.6" height="3.6" fill="#8a4a9f"/>
<rect x="380.15" y="494.75" width="3.6" height="3.6" fill="#8a4a9f"/>
<rect x="392.16" y="494.98" width="3.6" height="3.6" fill="#8a4a9f"/>
<rect x="404.17" y="494.98" width="3.6" height="3.6" fill="#8a4a9f"/>
<rect x="416.17" y="495.21" width="3.6" height="3.6" fill="#8a4a9f"/>
<rect x="428.18" y="495.43" width="3.6" height="3.6" fill="#8a4a9f"/>
<rect x="452.19" y="495.66" width="3.6" height="3.6" fill="#8a4a9f"/>
<rect x="476.19" y="495.66" width="3.6" height="3.6" fill="#8a4a9f"/>
<rect x="497" y="495.66" width="3.6" height="3.6" fill="#8a4a9f"/>
<rect x="508.4" y="495.66" width="3.6" height="3.6" fill="#8a4a9f"/>
<path d="M306.5 492.92V491.1M304.89 491.1H308.1M320.21 495.19V493.37M318.61 493.37H321.81M325.36 495.19V493.37M323.76 493.37H326.96M332.22 494.06V492.24M330.62 492.24H333.82M333.94 484.52V482.71M332.33 482.71H335.54M337.37 490.65V488.83M335.76 488.83H338.97M344.23 491.56V489.74M342.62 489.74H345.83M345.94 490.65V488.83M344.34 488.83H347.54M349.37 492.92V491.1M347.77 491.1H350.97M356.23 492.92V491.1M354.63 491.1H357.83M357.94 490.65V488.83M356.34 488.83H359.55M361.38 491.79V489.97M359.77 489.97H362.98M368.24 490.65V488.83M366.63 488.83H369.84M369.95 491.79V489.97M368.35 489.97H371.55M373.38 492.92V491.1M371.78 491.1H374.98M381.95 491.79V489.97M380.35 489.97H383.56M393.96 488.83V487.02M392.36 487.02H395.56M405.97 488.38V486.56M404.37 486.56H407.57M417.97 490.2V488.38M416.37 488.38H419.57M429.98 490.2V488.38M428.38 488.38H431.58M453.99 493.6V491.79M452.38 491.79H455.59M478 493.6V491.79M476.39 491.79H479.6M498.8 491.56V489.74M497.2 489.74H500.4M510.2 490.2V488.38M508.6 488.38H511.8" stroke="#6479b8" stroke-width="0.8" fill="none"/>
<path d="M306.5 492.92 L320.21 495.19 L325.36 495.19 L332.22 494.06 L333.94 484.52 L337.37 490.65 L344.23 491.56 L345.94 490.65 L349.37 492.92 L356.23 492.92 L357.94 490.65 L361.38 491.79 L368.24 490.65 L369.95 491.79 L373.38 492.92 L381.95 491.79 L393.96 488.83 L405.97 488.38 L417.97 490.2 L429.98 490.2 L453.99 493.6 L478 493.6 L489.6 492.58 L498.8 491.56 L510.2 490.2" fill="none" stroke="#4a64b0" stroke-width="1.0" stroke-linejoin="round" clip-path="url(#cF)"/>
<rect x="304.6" y="491.02" width="3.8" height="3.8" fill="#34498a"/>
<rect x="318.31" y="493.29" width="3.8" height="3.8" fill="#34498a"/>
<rect x="323.46" y="493.29" width="3.8" height="3.8" fill="#34498a"/>
<rect x="330.32" y="492.16" width="3.8" height="3.8" fill="#34498a"/>
<rect x="332.04" y="482.62" width="3.8" height="3.8" fill="#34498a"/>
<rect x="335.47" y="488.75" width="3.8" height="3.8" fill="#34498a"/>
<rect x="342.33" y="489.66" width="3.8" height="3.8" fill="#34498a"/>
<rect x="344.04" y="488.75" width="3.8" height="3.8" fill="#34498a"/>
<rect x="347.47" y="491.02" width="3.8" height="3.8" fill="#34498a"/>
<rect x="354.33" y="491.02" width="3.8" height="3.8" fill="#34498a"/>
<rect x="356.05" y="488.75" width="3.8" height="3.8" fill="#34498a"/>
<rect x="359.48" y="489.89" width="3.8" height="3.8" fill="#34498a"/>
<rect x="366.34" y="488.75" width="3.8" height="3.8" fill="#34498a"/>
<rect x="368.05" y="489.89" width="3.8" height="3.8" fill="#34498a"/>
<rect x="371.48" y="491.02" width="3.8" height="3.8" fill="#34498a"/>
<rect x="380.06" y="489.89" width="3.8" height="3.8" fill="#34498a"/>
<rect x="392.06" y="486.93" width="3.8" height="3.8" fill="#34498a"/>
<rect x="404.07" y="486.48" width="3.8" height="3.8" fill="#34498a"/>
<rect x="416.07" y="488.3" width="3.8" height="3.8" fill="#34498a"/>
<rect x="428.08" y="488.3" width="3.8" height="3.8" fill="#34498a"/>
<rect x="452.09" y="491.7" width="3.8" height="3.8" fill="#34498a"/>
<rect x="476.1" y="491.7" width="3.8" height="3.8" fill="#34498a"/>
<rect x="496.9" y="489.66" width="3.8" height="3.8" fill="#34498a"/>
<rect x="508.3" y="488.3" width="3.8" height="3.8" fill="#34498a"/>
<path d="M306.5 491.79V489.97M304.89 489.97H308.1M320.21 494.06V492.24M318.61 492.24H321.81M325.36 494.06V492.24M323.76 492.24H326.96M332.22 492.92V491.1M330.62 491.1H333.82M333.94 458.87V449.34M332.33 449.34H335.54M337.37 478.85V474.76M335.76 474.76H338.97M344.23 490.65V488.83M342.62 488.83H345.83M345.94 470.9V460.69M344.34 460.69H347.54M349.37 486.11V484.29M347.77 484.29H350.97M356.23 493.83V492.01M354.63 492.01H357.83M357.94 488.38V486.56M356.34 486.56H359.55M361.38 490.65V488.83M359.77 488.83H362.98M368.24 490.65V488.83M366.63 488.83H369.84M369.95 490.65V488.83M368.35 488.83H371.55M373.38 491.79V489.97M371.78 489.97H374.98M381.95 491.79V489.97M380.35 489.97H383.56M393.96 491.56V489.74M392.36 489.74H395.56M405.97 495.42V493.6M404.37 493.6H407.57M417.97 494.96V493.15M416.37 493.15H419.57M429.98 495.42V493.6M428.38 493.6H431.58M453.99 496.78V494.96M452.38 494.96H455.59M478 495.42V493.6M476.39 493.6H479.6M498.8 492.92V491.1M497.2 491.1H500.4M510.2 492.92V491.1M508.6 491.1H511.8" stroke="#6cc095" stroke-width="0.8" fill="none"/>
<path d="M306.5 491.79 L320.21 494.06 L325.36 494.06 L332.22 492.92 L333.94 458.87 L337.37 478.85 L344.23 490.65 L345.94 470.9 L349.37 486.11 L356.23 493.83 L357.94 488.38 L361.38 490.65 L368.24 490.65 L369.95 490.65 L373.38 491.79 L381.95 491.79 L393.96 491.56 L405.97 495.42 L417.97 494.96 L429.98 495.42 L453.99 496.78 L478 495.42 L489.6 494.17 L498.8 492.92 L510.2 492.92" fill="none" stroke="#3fbf80" stroke-width="1.0" stroke-linejoin="round" clip-path="url(#cF)"/>
<polygon points="306.5,489.19 309.1,491.79 306.5,494.39 303.89,491.79" fill="#2f9f68"/>
<polygon points="320.21,491.45 322.81,494.06 320.21,496.66 317.61,494.06" fill="#2f9f68"/>
<polygon points="325.36,491.45 327.96,494.06 325.36,496.66 322.76,494.06" fill="#2f9f68"/>
<polygon points="332.22,490.32 334.82,492.92 332.22,495.52 329.62,492.92" fill="#2f9f68"/>
<polygon points="333.94,456.27 336.54,458.87 333.94,461.47 331.33,458.87" fill="#2f9f68"/>
<polygon points="337.37,476.25 339.97,478.85 337.37,481.45 334.76,478.85" fill="#2f9f68"/>
<polygon points="344.23,488.05 346.83,490.65 344.23,493.25 341.62,490.65" fill="#2f9f68"/>
<polygon points="345.94,468.3 348.54,470.9 345.94,473.5 343.34,470.9" fill="#2f9f68"/>
<polygon points="349.37,483.51 351.97,486.11 349.37,488.71 346.77,486.11" fill="#2f9f68"/>
<polygon points="356.23,491.23 358.83,493.83 356.23,496.43 353.63,493.83" fill="#2f9f68"/>
<polygon points="357.94,485.78 360.55,488.38 357.94,490.98 355.34,488.38" fill="#2f9f68"/>
<polygon points="361.38,488.05 363.98,490.65 361.38,493.25 358.77,490.65" fill="#2f9f68"/>
<polygon points="368.24,488.05 370.84,490.65 368.24,493.25 365.63,490.65" fill="#2f9f68"/>
<polygon points="369.95,488.05 372.55,490.65 369.95,493.25 367.35,490.65" fill="#2f9f68"/>
<polygon points="373.38,489.19 375.98,491.79 373.38,494.39 370.78,491.79" fill="#2f9f68"/>
<polygon points="381.95,489.19 384.56,491.79 381.95,494.39 379.35,491.79" fill="#2f9f68"/>
<polygon points="393.96,488.96 396.56,491.56 393.96,494.16 391.36,491.56" fill="#2f9f68"/>
<polygon points="405.97,492.82 408.57,495.42 405.97,498.02 403.37,495.42" fill="#2f9f68"/>
<polygon points="417.97,492.36 420.57,494.96 417.97,497.56 415.37,494.96" fill="#2f9f68"/>
<polygon points="429.98,492.82 432.58,495.42 429.98,498.02 427.38,495.42" fill="#2f9f68"/>
<polygon points="453.99,494.18 456.59,496.78 453.99,499.38 451.38,496.78" fill="#2f9f68"/>
<polygon points="478,492.82 480.6,495.42 478,498.02 475.39,495.42" fill="#2f9f68"/>
<polygon points="498.8,490.32 501.4,492.92 498.8,495.52 496.2,492.92" fill="#2f9f68"/>
<polygon points="510.2,490.32 512.8,492.92 510.2,495.52 507.6,492.92" fill="#2f9f68"/>
<path d="M306.5 492.92V491.1M304.89 491.1H308.1M320.21 494.96V493.15M318.61 493.15H321.81M325.36 494.96V493.15M323.76 493.15H326.96M332.22 492.47V490.65M330.62 490.65H333.82M333.94 464.55V460M332.33 460H335.54M337.37 486.34V484.52M335.76 484.52H338.97M344.23 488.38V486.56M342.62 486.56H345.83M345.94 475.89V474.08M344.34 474.08H347.54M349.37 485.2V483.39M347.77 483.39H350.97M356.23 490.65V488.83M354.63 488.83H357.83M357.94 486.34V483.61M356.34 483.61H359.55M361.38 485.66V483.84M359.77 483.84H362.98M368.24 486.34V484.52M366.63 484.52H369.84M369.95 488.38V486.56M368.35 486.56H371.55M373.38 491.56V489.74M371.78 489.74H374.98M381.95 490.65V488.83M380.35 488.83H383.56M393.96 487.7V485.88M392.36 485.88H395.56M405.97 484.52V481.8M404.37 481.8H407.57M417.97 487.7V485.43M416.37 485.43H419.57M429.98 495.42V493.6M428.38 493.6H431.58M453.99 496.78V494.96M452.38 494.96H455.59M478 497.91V496.1M476.39 496.1H479.6M498.8 496.32V494.51M497.2 494.51H500.4M510.2 495.42V493.6M508.6 493.6H511.8" stroke="#e06a95" stroke-width="0.8" fill="none"/>
<path d="M306.5 492.92 L320.21 494.96 L325.36 494.96 L332.22 492.47 L333.94 464.55 L337.37 486.34 L344.23 488.38 L345.94 475.89 L349.37 485.2 L356.23 490.65 L357.94 486.34 L361.38 485.66 L368.24 486.34 L369.95 488.38 L373.38 491.56 L381.95 490.65 L393.96 487.7 L405.97 484.52 L417.97 487.7 L429.98 495.42 L453.99 496.78 L478 497.91 L489.6 497.12 L498.8 496.32 L510.2 495.42" fill="none" stroke="#e5487e" stroke-width="1.0" stroke-linejoin="round" clip-path="url(#cF)"/>
<circle cx="306.5" cy="492.92" r="2.2" fill="#c8306a"/>
<circle cx="320.21" cy="494.96" r="2.2" fill="#c8306a"/>
<circle cx="325.36" cy="494.96" r="2.2" fill="#c8306a"/>
<circle cx="332.22" cy="492.47" r="2.2" fill="#c8306a"/>
<circle cx="333.94" cy="464.55" r="2.2" fill="#c8306a"/>
<circle cx="337.37" cy="486.34" r="2.2" fill="#c8306a"/>
<circle cx="344.23" cy="488.38" r="2.2" fill="#c8306a"/>
<circle cx="345.94" cy="475.89" r="2.2" fill="#c8306a"/>
<circle cx="349.37" cy="485.2" r="2.2" fill="#c8306a"/>
<circle cx="356.23" cy="490.65" r="2.2" fill="#c8306a"/>
<circle cx="357.94" cy="486.34" r="2.2" fill="#c8306a"/>
<circle cx="361.38" cy="485.66" r="2.2" fill="#c8306a"/>
<circle cx="368.24" cy="486.34" r="2.2" fill="#c8306a"/>
<circle cx="369.95" cy="488.38" r="2.2" fill="#c8306a"/>
<circle cx="373.38" cy="491.56" r="2.2" fill="#c8306a"/>
<circle cx="381.95" cy="490.65" r="2.2" fill="#c8306a"/>
<circle cx="393.96" cy="487.7" r="2.2" fill="#c8306a"/>
<circle cx="405.97" cy="484.52" r="2.2" fill="#c8306a"/>
<circle cx="417.97" cy="487.7" r="2.2" fill="#c8306a"/>
<circle cx="429.98" cy="495.42" r="2.2" fill="#c8306a"/>
<circle cx="453.99" cy="496.78" r="2.2" fill="#c8306a"/>
<circle cx="478" cy="497.91" r="2.2" fill="#c8306a"/>
<circle cx="498.8" cy="496.32" r="2.2" fill="#c8306a"/>
<circle cx="510.2" cy="495.42" r="2.2" fill="#c8306a"/>
<path d="M306.5 490.65V488.38M304.69 488.38H308.3M320.21 491.1V488.38M318.41 488.38H322.01M325.36 490.65V488.83M323.56 488.83H327.16M332.22 486.34V483.39M330.42 483.39H334.02M333.94 487.25V485.43M332.13 485.43H335.74M337.37 487.25V485.43M335.56 485.43H339.17M344.23 481.57V478.17M342.43 478.17H346.03M345.94 486.11V484.29M344.14 484.29H347.74M349.37 486.34V484.52M347.57 484.52H351.17M356.23 491.79V489.97M354.43 489.97H358.03M357.94 489.51V487.7M356.14 487.7H359.75M361.38 488.83V487.02M359.57 487.02H363.18M368.24 484.52V482.25M366.44 482.25H370.04M369.95 486.11V484.29M368.15 484.29H371.75M373.38 486.34V484.52M371.58 484.52H375.18M381.95 487.25V483.84M380.15 483.84H383.75M393.96 475.44V460.91M392.16 460.91H395.76M405.97 475.44V461.59M404.17 461.59H407.77M417.97 473.17V457.05M416.17 457.05H419.77M429.98 471.81V454.33M428.18 454.33H431.78M453.99 476.8V462.05M452.19 462.05H455.79M478 469.08V451.38M476.19 451.38H479.8M498.8 468.4V450.47M497 450.47H500.6M510.2 465.91V446.16M508.4 446.16H512" stroke="#111111" stroke-width="1.0" fill="none"/>
<path d="M306.5 490.65 L320.21 491.1 L325.36 490.65 L332.22 486.34 L333.94 487.25 L337.37 487.25 L344.23 481.57 L345.94 486.11 L349.37 486.34 L356.23 491.79 L357.94 489.51 L361.38 488.83 L368.24 484.52 L369.95 486.11 L373.38 486.34 L381.95 487.25 L393.96 475.44 L405.97 475.44 L417.97 473.17 L429.98 471.81 L453.99 476.8 L478 469.08 L489.6 468.74 L498.8 468.4 L510.2 465.91" fill="none" stroke="#1a1a1a" stroke-width="1.25" stroke-linejoin="round" clip-path="url(#cF)"/>
<polygon points="306.5,488.5 308.75,492.37 304.24,492.37" fill="#fff" stroke="#000" stroke-width="1.1"/>
<polygon points="320.21,488.95 322.47,492.82 317.96,492.82" fill="#fff" stroke="#000" stroke-width="1.1"/>
<polygon points="325.36,488.5 327.62,492.37 323.1,492.37" fill="#fff" stroke="#000" stroke-width="1.1"/>
<polygon points="332.22,484.19 334.48,488.06 329.96,488.06" fill="#fff" stroke="#000" stroke-width="1.1"/>
<polygon points="333.94,485.1 336.19,488.97 331.68,488.97" fill="#fff" stroke="#000" stroke-width="1.1"/>
<polygon points="337.37,485.1 339.62,488.97 335.11,488.97" fill="#fff" stroke="#000" stroke-width="1.1"/>
<polygon points="344.23,479.42 346.48,483.29 341.97,483.29" fill="#fff" stroke="#000" stroke-width="1.1"/>
<polygon points="345.94,483.96 348.2,487.83 343.68,487.83" fill="#fff" stroke="#000" stroke-width="1.1"/>
<polygon points="349.37,484.19 351.63,488.06 347.11,488.06" fill="#fff" stroke="#000" stroke-width="1.1"/>
<polygon points="356.23,489.64 358.49,493.51 353.97,493.51" fill="#fff" stroke="#000" stroke-width="1.1"/>
<polygon points="357.94,487.37 360.2,491.24 355.69,491.24" fill="#fff" stroke="#000" stroke-width="1.1"/>
<polygon points="361.38,486.68 363.63,490.55 359.12,490.55" fill="#fff" stroke="#000" stroke-width="1.1"/>
<polygon points="368.24,482.37 370.49,486.24 365.98,486.24" fill="#fff" stroke="#000" stroke-width="1.1"/>
<polygon points="369.95,483.96 372.21,487.83 367.69,487.83" fill="#fff" stroke="#000" stroke-width="1.1"/>
<polygon points="373.38,484.19 375.64,488.06 371.12,488.06" fill="#fff" stroke="#000" stroke-width="1.1"/>
<polygon points="381.95,485.1 384.21,488.97 379.7,488.97" fill="#fff" stroke="#000" stroke-width="1.1"/>
<polygon points="393.96,473.29 396.22,477.16 391.7,477.16" fill="#fff" stroke="#000" stroke-width="1.1"/>
<polygon points="405.97,473.29 408.22,477.16 403.71,477.16" fill="#fff" stroke="#000" stroke-width="1.1"/>
<polygon points="417.97,471.02 420.23,474.89 415.71,474.89" fill="#fff" stroke="#000" stroke-width="1.1"/>
<polygon points="429.98,469.66 432.23,473.53 427.72,473.53" fill="#fff" stroke="#000" stroke-width="1.1"/>
<polygon points="453.99,474.65 456.24,478.52 451.73,478.52" fill="#fff" stroke="#000" stroke-width="1.1"/>
<polygon points="478,466.94 480.25,470.81 475.74,470.81" fill="#fff" stroke="#000" stroke-width="1.1"/>
<polygon points="498.8,466.25 501.06,470.12 496.54,470.12" fill="#fff" stroke="#000" stroke-width="1.1"/>
<polygon points="510.2,463.76 512.46,467.63 507.94,467.63" fill="#fff" stroke="#000" stroke-width="1.1"/>
</g>
<g id="pG">
<text x="1.5" y="549" font-size="17.5" text-anchor="start" font-weight="bold">G</text>
<text x="143" y="553" font-size="7.7" font-weight="bold" text-anchor="middle"><tspan>CD4</tspan><tspan font-size="4.77" dy="-3">+</tspan><tspan dy="3">Ki67</tspan><tspan font-size="4.77" dy="-3">+</tspan><tspan dy="3"> Cells</tspan></text>
<line x1="187.7" y1="563.7" x2="196.9" y2="563.7" stroke="#000" stroke-width="1"/>
<polygon points="192.3,561.87 194.22,565.16 190.38,565.16" fill="#fff" stroke="#000" stroke-width="1.1"/>
<text x="201.5" y="566.3" font-size="7.6" text-anchor="start">Vehicle</text>
<line x1="187.7" y1="571.4" x2="196.9" y2="571.4" stroke="#a26bc0" stroke-width="1"/>
<rect x="190.77" y="569.87" width="3.06" height="3.06" fill="#8a4a9f"/>
<text x="201.5" y="574" font-size="7.6" text-anchor="start">0.2 µg/kg</text>
<line x1="187.7" y1="579.4" x2="196.9" y2="579.4" stroke="#4a64b0" stroke-width="1"/>
<rect x="190.69" y="577.78" width="3.23" height="3.23" fill="#34498a"/>
<text x="201.5" y="582" font-size="7.6" text-anchor="start">2 µg/kg</text>
<line x1="187.7" y1="587.7" x2="196.9" y2="587.7" stroke="#3fbf80" stroke-width="1"/>
<polygon points="192.3,585.49 194.51,587.7 192.3,589.91 190.09,587.7" fill="#2f9f68"/>
<text x="201.5" y="590.3" font-size="7.6" text-anchor="start">5 µg/kg</text>
<line x1="187.7" y1="596" x2="196.9" y2="596" stroke="#e5487e" stroke-width="1"/>
<circle cx="192.3" cy="596" r="1.87" fill="#c8306a"/>
<text x="201.5" y="598.6" font-size="7.6" text-anchor="start">10 µg/kg</text>
<line x1="45" y1="561.25" x2="45" y2="673.25" stroke="#4a4a4a" stroke-width="1.15"/>
<line x1="43.4" y1="673.25" x2="45" y2="673.25" stroke="#333" stroke-width="0.8"/>
<line x1="43.4" y1="662.05" x2="45" y2="662.05" stroke="#333" stroke-width="0.8"/>
<line x1="43.4" y1="650.85" x2="45" y2="650.85" stroke="#333" stroke-width="0.8"/>
<line x1="43.4" y1="639.65" x2="45" y2="639.65" stroke="#333" stroke-width="0.8"/>
<line x1="43.4" y1="628.45" x2="45" y2="628.45" stroke="#333" stroke-width="0.8"/>
<line x1="43.4" y1="617.25" x2="45" y2="617.25" stroke="#333" stroke-width="0.8"/>
<line x1="43.4" y1="606.05" x2="45" y2="606.05" stroke="#333" stroke-width="0.8"/>
<line x1="43.4" y1="594.85" x2="45" y2="594.85" stroke="#333" stroke-width="0.8"/>
<line x1="43.4" y1="583.65" x2="45" y2="583.65" stroke="#333" stroke-width="0.8"/>
<line x1="43.4" y1="572.45" x2="45" y2="572.45" stroke="#333" stroke-width="0.8"/>
<line x1="43.4" y1="561.25" x2="45" y2="561.25" stroke="#333" stroke-width="0.8"/>
<line x1="42.4" y1="673.25" x2="45" y2="673.25" stroke="#222" stroke-width="0.9"/>
<text x="41.8" y="676.62" font-size="7.7" text-anchor="end">0</text>
<line x1="42.4" y1="650.85" x2="45" y2="650.85" stroke="#222" stroke-width="0.9"/>
<text x="41.8" y="654.22" font-size="7.7" text-anchor="end">20</text>
<line x1="42.4" y1="628.45" x2="45" y2="628.45" stroke="#222" stroke-width="0.9"/>
<text x="41.8" y="631.82" font-size="7.7" text-anchor="end">40</text>
<line x1="42.4" y1="606.05" x2="45" y2="606.05" stroke="#222" stroke-width="0.9"/>
<text x="41.8" y="609.42" font-size="7.7" text-anchor="end">60</text>
<line x1="42.4" y1="583.65" x2="45" y2="583.65" stroke="#222" stroke-width="0.9"/>
<text x="41.8" y="587.02" font-size="7.7" text-anchor="end">80</text>
<line x1="42.4" y1="561.25" x2="45" y2="561.25" stroke="#222" stroke-width="0.9"/>
<text x="41.8" y="564.62" font-size="7.7" text-anchor="end">100</text>
<text transform="translate(13.4,617.9) rotate(-90)" font-size="7.5" text-anchor="middle">% of Gated cells</text>
<text transform="translate(22,617.9) rotate(-90)" font-size="7.5" text-anchor="middle">(mean ± SEM)</text>
<path d="M49.94 673.25v1.5M51.52 673.25v1.5M53.1 673.25v1.5M54.67 673.25v1.5M56.25 673.25v1.5M57.82 673.25v1.5M59.4 673.25v1.5M60.98 673.25v1.5M62.55 673.25v1.5M64.13 673.25v1.5M65.7 673.25v1.5M67.28 673.25v1.5M68.86 673.25v1.5M70.43 673.25v1.5M72.01 673.25v1.5M73.58 673.25v1.5M75.16 673.25v1.5M76.74 673.25v1.5M78.31 673.25v1.5M79.89 673.25v1.5M81.46 673.25v1.5M83.04 673.25v1.5M84.62 673.25v1.5M86.19 673.25v1.5M87.77 673.25v1.5M89.34 673.25v1.5M90.92 673.25v1.5M92.5 673.25v1.5M94.07 673.25v1.5M95.65 673.25v1.5M97.22 673.25v1.5M98.8 673.25v1.5M100.38 673.25v1.5M101.95 673.25v1.5M103.53 673.25v1.5M105.1 673.25v1.5M106.68 673.25v1.5M108.26 673.25v1.5M109.83 673.25v1.5M111.41 673.25v1.5M112.98 673.25v1.5M114.56 673.25v1.5M116.14 673.25v1.5M117.71 673.25v1.5M119.29 673.25v1.5M120.86 673.25v1.5M122.44 673.25v1.5M124.02 673.25v1.5M125.59 673.25v1.5M127.17 673.25v1.5M128.74 673.25v1.5M130.32 673.25v1.5M131.9 673.25v1.5M133.47 673.25v1.5M135.05 673.25v1.5M136.62 673.25v1.5M138.2 673.25v1.5M139.78 673.25v1.5M141.35 673.25v1.5M142.93 673.25v1.5M144.5 673.25v1.5M146.08 673.25v1.5M147.66 673.25v1.5M149.23 673.25v1.5M150.81 673.25v1.5M152.38 673.25v1.5M153.96 673.25v1.5M155.54 673.25v1.5M157.11 673.25v1.5M158.69 673.25v1.5M160.26 673.25v1.5M161.84 673.25v1.5M163.42 673.25v1.5M164.99 673.25v1.5M166.57 673.25v1.5M168.14 673.25v1.5M169.72 673.25v1.5M171.3 673.25v1.5M172.87 673.25v1.5M174.45 673.25v1.5M176.02 673.25v1.5M177.6 673.25v1.5M179.18 673.25v1.5M180.75 673.25v1.5M182.33 673.25v1.5M183.9 673.25v1.5M185.48 673.25v1.5M187.06 673.25v1.5M188.63 673.25v1.5M190.21 673.25v1.5M191.78 673.25v1.5M193.36 673.25v1.5M194.94 673.25v1.5M196.51 673.25v1.5M198.09 673.25v1.5M199.66 673.25v1.5M201.24 673.25v1.5M202.82 673.25v1.5M204.39 673.25v1.5M205.97 673.25v1.5M207.54 673.25v1.5M209.12 673.25v1.5M210.7 673.25v1.5M212.27 673.25v1.5M213.85 673.25v1.5M221.3 673.25v1.5M222.88 673.25v1.5M224.45 673.25v1.5M226.03 673.25v1.5M227.6 673.25v1.5M229.18 673.25v1.5M230.76 673.25v1.5M232.33 673.25v1.5M233.91 673.25v1.5M235.48 673.25v1.5M237.06 673.25v1.5" stroke="#9a9a9a" stroke-width="0.55"/>
<path d="M47.5 673.25v2.2M59.25 673.25v2.2M70 673.25v2.2M81.25 673.25v2.2M92.5 673.25v2.2M103.75 673.25v2.2M114.5 673.25v2.2M125.4 673.25v2.2M136.7 673.25v2.2M147.8 673.25v2.2M158.5 673.25v2.2M169.9 673.25v2.2M180.6 673.25v2.2M191.4 673.25v2.2M202.2 673.25v2.2M214.3 673.25v2.2" stroke="#222" stroke-width="0.8"/>
<line x1="45" y1="673.25" x2="214.9" y2="673.25" stroke="#111" stroke-width="1.1"/>
<line x1="220.3" y1="673.25" x2="238.6" y2="673.25" stroke="#111" stroke-width="1.1"/>
<path d="M214.9 671.45V675.05M220.3 671.45V675.05" stroke="#111" stroke-width="0.9"/>
<text transform="translate(47.5,683.05) scale(0.92,1)" font-size="7.9" text-anchor="middle">−7</text>
<text transform="translate(59.25,683.05) scale(0.92,1)" font-size="7.9" text-anchor="middle">0</text>
<text transform="translate(70,683.05) scale(0.92,1)" font-size="7.9" text-anchor="middle">7</text>
<text transform="translate(81.25,683.05) scale(0.92,1)" font-size="7.9" text-anchor="middle">14</text>
<text transform="translate(92.5,683.05) scale(0.92,1)" font-size="7.9" text-anchor="middle">21</text>
<text transform="translate(103.75,683.05) scale(0.92,1)" font-size="7.9" text-anchor="middle">28</text>
<text transform="translate(114.5,683.05) scale(0.92,1)" font-size="7.9" text-anchor="middle">35</text>
<text transform="translate(125.4,683.05) scale(0.92,1)" font-size="7.9" text-anchor="middle">42</text>
<text transform="translate(136.7,683.05) scale(0.92,1)" font-size="7.9" text-anchor="middle">49</text>
<text transform="translate(147.8,683.05) scale(0.92,1)" font-size="7.9" text-anchor="middle">56</text>
<text transform="translate(158.5,683.05) scale(0.92,1)" font-size="7.9" text-anchor="middle">63</text>
<text transform="translate(169.9,683.05) scale(0.92,1)" font-size="7.9" text-anchor="middle">70</text>
<text transform="translate(180.6,683.05) scale(0.92,1)" font-size="7.9" text-anchor="middle">77</text>
<text transform="translate(191.4,683.05) scale(0.92,1)" font-size="7.9" text-anchor="middle">84</text>
<text transform="translate(202.2,683.05) scale(0.92,1)" font-size="7.9" text-anchor="middle">91</text>
<text transform="translate(214.3,683.05) scale(0.92,1)" font-size="7.9" text-anchor="middle">98</text>
<text transform="translate(226.5,683.05) scale(0.92,1)" font-size="7.9" text-anchor="middle">105</text>
<text transform="translate(240,683.05) scale(0.92,1)" font-size="7.9" text-anchor="middle">126</text>
<path d="M59.75 689V684.3" stroke="#222" stroke-width="0.8"/>
<path d="M58.35 685.5L59.75 683.5L61.15 685.5" stroke="#222" stroke-width="0.8" fill="none"/>
<text x="59.75" y="698.2" font-size="8.2" text-anchor="middle">V</text>
<path d="M70.5 689V684.3" stroke="#222" stroke-width="0.8"/>
<path d="M69.1 685.5L70.5 683.5L71.9 685.5" stroke="#222" stroke-width="0.8" fill="none"/>
<text x="70.5" y="698.9" font-size="8.2" text-anchor="middle">D</text>
<path d="M81.75 689V684.3" stroke="#222" stroke-width="0.8"/>
<path d="M80.35 685.5L81.75 683.5L83.15 685.5" stroke="#222" stroke-width="0.8" fill="none"/>
<text x="81.75" y="698.9" font-size="8.2" text-anchor="middle">D</text>
<path d="M93 689V684.3" stroke="#222" stroke-width="0.8"/>
<path d="M91.6 685.5L93 683.5L94.4 685.5" stroke="#222" stroke-width="0.8" fill="none"/>
<text x="93" y="698.9" font-size="8.2" text-anchor="middle">D</text>
<path d="M104.25 689V684.3" stroke="#222" stroke-width="0.8"/>
<path d="M102.85 685.5L104.25 683.5L105.65 685.5" stroke="#222" stroke-width="0.8" fill="none"/>
<text x="104.25" y="698.9" font-size="8.2" text-anchor="middle">D</text>
<text x="141.8" y="710.4" font-size="7.5" text-anchor="middle">Study days</text>
<clipPath id="cG"><rect x="45" y="531.25" width="169.9" height="152"/><rect x="220.3" y="531.25" width="24.3" height="152"/></clipPath>
<path d="M48.37 666.53V664.07M46.77 664.07H49.97M60.98 667.65V665.19M59.38 665.19H62.58M65.7 666.53V664.07M64.1 664.07H67.3M72.01 664.29V661.83M70.41 661.83H73.61M73.58 618.37V615.91M71.98 615.91H75.18M76.74 622.85V620.39M75.14 620.39H78.34M83.04 628.45V625.99M81.44 625.99H84.64M84.62 622.85V620.39M83.02 620.39H86.22M87.77 636.29V633.83M86.17 633.83H89.37M94.07 637.41V634.95M92.47 634.95H95.67M95.65 626.21V623.75M94.05 623.75H97.25M98.8 632.93V630.47M97.2 630.47H100.4M105.1 628.45V625.99M103.5 625.99H106.7M106.68 634.05V631.59M105.08 631.59H108.28M109.83 641.89V639.43M108.23 639.43H111.43M117.71 646.37V643.91M116.11 643.91H119.31M128.74 654.21V651.75M127.14 651.75H130.34M139.78 656.45V653.99M138.18 653.99H141.38M150.81 658.69V656.23M149.21 656.23H152.41M161.84 659.81V657.35M160.24 657.35H163.44M183.9 663.17V660.71M182.3 660.71H185.5M205.97 664.29V661.83M204.37 661.83H207.57M225.8 663.17V660.71M224.2 660.71H227.4M235.9 663.73V661.27M234.3 661.27H237.5" stroke="#b07cc8" stroke-width="0.8" fill="none"/>
<path d="M48.37 666.53 L60.98 667.65 L65.7 666.53 L72.01 664.29 L73.58 618.37 L76.74 622.85 L83.04 628.45 L84.62 622.85 L87.77 636.29 L94.07 637.41 L95.65 626.21 L98.8 632.93 L105.1 628.45 L106.68 634.05 L109.83 641.89 L117.71 646.37 L128.74 654.21 L139.78 656.45 L150.81 658.69 L161.84 659.81 L183.9 663.17 L205.97 664.29 L217.6 663.73 L225.8 663.17 L235.9 663.73" fill="none" stroke="#a26bc0" stroke-width="1.0" stroke-linejoin="round" clip-path="url(#cG)"/>
<rect x="46.57" y="664.73" width="3.6" height="3.6" fill="#8a4a9f"/>
<rect x="59.18" y="665.85" width="3.6" height="3.6" fill="#8a4a9f"/>
<rect x="63.9" y="664.73" width="3.6" height="3.6" fill="#8a4a9f"/>
<rect x="70.21" y="662.49" width="3.6" height="3.6" fill="#8a4a9f"/>
<rect x="71.78" y="616.57" width="3.6" height="3.6" fill="#8a4a9f"/>
<rect x="74.94" y="621.05" width="3.6" height="3.6" fill="#8a4a9f"/>
<rect x="81.24" y="626.65" width="3.6" height="3.6" fill="#8a4a9f"/>
<rect x="82.82" y="621.05" width="3.6" height="3.6" fill="#8a4a9f"/>
<rect x="85.97" y="634.49" width="3.6" height="3.6" fill="#8a4a9f"/>
<rect x="92.27" y="635.61" width="3.6" height="3.6" fill="#8a4a9f"/>
<rect x="93.85" y="624.41" width="3.6" height="3.6" fill="#8a4a9f"/>
<rect x="97" y="631.13" width="3.6" height="3.6" fill="#8a4a9f"/>
<rect x="103.3" y="626.65" width="3.6" height="3.6" fill="#8a4a9f"/>
<rect x="104.88" y="632.25" width="3.6" height="3.6" fill="#8a4a9f"/>
<rect x="108.03" y="640.09" width="3.6" height="3.6" fill="#8a4a9f"/>
<rect x="115.91" y="644.57" width="3.6" height="3.6" fill="#8a4a9f"/>
<rect x="126.94" y="652.41" width="3.6" height="3.6" fill="#8a4a9f"/>
<rect x="137.98" y="654.65" width="3.6" height="3.6" fill="#8a4a9f"/>
<rect x="149.01" y="656.89" width="3.6" height="3.6" fill="#8a4a9f"/>
<rect x="160.04" y="658.01" width="3.6" height="3.6" fill="#8a4a9f"/>
<rect x="182.1" y="661.37" width="3.6" height="3.6" fill="#8a4a9f"/>
<rect x="204.17" y="662.49" width="3.6" height="3.6" fill="#8a4a9f"/>
<rect x="224" y="661.37" width="3.6" height="3.6" fill="#8a4a9f"/>
<rect x="234.1" y="661.93" width="3.6" height="3.6" fill="#8a4a9f"/>
<path d="M48.37 666.53V668.99M46.77 668.99H49.97M60.98 667.65V670.11M59.38 670.11H62.58M65.7 666.53V668.99M64.1 668.99H67.3M72.01 664.29V666.75M70.41 666.75H73.61M73.58 635.73V638.19M71.98 638.19H75.18M76.74 619.6V622.07M75.14 622.07H78.34M83.04 630.47V632.93M81.44 632.93H84.64M84.62 628.45V630.91M83.02 630.91H86.22M87.77 637.41V639.87M86.17 639.87H89.37M94.07 638.19V640.66M92.47 640.66H95.67M95.65 624.31V626.77M94.05 626.77H97.25M98.8 631.25V633.71M97.2 633.71H100.4M105.1 627.44V629.91M103.5 629.91H106.7M106.68 634.05V636.51M105.08 636.51H108.28M109.83 639.65V642.11M108.23 642.11H111.43M117.71 646.03V648.5M116.11 648.5H119.31M128.74 653.87V656.34M127.14 656.34H130.34M139.78 655.44V657.91M138.18 657.91H141.38M150.81 657.91V660.37M149.21 660.37H152.41M161.84 659.14V661.6M160.24 661.6H163.44M183.9 662.16V664.63M182.3 664.63H185.5M205.97 663.95V666.42M204.37 666.42H207.57M225.8 662.16V664.63M224.2 664.63H227.4M235.9 663.17V665.63M234.3 665.63H237.5" stroke="#6479b8" stroke-width="0.8" fill="none"/>
<path d="M48.37 666.53 L60.98 667.65 L65.7 666.53 L72.01 664.29 L73.58 635.73 L76.74 619.6 L83.04 630.47 L84.62 628.45 L87.77 637.41 L94.07 638.19 L95.65 624.31 L98.8 631.25 L105.1 627.44 L106.68 634.05 L109.83 639.65 L117.71 646.03 L128.74 653.87 L139.78 655.44 L150.81 657.91 L161.84 659.14 L183.9 662.16 L205.97 663.95 L217.6 663.06 L225.8 662.16 L235.9 663.17" fill="none" stroke="#4a64b0" stroke-width="1.0" stroke-linejoin="round" clip-path="url(#cG)"/>
<rect x="46.47" y="664.63" width="3.8" height="3.8" fill="#34498a"/>
<rect x="59.08" y="665.75" width="3.8" height="3.8" fill="#34498a"/>
<rect x="63.8" y="664.63" width="3.8" height="3.8" fill="#34498a"/>
<rect x="70.11" y="662.39" width="3.8" height="3.8" fill="#34498a"/>
<rect x="71.68" y="633.83" width="3.8" height="3.8" fill="#34498a"/>
<rect x="74.84" y="617.7" width="3.8" height="3.8" fill="#34498a"/>
<rect x="81.14" y="628.57" width="3.8" height="3.8" fill="#34498a"/>
<rect x="82.72" y="626.55" width="3.8" height="3.8" fill="#34498a"/>
<rect x="85.87" y="635.51" width="3.8" height="3.8" fill="#34498a"/>
<rect x="92.17" y="636.29" width="3.8" height="3.8" fill="#34498a"/>
<rect x="93.75" y="622.41" width="3.8" height="3.8" fill="#34498a"/>
<rect x="96.9" y="629.35" width="3.8" height="3.8" fill="#34498a"/>
<rect x="103.2" y="625.54" width="3.8" height="3.8" fill="#34498a"/>
<rect x="104.78" y="632.15" width="3.8" height="3.8" fill="#34498a"/>
<rect x="107.93" y="637.75" width="3.8" height="3.8" fill="#34498a"/>
<rect x="115.81" y="644.13" width="3.8" height="3.8" fill="#34498a"/>
<rect x="126.84" y="651.97" width="3.8" height="3.8" fill="#34498a"/>
<rect x="137.88" y="653.54" width="3.8" height="3.8" fill="#34498a"/>
<rect x="148.91" y="656.01" width="3.8" height="3.8" fill="#34498a"/>
<rect x="159.94" y="657.24" width="3.8" height="3.8" fill="#34498a"/>
<rect x="182" y="660.26" width="3.8" height="3.8" fill="#34498a"/>
<rect x="204.07" y="662.05" width="3.8" height="3.8" fill="#34498a"/>
<rect x="223.9" y="660.26" width="3.8" height="3.8" fill="#34498a"/>
<rect x="234" y="661.27" width="3.8" height="3.8" fill="#34498a"/>
<path d="M48.37 665.97V663.51M46.77 663.51H49.97M60.98 667.09V664.63M59.38 664.63H62.58M65.7 665.97V663.51M64.1 663.51H67.3M72.01 663.17V660.71M70.41 660.71H73.61M73.58 628.45V625.99M71.98 625.99H75.18M76.74 598.32V595.86M75.14 595.86H78.34M83.04 612.21V609.75M81.44 609.75H84.64M84.62 611.65V609.19M83.02 609.19H86.22M87.77 615.68V613.22M86.17 613.22H89.37M94.07 621.73V619.27M92.47 619.27H95.67M95.65 621.73V619.27M94.05 619.27H97.25M98.8 623.97V621.51M97.2 621.51H100.4M105.1 628.45V625.99M103.5 625.99H106.7M106.68 638.19V635.73M105.08 635.73H108.28M109.83 643.46V640.99M108.23 640.99H111.43M117.71 646.03V643.57M116.11 643.57H119.31M128.74 641.67V629.35M127.14 629.35H130.34M139.78 643.46V630.02M138.18 630.02H141.38M150.81 638.08V620.16M149.21 620.16H152.41M161.84 642.23V628.45M160.24 628.45H163.44M183.9 654.21V646.37M182.3 646.37H185.5M205.97 657.35V652.87M204.37 652.87H207.57M225.8 659.03V656.56M224.2 656.56H227.4M235.9 659.81V657.35M234.3 657.35H237.5" stroke="#6cc095" stroke-width="0.8" fill="none"/>
<path d="M48.37 665.97 L60.98 667.09 L65.7 665.97 L72.01 663.17 L73.58 628.45 L76.74 598.32 L83.04 612.21 L84.62 611.65 L87.77 615.68 L94.07 621.73 L95.65 621.73 L98.8 623.97 L105.1 628.45 L106.68 638.19 L109.83 643.46 L117.71 646.03 L128.74 641.67 L139.78 643.46 L150.81 638.08 L161.84 642.23 L183.9 654.21 L205.97 657.35 L217.6 658.19 L225.8 659.03 L235.9 659.81" fill="none" stroke="#3fbf80" stroke-width="1.0" stroke-linejoin="round" clip-path="url(#cG)"/>
<polygon points="48.37,663.37 50.97,665.97 48.37,668.57 45.77,665.97" fill="#2f9f68"/>
<polygon points="60.98,664.49 63.58,667.09 60.98,669.69 58.38,667.09" fill="#2f9f68"/>
<polygon points="65.7,663.37 68.3,665.97 65.7,668.57 63.1,665.97" fill="#2f9f68"/>
<polygon points="72.01,660.57 74.61,663.17 72.01,665.77 69.41,663.17" fill="#2f9f68"/>
<polygon points="73.58,625.85 76.18,628.45 73.58,631.05 70.98,628.45" fill="#2f9f68"/>
<polygon points="76.74,595.72 79.34,598.32 76.74,600.92 74.14,598.32" fill="#2f9f68"/>
<polygon points="83.04,609.61 85.64,612.21 83.04,614.81 80.44,612.21" fill="#2f9f68"/>
<polygon points="84.62,609.05 87.22,611.65 84.62,614.25 82.02,611.65" fill="#2f9f68"/>
<polygon points="87.77,613.08 90.37,615.68 87.77,618.28 85.17,615.68" fill="#2f9f68"/>
<polygon points="94.07,619.13 96.67,621.73 94.07,624.33 91.47,621.73" fill="#2f9f68"/>
<polygon points="95.65,619.13 98.25,621.73 95.65,624.33 93.05,621.73" fill="#2f9f68"/>
<polygon points="98.8,621.37 101.4,623.97 98.8,626.57 96.2,623.97" fill="#2f9f68"/>
<polygon points="105.1,625.85 107.7,628.45 105.1,631.05 102.5,628.45" fill="#2f9f68"/>
<polygon points="106.68,635.59 109.28,638.19 106.68,640.79 104.08,638.19" fill="#2f9f68"/>
<polygon points="109.83,640.86 112.43,643.46 109.83,646.06 107.23,643.46" fill="#2f9f68"/>
<polygon points="117.71,643.43 120.31,646.03 117.71,648.63 115.11,646.03" fill="#2f9f68"/>
<polygon points="128.74,639.07 131.34,641.67 128.74,644.27 126.14,641.67" fill="#2f9f68"/>
<polygon points="139.78,640.86 142.38,643.46 139.78,646.06 137.18,643.46" fill="#2f9f68"/>
<polygon points="150.81,635.48 153.41,638.08 150.81,640.68 148.21,638.08" fill="#2f9f68"/>
<polygon points="161.84,639.63 164.44,642.23 161.84,644.83 159.24,642.23" fill="#2f9f68"/>
<polygon points="183.9,651.61 186.5,654.21 183.9,656.81 181.3,654.21" fill="#2f9f68"/>
<polygon points="205.97,654.75 208.57,657.35 205.97,659.95 203.37,657.35" fill="#2f9f68"/>
<polygon points="225.8,656.43 228.4,659.03 225.8,661.63 223.2,659.03" fill="#2f9f68"/>
<polygon points="235.9,657.21 238.5,659.81 235.9,662.41 233.3,659.81" fill="#2f9f68"/>
<path d="M48.37 665.19V662.72M46.77 662.72H49.97M60.98 667.09V664.63M59.38 664.63H62.58M65.7 665.97V663.51M64.1 663.51H67.3M72.01 660.03V657.57M70.41 657.57H73.61M73.58 621.73V619.27M71.98 619.27H75.18M76.74 587.01V582.64M75.14 582.64H78.34M83.04 600V597.54M81.44 597.54H84.64M84.62 595.75V589.59M83.02 589.59H86.22M87.77 611.31V608.85M86.17 608.85H89.37M94.07 618.37V615.91M92.47 615.91H95.67M95.65 607.84V603.36M94.05 603.36H97.25M98.8 621.73V619.27M97.2 619.27H100.4M105.1 625.2V620.72M103.5 620.72H106.7M106.68 630.69V628.23M105.08 628.23H108.28M109.83 638.19V635.73M108.23 635.73H111.43M117.71 646.03V643.57M116.11 643.57H119.31M128.74 650.4V647.94M127.14 647.94H130.34M139.78 645.81V643.35M138.18 643.35H141.38M150.81 653.54V651.07M149.21 651.07H152.41M161.84 646.37V643.91M160.24 643.91H163.44M183.9 660.26V657.79M182.3 657.79H185.5M205.97 662.16V659.7M204.37 659.7H207.57M225.8 658.35V655.89M224.2 655.89H227.4M235.9 659.81V657.35M234.3 657.35H237.5" stroke="#e06a95" stroke-width="0.8" fill="none"/>
<path d="M48.37 665.19 L60.98 667.09 L65.7 665.97 L72.01 660.03 L73.58 621.73 L76.74 587.01 L83.04 600 L84.62 595.75 L87.77 611.31 L94.07 618.37 L95.65 607.84 L98.8 621.73 L105.1 625.2 L106.68 630.69 L109.83 638.19 L117.71 646.03 L128.74 650.4 L139.78 645.81 L150.81 653.54 L161.84 646.37 L183.9 660.26 L205.97 662.16 L217.6 660.26 L225.8 658.35 L235.9 659.81" fill="none" stroke="#e5487e" stroke-width="1.0" stroke-linejoin="round" clip-path="url(#cG)"/>
<circle cx="48.37" cy="665.19" r="2.2" fill="#c8306a"/>
<circle cx="60.98" cy="667.09" r="2.2" fill="#c8306a"/>
<circle cx="65.7" cy="665.97" r="2.2" fill="#c8306a"/>
<circle cx="72.01" cy="660.03" r="2.2" fill="#c8306a"/>
<circle cx="73.58" cy="621.73" r="2.2" fill="#c8306a"/>
<circle cx="76.74" cy="587.01" r="2.2" fill="#c8306a"/>
<circle cx="83.04" cy="600" r="2.2" fill="#c8306a"/>
<circle cx="84.62" cy="595.75" r="2.2" fill="#c8306a"/>
<circle cx="87.77" cy="611.31" r="2.2" fill="#c8306a"/>
<circle cx="94.07" cy="618.37" r="2.2" fill="#c8306a"/>
<circle cx="95.65" cy="607.84" r="2.2" fill="#c8306a"/>
<circle cx="98.8" cy="621.73" r="2.2" fill="#c8306a"/>
<circle cx="105.1" cy="625.2" r="2.2" fill="#c8306a"/>
<circle cx="106.68" cy="630.69" r="2.2" fill="#c8306a"/>
<circle cx="109.83" cy="638.19" r="2.2" fill="#c8306a"/>
<circle cx="117.71" cy="646.03" r="2.2" fill="#c8306a"/>
<circle cx="128.74" cy="650.4" r="2.2" fill="#c8306a"/>
<circle cx="139.78" cy="645.81" r="2.2" fill="#c8306a"/>
<circle cx="150.81" cy="653.54" r="2.2" fill="#c8306a"/>
<circle cx="161.84" cy="646.37" r="2.2" fill="#c8306a"/>
<circle cx="183.9" cy="660.26" r="2.2" fill="#c8306a"/>
<circle cx="205.97" cy="662.16" r="2.2" fill="#c8306a"/>
<circle cx="225.8" cy="658.35" r="2.2" fill="#c8306a"/>
<circle cx="235.9" cy="659.81" r="2.2" fill="#c8306a"/>
<path d="M48.37 666.98V665.86M46.57 665.86H50.17M60.98 666.98V665.86M59.18 665.86H62.78M65.7 665.19V662.72M63.9 662.72H67.5M72.01 665.19V662.72M70.21 662.72H73.81M73.58 660.82V658.35M71.78 658.35H75.38M76.74 662.61V660.15M74.94 660.15H78.54M83.04 662.61V660.15M81.24 660.15H84.84M84.62 663.17V660.71M82.82 660.71H86.42M87.77 662.61V660.15M85.97 660.15H89.57M94.07 662.61V659.81M92.27 659.81H95.87M95.65 660.93V658.47M93.85 658.47H97.45M98.8 660.82V658.35M97 658.35H100.6M105.1 659.81V657.01M103.3 657.01H106.9M106.68 662.05V659.59M104.88 659.59H108.48M109.83 662.61V660.15M108.03 660.15H111.63M117.71 664.85V662.39M115.91 662.39H119.51M128.74 663.84V661.38M126.94 661.38H130.54M139.78 662.72V660.26M137.98 660.26H141.58M150.81 665.07V662.61M149.01 662.61H152.61M161.84 665.63V663.17M160.04 663.17H163.64M183.9 666.31V663.84M182.1 663.84H185.7M205.97 667.54V665.07M204.17 665.07H207.77M225.8 665.07V662.61M224 662.61H227.6M235.9 665.07V662.61M234.1 662.61H237.7" stroke="#111111" stroke-width="1.0" fill="none"/>
<path d="M48.37 666.98 L60.98 666.98 L65.7 665.19 L72.01 665.19 L73.58 660.82 L76.74 662.61 L83.04 662.61 L84.62 663.17 L87.77 662.61 L94.07 662.61 L95.65 660.93 L98.8 660.82 L105.1 659.81 L106.68 662.05 L109.83 662.61 L117.71 664.85 L128.74 663.84 L139.78 662.72 L150.81 665.07 L161.84 665.63 L183.9 666.31 L205.97 667.54 L217.6 666.31 L225.8 665.07 L235.9 665.07" fill="none" stroke="#1a1a1a" stroke-width="1.25" stroke-linejoin="round" clip-path="url(#cG)"/>
<polygon points="48.37,664.83 50.63,668.7 46.11,668.7" fill="#fff" stroke="#000" stroke-width="1.1"/>
<polygon points="60.98,664.83 63.23,668.7 58.72,668.7" fill="#fff" stroke="#000" stroke-width="1.1"/>
<polygon points="65.7,663.04 67.96,666.91 63.45,666.91" fill="#fff" stroke="#000" stroke-width="1.1"/>
<polygon points="72.01,663.04 74.27,666.91 69.75,666.91" fill="#fff" stroke="#000" stroke-width="1.1"/>
<polygon points="73.58,658.67 75.84,662.54 71.33,662.54" fill="#fff" stroke="#000" stroke-width="1.1"/>
<polygon points="76.74,660.46 78.99,664.33 74.48,664.33" fill="#fff" stroke="#000" stroke-width="1.1"/>
<polygon points="83.04,660.46 85.3,664.33 80.78,664.33" fill="#fff" stroke="#000" stroke-width="1.1"/>
<polygon points="84.62,661.02 86.87,664.89 82.36,664.89" fill="#fff" stroke="#000" stroke-width="1.1"/>
<polygon points="87.77,660.46 90.03,664.33 85.51,664.33" fill="#fff" stroke="#000" stroke-width="1.1"/>
<polygon points="94.07,660.46 96.33,664.33 91.81,664.33" fill="#fff" stroke="#000" stroke-width="1.1"/>
<polygon points="95.65,658.78 97.91,662.65 93.39,662.65" fill="#fff" stroke="#000" stroke-width="1.1"/>
<polygon points="98.8,658.67 101.06,662.54 96.54,662.54" fill="#fff" stroke="#000" stroke-width="1.1"/>
<polygon points="105.1,657.66 107.36,661.53 102.85,661.53" fill="#fff" stroke="#000" stroke-width="1.1"/>
<polygon points="106.68,659.9 108.94,663.77 104.42,663.77" fill="#fff" stroke="#000" stroke-width="1.1"/>
<polygon points="109.83,660.46 112.09,664.33 107.57,664.33" fill="#fff" stroke="#000" stroke-width="1.1"/>
<polygon points="117.71,662.7 119.97,666.57 115.45,666.57" fill="#fff" stroke="#000" stroke-width="1.1"/>
<polygon points="128.74,661.69 131,665.56 126.49,665.56" fill="#fff" stroke="#000" stroke-width="1.1"/>
<polygon points="139.78,660.57 142.03,664.44 137.52,664.44" fill="#fff" stroke="#000" stroke-width="1.1"/>
<polygon points="150.81,662.92 153.07,666.79 148.55,666.79" fill="#fff" stroke="#000" stroke-width="1.1"/>
<polygon points="161.84,663.48 164.1,667.35 159.58,667.35" fill="#fff" stroke="#000" stroke-width="1.1"/>
<polygon points="183.9,664.16 186.16,668.03 181.65,668.03" fill="#fff" stroke="#000" stroke-width="1.1"/>
<polygon points="205.97,665.39 208.23,669.26 203.71,669.26" fill="#fff" stroke="#000" stroke-width="1.1"/>
<polygon points="225.8,662.92 228.06,666.79 223.54,666.79" fill="#fff" stroke="#000" stroke-width="1.1"/>
<polygon points="235.9,662.92 238.16,666.79 233.64,666.79" fill="#fff" stroke="#000" stroke-width="1.1"/>
</g>
<g id="pH">
<text x="261.8" y="549" font-size="17.5" text-anchor="start" font-weight="bold">H</text>
<text x="408" y="553" font-size="7.7" font-weight="bold" text-anchor="middle"><tspan>CD8</tspan><tspan font-size="4.77" dy="-3">+</tspan><tspan dy="3">Ki67</tspan><tspan font-size="4.77" dy="-3">+</tspan><tspan dy="3"> Cells</tspan></text>
<line x1="455.4" y1="563.7" x2="464.6" y2="563.7" stroke="#000" stroke-width="1"/>
<polygon points="460,561.87 461.92,565.16 458.08,565.16" fill="#fff" stroke="#000" stroke-width="1.1"/>
<text x="469.2" y="566.3" font-size="7.6" text-anchor="start">Vehicle</text>
<line x1="455.4" y1="570.8" x2="464.6" y2="570.8" stroke="#a26bc0" stroke-width="1"/>
<rect x="458.47" y="569.27" width="3.06" height="3.06" fill="#8a4a9f"/>
<text x="469.2" y="573.4" font-size="7.6" text-anchor="start">0.2 µg/kg</text>
<line x1="455.4" y1="579" x2="464.6" y2="579" stroke="#4a64b0" stroke-width="1"/>
<rect x="458.38" y="577.38" width="3.23" height="3.23" fill="#34498a"/>
<text x="469.2" y="581.6" font-size="7.6" text-anchor="start">2 µg/kg</text>
<line x1="455.4" y1="587" x2="464.6" y2="587" stroke="#3fbf80" stroke-width="1"/>
<polygon points="460,584.79 462.21,587 460,589.21 457.79,587" fill="#2f9f68"/>
<text x="469.2" y="589.6" font-size="7.6" text-anchor="start">5 µg/kg</text>
<line x1="455.4" y1="595.4" x2="464.6" y2="595.4" stroke="#e5487e" stroke-width="1"/>
<circle cx="460" cy="595.4" r="1.87" fill="#c8306a"/>
<text x="469.2" y="598" font-size="7.6" text-anchor="start">10 µg/kg</text>
<line x1="303.75" y1="561.75" x2="303.75" y2="673" stroke="#4a4a4a" stroke-width="1.15"/>
<line x1="302.15" y1="673" x2="303.75" y2="673" stroke="#333" stroke-width="0.8"/>
<line x1="302.15" y1="661.88" x2="303.75" y2="661.88" stroke="#333" stroke-width="0.8"/>
<line x1="302.15" y1="650.75" x2="303.75" y2="650.75" stroke="#333" stroke-width="0.8"/>
<line x1="302.15" y1="639.62" x2="303.75" y2="639.62" stroke="#333" stroke-width="0.8"/>
<line x1="302.15" y1="628.5" x2="303.75" y2="628.5" stroke="#333" stroke-width="0.8"/>
<line x1="302.15" y1="617.38" x2="303.75" y2="617.38" stroke="#333" stroke-width="0.8"/>
<line x1="302.15" y1="606.25" x2="303.75" y2="606.25" stroke="#333" stroke-width="0.8"/>
<line x1="302.15" y1="595.12" x2="303.75" y2="595.12" stroke="#333" stroke-width="0.8"/>
<line x1="302.15" y1="584" x2="303.75" y2="584" stroke="#333" stroke-width="0.8"/>
<line x1="302.15" y1="572.88" x2="303.75" y2="572.88" stroke="#333" stroke-width="0.8"/>
<line x1="302.15" y1="561.75" x2="303.75" y2="561.75" stroke="#333" stroke-width="0.8"/>
<line x1="301.15" y1="673" x2="303.75" y2="673" stroke="#222" stroke-width="0.9"/>
<text x="300.55" y="676.37" font-size="7.7" text-anchor="end">0</text>
<line x1="301.15" y1="650.75" x2="303.75" y2="650.75" stroke="#222" stroke-width="0.9"/>
<text x="300.55" y="654.12" font-size="7.7" text-anchor="end">20</text>
<line x1="301.15" y1="628.5" x2="303.75" y2="628.5" stroke="#222" stroke-width="0.9"/>
<text x="300.55" y="631.87" font-size="7.7" text-anchor="end">40</text>
<line x1="301.15" y1="606.25" x2="303.75" y2="606.25" stroke="#222" stroke-width="0.9"/>
<text x="300.55" y="609.62" font-size="7.7" text-anchor="end">60</text>
<line x1="301.15" y1="584" x2="303.75" y2="584" stroke="#222" stroke-width="0.9"/>
<text x="300.55" y="587.37" font-size="7.7" text-anchor="end">80</text>
<line x1="301.15" y1="561.75" x2="303.75" y2="561.75" stroke="#222" stroke-width="0.9"/>
<text x="300.55" y="565.12" font-size="7.7" text-anchor="end">100</text>
<text transform="translate(270.9,617.4) rotate(-90)" font-size="7.5" text-anchor="middle">% of Gated cells</text>
<text transform="translate(279.6,617.4) rotate(-90)" font-size="7.5" text-anchor="middle">(mean ± SEM)</text>
<path d="M309.28 673v1.5M310.98 673v1.5M312.68 673v1.5M314.39 673v1.5M316.09 673v1.5M317.8 673v1.5M319.5 673v1.5M321.2 673v1.5M322.91 673v1.5M324.61 673v1.5M326.32 673v1.5M328.02 673v1.5M329.72 673v1.5M331.43 673v1.5M333.13 673v1.5M334.84 673v1.5M336.54 673v1.5M338.24 673v1.5M339.95 673v1.5M341.65 673v1.5M343.36 673v1.5M345.06 673v1.5M346.76 673v1.5M348.47 673v1.5M350.17 673v1.5M351.88 673v1.5M353.58 673v1.5M355.28 673v1.5M356.99 673v1.5M358.69 673v1.5M360.4 673v1.5M362.1 673v1.5M363.8 673v1.5M365.51 673v1.5M367.21 673v1.5M368.92 673v1.5M370.62 673v1.5M372.32 673v1.5M374.03 673v1.5M375.73 673v1.5M377.44 673v1.5M379.14 673v1.5M380.84 673v1.5M382.55 673v1.5M384.25 673v1.5M385.96 673v1.5M387.66 673v1.5M389.36 673v1.5M391.07 673v1.5M392.77 673v1.5M394.48 673v1.5M396.18 673v1.5M397.88 673v1.5M399.59 673v1.5M401.29 673v1.5M403 673v1.5M404.7 673v1.5M406.4 673v1.5M408.11 673v1.5M409.81 673v1.5M411.52 673v1.5M413.22 673v1.5M414.92 673v1.5M416.63 673v1.5M418.33 673v1.5M420.04 673v1.5M421.74 673v1.5M423.44 673v1.5M425.15 673v1.5M426.85 673v1.5M428.56 673v1.5M430.26 673v1.5M431.96 673v1.5M433.67 673v1.5M435.37 673v1.5M437.08 673v1.5M438.78 673v1.5M440.48 673v1.5M442.19 673v1.5M443.89 673v1.5M445.6 673v1.5M447.3 673v1.5M449 673v1.5M450.71 673v1.5M452.41 673v1.5M454.12 673v1.5M455.82 673v1.5M457.52 673v1.5M459.23 673v1.5M460.93 673v1.5M462.64 673v1.5M464.34 673v1.5M466.04 673v1.5M467.75 673v1.5M469.45 673v1.5M471.16 673v1.5M472.86 673v1.5M474.56 673v1.5M476.27 673v1.5M477.97 673v1.5M479.68 673v1.5M481.38 673v1.5M483.08 673v1.5M484.79 673v1.5M486.49 673v1.5M494.2 673v1.5M495.9 673v1.5M497.61 673v1.5M499.31 673v1.5M501.02 673v1.5M502.72 673v1.5M504.42 673v1.5M506.13 673v1.5M507.83 673v1.5M509.54 673v1.5M511.24 673v1.5M512.94 673v1.5" stroke="#9a9a9a" stroke-width="0.55"/>
<path d="M306.25 673v2.2M319.5 673v2.2M331.75 673v2.2M343.25 673v2.2M356.25 673v2.2M368 673v2.2M380 673v2.2M391.5 673v2.2M403.5 673v2.2M415.5 673v2.2M427.4 673v2.2M439.2 673v2.2M451 673v2.2M462.8 673v2.2M474.6 673v2.2M486.5 673v2.2" stroke="#222" stroke-width="0.8"/>
<line x1="303.75" y1="673" x2="487.3" y2="673" stroke="#111" stroke-width="1.1"/>
<line x1="493.2" y1="673" x2="513.4" y2="673" stroke="#111" stroke-width="1.1"/>
<path d="M487.3 671.2V674.8M493.2 671.2V674.8" stroke="#111" stroke-width="0.9"/>
<text transform="translate(306.25,683.05) scale(0.92,1)" font-size="7.9" text-anchor="middle">−7</text>
<text transform="translate(319.5,683.05) scale(0.92,1)" font-size="7.9" text-anchor="middle">0</text>
<text transform="translate(331.75,683.05) scale(0.92,1)" font-size="7.9" text-anchor="middle">7</text>
<text transform="translate(343.25,683.05) scale(0.92,1)" font-size="7.9" text-anchor="middle">14</text>
<text transform="translate(356.25,683.05) scale(0.92,1)" font-size="7.9" text-anchor="middle">21</text>
<text transform="translate(368,683.05) scale(0.92,1)" font-size="7.9" text-anchor="middle">28</text>
<text transform="translate(380,683.05) scale(0.92,1)" font-size="7.9" text-anchor="middle">35</text>
<text transform="translate(391.5,683.05) scale(0.92,1)" font-size="7.9" text-anchor="middle">42</text>
<text transform="translate(403.5,683.05) scale(0.92,1)" font-size="7.9" text-anchor="middle">49</text>
<text transform="translate(415.5,683.05) scale(0.92,1)" font-size="7.9" text-anchor="middle">56</text>
<text transform="translate(427.4,683.05) scale(0.92,1)" font-size="7.9" text-anchor="middle">63</text>
<text transform="translate(439.2,683.05) scale(0.92,1)" font-size="7.9" text-anchor="middle">70</text>
<text transform="translate(451,683.05) scale(0.92,1)" font-size="7.9" text-anchor="middle">77</text>
<text transform="translate(462.8,683.05) scale(0.92,1)" font-size="7.9" text-anchor="middle">84</text>
<text transform="translate(474.6,683.05) scale(0.92,1)" font-size="7.9" text-anchor="middle">91</text>
<text transform="translate(486.5,683.05) scale(0.92,1)" font-size="7.9" text-anchor="middle">98</text>
<text transform="translate(498.8,683.05) scale(0.92,1)" font-size="7.9" text-anchor="middle">105</text>
<text transform="translate(513.8,683.05) scale(0.92,1)" font-size="7.9" text-anchor="middle">126</text>
<path d="M320 689.5V684.8" stroke="#222" stroke-width="0.8"/>
<path d="M318.6 686L320 684L321.4 686" stroke="#222" stroke-width="0.8" fill="none"/>
<text x="320" y="698.9" font-size="8.2" text-anchor="middle">V</text>
<path d="M332.25 689.5V684.8" stroke="#222" stroke-width="0.8"/>
<path d="M330.85 686L332.25 684L333.65 686" stroke="#222" stroke-width="0.8" fill="none"/>
<text x="332.25" y="699.6" font-size="8.2" text-anchor="middle">D</text>
<path d="M343.75 689.5V684.8" stroke="#222" stroke-width="0.8"/>
<path d="M342.35 686L343.75 684L345.15 686" stroke="#222" stroke-width="0.8" fill="none"/>
<text x="343.75" y="699.6" font-size="8.2" text-anchor="middle">D</text>
<path d="M356.75 689.5V684.8" stroke="#222" stroke-width="0.8"/>
<path d="M355.35 686L356.75 684L358.15 686" stroke="#222" stroke-width="0.8" fill="none"/>
<text x="356.75" y="699.6" font-size="8.2" text-anchor="middle">D</text>
<path d="M368.5 689.5V684.8" stroke="#222" stroke-width="0.8"/>
<path d="M367.1 686L368.5 684L369.9 686" stroke="#222" stroke-width="0.8" fill="none"/>
<text x="368.5" y="699.6" font-size="8.2" text-anchor="middle">D</text>
<text x="408" y="709.3" font-size="7.5" text-anchor="middle">Study days</text>
<clipPath id="cH"><rect x="303.75" y="531.75" width="183.55" height="151.25"/><rect x="493.2" y="531.75" width="26.2" height="151.25"/></clipPath>
<path d="M307.57 667.44V664.99M305.97 664.99H309.17M321.2 667.99V665.55M319.6 665.55H322.8M326.32 666.33V663.88M324.72 663.88H327.92M333.13 664.1V661.65M331.53 661.65H334.73M334.84 650.75V648.3M333.24 648.3H336.44M338.24 602.02V599.58M336.64 599.58H339.84M345.06 630.73V628.28M343.46 628.28H346.66M346.76 636.29V633.84M345.16 633.84H348.36M350.17 645.19V642.74M348.57 642.74H351.77M356.99 659.65V657.2M355.39 657.2H358.59M358.69 658.54V656.09M357.09 656.09H360.29M362.1 659.65V657.2M360.5 657.2H363.7M368.92 657.42V654.98M367.32 654.98H370.52M370.62 659.65V657.2M369.02 657.2H372.22M374.03 659.65V657.2M372.43 657.2H375.63M382.55 660.76V658.32M380.95 658.32H384.15M394.48 662.21V659.76M392.88 659.76H396.08M406.4 660.99V658.54M404.8 658.54H408M418.33 662.21V659.76M416.73 659.76H419.93M430.26 662.43V659.98M428.66 659.98H431.86M454.12 664.43V661.99M452.52 661.99H455.72M477.97 664.99V662.54M476.37 662.54H479.57M499.3 662.21V659.76M497.7 659.76H500.9M510.2 662.21V659.76M508.6 659.76H511.8" stroke="#b07cc8" stroke-width="0.8" fill="none"/>
<path d="M307.57 667.44 L321.2 667.99 L326.32 666.33 L333.13 664.1 L334.84 650.75 L338.24 602.02 L345.06 630.73 L346.76 636.29 L350.17 645.19 L356.99 659.65 L358.69 658.54 L362.1 659.65 L368.92 657.42 L370.62 659.65 L374.03 659.65 L382.55 660.76 L394.48 662.21 L406.4 660.99 L418.33 662.21 L430.26 662.43 L454.12 664.43 L477.97 664.99 L490.25 663.6 L499.3 662.21 L510.2 662.21" fill="none" stroke="#a26bc0" stroke-width="1.0" stroke-linejoin="round" clip-path="url(#cH)"/>
<rect x="305.77" y="665.64" width="3.6" height="3.6" fill="#8a4a9f"/>
<rect x="319.4" y="666.19" width="3.6" height="3.6" fill="#8a4a9f"/>
<rect x="324.52" y="664.53" width="3.6" height="3.6" fill="#8a4a9f"/>
<rect x="331.33" y="662.3" width="3.6" height="3.6" fill="#8a4a9f"/>
<rect x="333.04" y="648.95" width="3.6" height="3.6" fill="#8a4a9f"/>
<rect x="336.44" y="600.22" width="3.6" height="3.6" fill="#8a4a9f"/>
<rect x="343.26" y="628.93" width="3.6" height="3.6" fill="#8a4a9f"/>
<rect x="344.96" y="634.49" width="3.6" height="3.6" fill="#8a4a9f"/>
<rect x="348.37" y="643.39" width="3.6" height="3.6" fill="#8a4a9f"/>
<rect x="355.19" y="657.85" width="3.6" height="3.6" fill="#8a4a9f"/>
<rect x="356.89" y="656.74" width="3.6" height="3.6" fill="#8a4a9f"/>
<rect x="360.3" y="657.85" width="3.6" height="3.6" fill="#8a4a9f"/>
<rect x="367.12" y="655.62" width="3.6" height="3.6" fill="#8a4a9f"/>
<rect x="368.82" y="657.85" width="3.6" height="3.6" fill="#8a4a9f"/>
<rect x="372.23" y="657.85" width="3.6" height="3.6" fill="#8a4a9f"/>
<rect x="380.75" y="658.96" width="3.6" height="3.6" fill="#8a4a9f"/>
<rect x="392.68" y="660.41" width="3.6" height="3.6" fill="#8a4a9f"/>
<rect x="404.6" y="659.19" width="3.6" height="3.6" fill="#8a4a9f"/>
<rect x="416.53" y="660.41" width="3.6" height="3.6" fill="#8a4a9f"/>
<rect x="428.46" y="660.63" width="3.6" height="3.6" fill="#8a4a9f"/>
<rect x="452.32" y="662.63" width="3.6" height="3.6" fill="#8a4a9f"/>
<rect x="476.17" y="663.19" width="3.6" height="3.6" fill="#8a4a9f"/>
<rect x="497.5" y="660.41" width="3.6" height="3.6" fill="#8a4a9f"/>
<rect x="508.4" y="660.41" width="3.6" height="3.6" fill="#8a4a9f"/>
<path d="M307.57 667.44V669.88M305.97 669.88H309.17M321.2 667.99V670.44M319.6 670.44H322.8M326.32 666.33V668.77M324.72 668.77H327.92M333.13 664.1V666.55M331.53 666.55H334.73M334.84 652.31V654.75M333.24 654.75H336.44M338.24 604.02V606.47M336.64 606.47H339.84M345.06 627.05V629.5M343.46 629.5H346.66M346.76 635.73V638.18M345.16 638.18H348.36M350.17 642.41V644.85M348.57 644.85H351.77M356.99 648.52V650.97M355.39 650.97H358.59M358.69 645.19V647.63M357.09 647.63H360.29M362.1 646.3V648.75M360.5 648.75H363.7M368.92 641.85V644.3M367.32 644.3H370.52M370.62 644.08V646.52M369.02 646.52H372.22M374.03 645.19V647.63M372.43 647.63H375.63M382.55 646.3V648.75M380.95 648.75H384.15M394.48 645.52V647.97M392.88 647.97H396.08M406.4 644.3V646.75M404.8 646.75H408M418.33 648.86V651.31M416.73 651.31H419.93M430.26 650.19V652.64M428.66 652.64H431.86M454.12 660.99V663.43M452.52 663.43H455.72M477.97 660.99V663.43M476.37 663.43H479.57M499.3 658.98V661.43M497.7 661.43H500.9M510.2 658.98V661.43M508.6 661.43H511.8" stroke="#6479b8" stroke-width="0.8" fill="none"/>
<path d="M307.57 667.44 L321.2 667.99 L326.32 666.33 L333.13 664.1 L334.84 652.31 L338.24 604.02 L345.06 627.05 L346.76 635.73 L350.17 642.41 L356.99 648.52 L358.69 645.19 L362.1 646.3 L368.92 641.85 L370.62 644.08 L374.03 645.19 L382.55 646.3 L394.48 645.52 L406.4 644.3 L418.33 648.86 L430.26 650.19 L454.12 660.99 L477.97 660.99 L490.25 659.98 L499.3 658.98 L510.2 658.98" fill="none" stroke="#4a64b0" stroke-width="1.0" stroke-linejoin="round" clip-path="url(#cH)"/>
<rect x="305.67" y="665.54" width="3.8" height="3.8" fill="#34498a"/>
<rect x="319.3" y="666.09" width="3.8" height="3.8" fill="#34498a"/>
<rect x="324.42" y="664.43" width="3.8" height="3.8" fill="#34498a"/>
<rect x="331.23" y="662.2" width="3.8" height="3.8" fill="#34498a"/>
<rect x="332.94" y="650.41" width="3.8" height="3.8" fill="#34498a"/>
<rect x="336.34" y="602.12" width="3.8" height="3.8" fill="#34498a"/>
<rect x="343.16" y="625.15" width="3.8" height="3.8" fill="#34498a"/>
<rect x="344.86" y="633.83" width="3.8" height="3.8" fill="#34498a"/>
<rect x="348.27" y="640.51" width="3.8" height="3.8" fill="#34498a"/>
<rect x="355.09" y="646.62" width="3.8" height="3.8" fill="#34498a"/>
<rect x="356.79" y="643.29" width="3.8" height="3.8" fill="#34498a"/>
<rect x="360.2" y="644.4" width="3.8" height="3.8" fill="#34498a"/>
<rect x="367.02" y="639.95" width="3.8" height="3.8" fill="#34498a"/>
<rect x="368.72" y="642.18" width="3.8" height="3.8" fill="#34498a"/>
<rect x="372.13" y="643.29" width="3.8" height="3.8" fill="#34498a"/>
<rect x="380.65" y="644.4" width="3.8" height="3.8" fill="#34498a"/>
<rect x="392.58" y="643.62" width="3.8" height="3.8" fill="#34498a"/>
<rect x="404.5" y="642.4" width="3.8" height="3.8" fill="#34498a"/>
<rect x="416.43" y="646.96" width="3.8" height="3.8" fill="#34498a"/>
<rect x="428.36" y="648.29" width="3.8" height="3.8" fill="#34498a"/>
<rect x="452.22" y="659.09" width="3.8" height="3.8" fill="#34498a"/>
<rect x="476.07" y="659.09" width="3.8" height="3.8" fill="#34498a"/>
<rect x="497.4" y="657.08" width="3.8" height="3.8" fill="#34498a"/>
<rect x="508.3" y="657.08" width="3.8" height="3.8" fill="#34498a"/>
<path d="M307.57 666.88V664.43M305.97 664.43H309.17M321.2 667.44V664.99M319.6 664.99H322.8M326.32 666.33V663.88M324.72 663.88H327.92M333.13 662.99V660.54M331.53 660.54H334.73M334.84 639.51V637.07M333.24 637.07H336.44M338.24 577.33V574.88M336.64 574.88H339.84M345.06 610.7V608.25M343.46 608.25H346.66M346.76 615.48V613.04M345.16 613.04H348.36M350.17 634.73V632.28M348.57 632.28H351.77M356.99 640.51V638.07M355.39 638.07H358.59M358.69 631.84V627.39M357.09 627.39H360.29M362.1 639.62V637.18M360.5 637.18H363.7M368.92 637.4V634.95M367.32 634.95H370.52M370.62 639.62V637.18M369.02 637.18H372.22M374.03 642.41V639.96M372.43 639.96H375.63M382.55 647.41V644.97M380.95 644.97H384.15M394.48 646.19V643.74M392.88 643.74H396.08M406.4 633.06V618.82M404.8 618.82H408M418.33 631.84V618.82M416.73 618.82H419.93M430.26 634.4V625.27M428.66 625.27H431.86M454.12 652.53V650.08M452.52 650.08H455.72M477.97 658.43V655.98M476.37 655.98H479.57M499.3 655.87V653.42M497.7 653.42H500.9M510.2 656.65V654.2M508.6 654.2H511.8" stroke="#6cc095" stroke-width="0.8" fill="none"/>
<path d="M307.57 666.88 L321.2 667.44 L326.32 666.33 L333.13 662.99 L334.84 639.51 L338.24 577.33 L345.06 610.7 L346.76 615.48 L350.17 634.73 L356.99 640.51 L358.69 631.84 L362.1 639.62 L368.92 637.4 L370.62 639.62 L374.03 642.41 L382.55 647.41 L394.48 646.19 L406.4 633.06 L418.33 631.84 L430.26 634.4 L454.12 652.53 L477.97 658.43 L490.25 657.15 L499.3 655.87 L510.2 656.65" fill="none" stroke="#3fbf80" stroke-width="1.0" stroke-linejoin="round" clip-path="url(#cH)"/>
<polygon points="307.57,664.28 310.17,666.88 307.57,669.48 304.97,666.88" fill="#2f9f68"/>
<polygon points="321.2,664.84 323.8,667.44 321.2,670.04 318.6,667.44" fill="#2f9f68"/>
<polygon points="326.32,663.73 328.92,666.33 326.32,668.93 323.72,666.33" fill="#2f9f68"/>
<polygon points="333.13,660.39 335.73,662.99 333.13,665.59 330.53,662.99" fill="#2f9f68"/>
<polygon points="334.84,636.91 337.44,639.51 334.84,642.11 332.24,639.51" fill="#2f9f68"/>
<polygon points="338.24,574.73 340.84,577.33 338.24,579.93 335.64,577.33" fill="#2f9f68"/>
<polygon points="345.06,608.1 347.66,610.7 345.06,613.3 342.46,610.7" fill="#2f9f68"/>
<polygon points="346.76,612.88 349.36,615.48 346.76,618.08 344.16,615.48" fill="#2f9f68"/>
<polygon points="350.17,632.13 352.77,634.73 350.17,637.33 347.57,634.73" fill="#2f9f68"/>
<polygon points="356.99,637.91 359.59,640.51 356.99,643.12 354.39,640.51" fill="#2f9f68"/>
<polygon points="358.69,629.24 361.29,631.84 358.69,634.44 356.09,631.84" fill="#2f9f68"/>
<polygon points="362.1,637.02 364.7,639.62 362.1,642.23 359.5,639.62" fill="#2f9f68"/>
<polygon points="368.92,634.8 371.52,637.4 368.92,640 366.32,637.4" fill="#2f9f68"/>
<polygon points="370.62,637.02 373.22,639.62 370.62,642.23 368.02,639.62" fill="#2f9f68"/>
<polygon points="374.03,639.81 376.63,642.41 374.03,645.01 371.43,642.41" fill="#2f9f68"/>
<polygon points="382.55,644.81 385.15,647.41 382.55,650.01 379.95,647.41" fill="#2f9f68"/>
<polygon points="394.48,643.59 397.08,646.19 394.48,648.79 391.88,646.19" fill="#2f9f68"/>
<polygon points="406.4,630.46 409,633.06 406.4,635.66 403.8,633.06" fill="#2f9f68"/>
<polygon points="418.33,629.24 420.93,631.84 418.33,634.44 415.73,631.84" fill="#2f9f68"/>
<polygon points="430.26,631.8 432.86,634.4 430.26,637 427.66,634.4" fill="#2f9f68"/>
<polygon points="454.12,649.93 456.72,652.53 454.12,655.13 451.52,652.53" fill="#2f9f68"/>
<polygon points="477.97,655.83 480.57,658.43 477.97,661.03 475.37,658.43" fill="#2f9f68"/>
<polygon points="499.3,653.27 501.9,655.87 499.3,658.47 496.7,655.87" fill="#2f9f68"/>
<polygon points="510.2,654.05 512.8,656.65 510.2,659.25 507.6,656.65" fill="#2f9f68"/>
<path d="M307.57 664.43V661.99M305.97 661.99H309.17M321.2 664.43V661.99M319.6 661.99H322.8M326.32 664.66V662.21M324.72 662.21H327.92M333.13 659.65V657.2M331.53 657.2H334.73M334.84 646.3V643.85M333.24 643.85H336.44M338.24 573.99V570.65M336.64 570.65H339.84M345.06 602.02V596.46M343.46 596.46H346.66M346.76 604.02V601.58M345.16 601.58H348.36M350.17 620.27V617.82M348.57 617.82H351.77M356.99 647.19V644.74M355.39 644.74H358.59M358.69 640.51V638.07M357.09 638.07H360.29M362.1 641.52V639.07M360.5 639.07H363.7M368.92 644.3V641.85M367.32 641.85H370.52M370.62 642.96V640.51M369.02 640.51H372.22M374.03 642.41V639.96M372.43 639.96H375.63M382.55 643.52V641.07M380.95 641.07H384.15M394.48 642.18V639.4M392.88 639.4H396.08M406.4 639.62V637.18M404.8 637.18H408M418.33 639.62V637.18M416.73 637.18H419.93M430.26 636.51V634.06M428.66 634.06H431.86M454.12 647.41V633.84M452.52 633.84H455.72M477.97 657.09V654.64M476.37 654.64H479.57M499.3 655.87V652.53M497.7 652.53H500.9M510.2 655.87V653.42M508.6 653.42H511.8" stroke="#e06a95" stroke-width="0.8" fill="none"/>
<path d="M307.57 664.43 L321.2 664.43 L326.32 664.66 L333.13 659.65 L334.84 646.3 L338.24 573.99 L345.06 602.02 L346.76 604.02 L350.17 620.27 L356.99 647.19 L358.69 640.51 L362.1 641.52 L368.92 644.3 L370.62 642.96 L374.03 642.41 L382.55 643.52 L394.48 642.18 L406.4 639.62 L418.33 639.62 L430.26 636.51 L454.12 647.41 L477.97 657.09 L490.25 656.48 L499.3 655.87 L510.2 655.87" fill="none" stroke="#e5487e" stroke-width="1.0" stroke-linejoin="round" clip-path="url(#cH)"/>
<circle cx="307.57" cy="664.43" r="2.2" fill="#c8306a"/>
<circle cx="321.2" cy="664.43" r="2.2" fill="#c8306a"/>
<circle cx="326.32" cy="664.66" r="2.2" fill="#c8306a"/>
<circle cx="333.13" cy="659.65" r="2.2" fill="#c8306a"/>
<circle cx="334.84" cy="646.3" r="2.2" fill="#c8306a"/>
<circle cx="338.24" cy="573.99" r="2.2" fill="#c8306a"/>
<circle cx="345.06" cy="602.02" r="2.2" fill="#c8306a"/>
<circle cx="346.76" cy="604.02" r="2.2" fill="#c8306a"/>
<circle cx="350.17" cy="620.27" r="2.2" fill="#c8306a"/>
<circle cx="356.99" cy="647.19" r="2.2" fill="#c8306a"/>
<circle cx="358.69" cy="640.51" r="2.2" fill="#c8306a"/>
<circle cx="362.1" cy="641.52" r="2.2" fill="#c8306a"/>
<circle cx="368.92" cy="644.3" r="2.2" fill="#c8306a"/>
<circle cx="370.62" cy="642.96" r="2.2" fill="#c8306a"/>
<circle cx="374.03" cy="642.41" r="2.2" fill="#c8306a"/>
<circle cx="382.55" cy="643.52" r="2.2" fill="#c8306a"/>
<circle cx="394.48" cy="642.18" r="2.2" fill="#c8306a"/>
<circle cx="406.4" cy="639.62" r="2.2" fill="#c8306a"/>
<circle cx="418.33" cy="639.62" r="2.2" fill="#c8306a"/>
<circle cx="430.26" cy="636.51" r="2.2" fill="#c8306a"/>
<circle cx="454.12" cy="647.41" r="2.2" fill="#c8306a"/>
<circle cx="477.97" cy="657.09" r="2.2" fill="#c8306a"/>
<circle cx="499.3" cy="655.87" r="2.2" fill="#c8306a"/>
<circle cx="510.2" cy="655.87" r="2.2" fill="#c8306a"/>
<path d="M307.57 668.33V667.22M305.77 667.22H309.37M321.2 667.99V666.88M319.4 666.88H323M326.32 664.99V662.54M324.52 662.54H328.12M333.13 665.88V663.43M331.33 663.43H334.93M334.84 663.54V661.1M333.04 661.1H336.64M338.24 663.54V661.1M336.44 661.1H340.04M345.06 663.88V661.43M343.26 661.43H346.86M346.76 664.1V661.65M344.96 661.65H348.56M350.17 663.54V661.1M348.37 661.1H351.97M356.99 662.32V659.87M355.19 659.87H358.79M358.69 662.99V660.54M356.89 660.54H360.49M362.1 661.21V658.76M360.3 658.76H363.9M368.92 660.76V658.32M367.12 658.32H370.72M370.62 661.32V658.87M368.82 658.87H372.42M374.03 661.32V658.87M372.23 658.87H375.83M382.55 661.32V658.87M380.75 658.87H384.35M394.48 659.76V657.31M392.68 657.31H396.28M406.4 657.09V654.64M404.6 654.64H408.2M418.33 657.09V654.64M416.53 654.64H420.13M430.26 660.99V658.54M428.46 658.54H432.06M454.12 662.88V660.43M452.32 660.43H455.92M477.97 661.65V659.21M476.17 659.21H479.77M499.3 660.1V657.65M497.5 657.65H501.1M510.2 660.99V658.54M508.4 658.54H512" stroke="#111111" stroke-width="1.0" fill="none"/>
<path d="M307.57 668.33 L321.2 667.99 L326.32 664.99 L333.13 665.88 L334.84 663.54 L338.24 663.54 L345.06 663.88 L346.76 664.1 L350.17 663.54 L356.99 662.32 L358.69 662.99 L362.1 661.21 L368.92 660.76 L370.62 661.32 L374.03 661.32 L382.55 661.32 L394.48 659.76 L406.4 657.09 L418.33 657.09 L430.26 660.99 L454.12 662.88 L477.97 661.65 L490.25 660.87 L499.3 660.1 L510.2 660.99" fill="none" stroke="#1a1a1a" stroke-width="1.25" stroke-linejoin="round" clip-path="url(#cH)"/>
<polygon points="307.57,666.18 309.83,670.05 305.31,670.05" fill="#fff" stroke="#000" stroke-width="1.1"/>
<polygon points="321.2,665.84 323.46,669.71 318.95,669.71" fill="#fff" stroke="#000" stroke-width="1.1"/>
<polygon points="326.32,662.84 328.57,666.71 324.06,666.71" fill="#fff" stroke="#000" stroke-width="1.1"/>
<polygon points="333.13,663.73 335.39,667.6 330.87,667.6" fill="#fff" stroke="#000" stroke-width="1.1"/>
<polygon points="334.84,661.39 337.09,665.26 332.58,665.26" fill="#fff" stroke="#000" stroke-width="1.1"/>
<polygon points="338.24,661.39 340.5,665.26 335.99,665.26" fill="#fff" stroke="#000" stroke-width="1.1"/>
<polygon points="345.06,661.73 347.32,665.6 342.8,665.6" fill="#fff" stroke="#000" stroke-width="1.1"/>
<polygon points="346.76,661.95 349.02,665.82 344.51,665.82" fill="#fff" stroke="#000" stroke-width="1.1"/>
<polygon points="350.17,661.39 352.43,665.26 347.91,665.26" fill="#fff" stroke="#000" stroke-width="1.1"/>
<polygon points="356.99,660.17 359.25,664.04 354.73,664.04" fill="#fff" stroke="#000" stroke-width="1.1"/>
<polygon points="358.69,660.84 360.95,664.71 356.43,664.71" fill="#fff" stroke="#000" stroke-width="1.1"/>
<polygon points="362.1,659.06 364.36,662.93 359.84,662.93" fill="#fff" stroke="#000" stroke-width="1.1"/>
<polygon points="368.92,658.61 371.17,662.48 366.66,662.48" fill="#fff" stroke="#000" stroke-width="1.1"/>
<polygon points="370.62,659.17 372.88,663.04 368.36,663.04" fill="#fff" stroke="#000" stroke-width="1.1"/>
<polygon points="374.03,659.17 376.29,663.04 371.77,663.04" fill="#fff" stroke="#000" stroke-width="1.1"/>
<polygon points="382.55,659.17 384.81,663.04 380.29,663.04" fill="#fff" stroke="#000" stroke-width="1.1"/>
<polygon points="394.48,657.61 396.73,661.48 392.22,661.48" fill="#fff" stroke="#000" stroke-width="1.1"/>
<polygon points="406.4,654.94 408.66,658.81 404.15,658.81" fill="#fff" stroke="#000" stroke-width="1.1"/>
<polygon points="418.33,654.94 420.59,658.81 416.07,658.81" fill="#fff" stroke="#000" stroke-width="1.1"/>
<polygon points="430.26,658.84 432.52,662.71 428,662.71" fill="#fff" stroke="#000" stroke-width="1.1"/>
<polygon points="454.12,660.73 456.37,664.6 451.86,664.6" fill="#fff" stroke="#000" stroke-width="1.1"/>
<polygon points="477.97,659.5 480.23,663.37 475.71,663.37" fill="#fff" stroke="#000" stroke-width="1.1"/>
<polygon points="499.3,657.95 501.56,661.82 497.04,661.82" fill="#fff" stroke="#000" stroke-width="1.1"/>
<polygon points="510.2,658.84 512.46,662.71 507.94,662.71" fill="#fff" stroke="#000" stroke-width="1.1"/>
</g>
<g id="pI">
<text x="9.5" y="733" font-size="17.5" text-anchor="start" font-weight="bold">I</text>
<text x="101.2" y="730.8" font-size="7.7" font-weight="bold" text-anchor="middle">IFN-γ</text>
<line x1="120.6" y1="749" x2="129.8" y2="749" stroke="#000" stroke-width="1"/>
<polygon points="125.2,747.17 127.12,750.46 123.28,750.46" fill="#fff" stroke="#000" stroke-width="1.1"/>
<text x="134.8" y="751.6" font-size="7.6" text-anchor="start">Vehicle</text>
<line x1="120.6" y1="757.2" x2="129.8" y2="757.2" stroke="#a26bc0" stroke-width="1"/>
<rect x="123.67" y="755.67" width="3.06" height="3.06" fill="#8a4a9f"/>
<text x="134.8" y="759.8" font-size="7.6" text-anchor="start">0.2 µg/kg</text>
<line x1="120.6" y1="765.6" x2="129.8" y2="765.6" stroke="#4a64b0" stroke-width="1"/>
<rect x="123.59" y="763.99" width="3.23" height="3.23" fill="#34498a"/>
<text x="134.8" y="768.2" font-size="7.6" text-anchor="start">2 µg/kg</text>
<line x1="120.6" y1="774.1" x2="129.8" y2="774.1" stroke="#3fbf80" stroke-width="1"/>
<polygon points="125.2,771.89 127.41,774.1 125.2,776.31 122.99,774.1" fill="#2f9f68"/>
<text x="134.8" y="776.7" font-size="7.6" text-anchor="start">5 µg/kg</text>
<line x1="120.6" y1="782.6" x2="129.8" y2="782.6" stroke="#e5487e" stroke-width="1"/>
<circle cx="125.2" cy="782.6" r="1.87" fill="#c8306a"/>
<text x="134.8" y="785.2" font-size="7.6" text-anchor="start">10 µg/kg</text>
<line x1="41.5" y1="739.6" x2="41.5" y2="862.3" stroke="#4a4a4a" stroke-width="1.15"/>
<line x1="39.9" y1="856.3" x2="41.5" y2="856.3" stroke="#333" stroke-width="0.8"/>
<line x1="39.9" y1="841.73" x2="41.5" y2="841.73" stroke="#333" stroke-width="0.8"/>
<line x1="39.9" y1="827.16" x2="41.5" y2="827.16" stroke="#333" stroke-width="0.8"/>
<line x1="39.9" y1="812.59" x2="41.5" y2="812.59" stroke="#333" stroke-width="0.8"/>
<line x1="39.9" y1="798.02" x2="41.5" y2="798.02" stroke="#333" stroke-width="0.8"/>
<line x1="39.9" y1="783.45" x2="41.5" y2="783.45" stroke="#333" stroke-width="0.8"/>
<line x1="39.9" y1="768.88" x2="41.5" y2="768.88" stroke="#333" stroke-width="0.8"/>
<line x1="39.9" y1="754.31" x2="41.5" y2="754.31" stroke="#333" stroke-width="0.8"/>
<line x1="39.9" y1="739.74" x2="41.5" y2="739.74" stroke="#333" stroke-width="0.8"/>
<line x1="38.9" y1="856.3" x2="41.5" y2="856.3" stroke="#222" stroke-width="0.9"/>
<text x="38.3" y="859.67" font-size="7.7" text-anchor="end">0</text>
<line x1="38.9" y1="827.16" x2="41.5" y2="827.16" stroke="#222" stroke-width="0.9"/>
<text x="38.3" y="830.53" font-size="7.7" text-anchor="end">50</text>
<line x1="38.9" y1="798.02" x2="41.5" y2="798.02" stroke="#222" stroke-width="0.9"/>
<text x="38.3" y="801.39" font-size="7.7" text-anchor="end">100</text>
<line x1="38.9" y1="768.88" x2="41.5" y2="768.88" stroke="#222" stroke-width="0.9"/>
<text x="38.3" y="772.25" font-size="7.7" text-anchor="end">150</text>
<line x1="38.9" y1="739.74" x2="41.5" y2="739.74" stroke="#222" stroke-width="0.9"/>
<text x="38.3" y="743.11" font-size="7.7" text-anchor="end">200</text>
<text transform="translate(13.6,800.2) rotate(-90)" font-size="7.5" text-anchor="middle">pg/mL</text>
<text transform="translate(21.9,800.2) rotate(-90)" font-size="7.5" text-anchor="middle">(Mean ± SEM)</text>
<line x1="41.5" y1="862.3" x2="164.6" y2="862.3" stroke="#111" stroke-width="1.2"/>
<path d="M42.3 862.3v1.6M45.19 862.3v1.6M48.08 862.3v1.6M50.97 862.3v1.6M53.86 862.3v1.6M56.75 862.3v1.6M59.64 862.3v1.6M62.53 862.3v1.6M65.42 862.3v1.6M68.31 862.3v1.6M71.2 862.3v1.6M74.09 862.3v1.6M76.98 862.3v1.6M79.87 862.3v1.6M82.76 862.3v1.6M85.65 862.3v1.6M88.54 862.3v1.6M91.43 862.3v1.6M94.32 862.3v1.6M97.21 862.3v1.6M100.1 862.3v1.6M102.99 862.3v1.6M105.88 862.3v1.6M108.77 862.3v1.6M111.66 862.3v1.6M114.55 862.3v1.6M117.44 862.3v1.6M120.33 862.3v1.6M123.22 862.3v1.6M126.11 862.3v1.6M129 862.3v1.6M131.89 862.3v1.6M134.78 862.3v1.6M137.67 862.3v1.6M140.56 862.3v1.6M143.45 862.3v1.6M146.34 862.3v1.6M149.23 862.3v1.6M152.12 862.3v1.6M155.01 862.3v1.6M157.9 862.3v1.6M160.79 862.3v1.6M163.68 862.3v1.6" stroke="#444" stroke-width="0.7"/>
<path d="M42.3 862.3v2.4M62.53 862.3v2.4M82.76 862.3v2.4M102.99 862.3v2.4M123.22 862.3v2.4M143.45 862.3v2.4M163.68 862.3v2.4" stroke="#222" stroke-width="0.8"/>
<text transform="translate(42.3,873.05) scale(0.92,1)" font-size="7.9" text-anchor="middle">0</text>
<text transform="translate(62.53,873.05) scale(0.92,1)" font-size="7.9" text-anchor="middle">7</text>
<text transform="translate(82.76,873.05) scale(0.92,1)" font-size="7.9" text-anchor="middle">14</text>
<text transform="translate(102.99,873.05) scale(0.92,1)" font-size="7.9" text-anchor="middle">21</text>
<text transform="translate(123.22,873.05) scale(0.92,1)" font-size="7.9" text-anchor="middle">28</text>
<text transform="translate(143.45,873.05) scale(0.92,1)" font-size="7.9" text-anchor="middle">35</text>
<text transform="translate(163.68,873.05) scale(0.92,1)" font-size="7.9" text-anchor="middle">42</text>
<path d="M43.7 882.5V877.6" stroke="#222" stroke-width="0.8"/>
<path d="M42.3 878.8L43.7 876.8L45.1 878.8" stroke="#222" stroke-width="0.8" fill="none"/>
<text x="43.7" y="891.9" font-size="8.2" text-anchor="middle">V</text>
<path d="M63.93 882.5V877.6" stroke="#222" stroke-width="0.8"/>
<path d="M62.53 878.8L63.93 876.8L65.33 878.8" stroke="#222" stroke-width="0.8" fill="none"/>
<text x="63.93" y="892.4" font-size="8.2" text-anchor="middle">D</text>
<path d="M84.16 882.5V877.6" stroke="#222" stroke-width="0.8"/>
<path d="M82.76 878.8L84.16 876.8L85.56 878.8" stroke="#222" stroke-width="0.8" fill="none"/>
<text x="84.16" y="892.4" font-size="8.2" text-anchor="middle">D</text>
<path d="M104.39 882.5V877.6" stroke="#222" stroke-width="0.8"/>
<path d="M102.99 878.8L104.39 876.8L105.79 878.8" stroke="#222" stroke-width="0.8" fill="none"/>
<text x="104.39" y="892.4" font-size="8.2" text-anchor="middle">D</text>
<path d="M124.62 882.5V877.6" stroke="#222" stroke-width="0.8"/>
<path d="M123.22 878.8L124.62 876.8L126.02 878.8" stroke="#222" stroke-width="0.8" fill="none"/>
<text x="124.62" y="892.4" font-size="8.2" text-anchor="middle">D</text>
<text x="102.5" y="901.3" font-size="7.5" text-anchor="middle">Study days</text>
<path d="M45.19 855.72 L48.08 856.3 L65.42 856.3 L66 855.72 L68.31 856.3 L85.65 853.39 L88.54 855.13 L105.88 855.13 L126.11 854.55 L129 855.13 L149.23 852.8" fill="none" stroke="#a26bc0" stroke-width="1.0" stroke-linejoin="round"/>
<rect x="43.39" y="853.92" width="3.6" height="3.6" fill="#8a4a9f"/>
<rect x="46.28" y="854.5" width="3.6" height="3.6" fill="#8a4a9f"/>
<rect x="63.62" y="854.5" width="3.6" height="3.6" fill="#8a4a9f"/>
<rect x="64.2" y="853.92" width="3.6" height="3.6" fill="#8a4a9f"/>
<rect x="66.51" y="854.5" width="3.6" height="3.6" fill="#8a4a9f"/>
<rect x="83.85" y="851.59" width="3.6" height="3.6" fill="#8a4a9f"/>
<rect x="86.74" y="853.33" width="3.6" height="3.6" fill="#8a4a9f"/>
<rect x="104.08" y="853.33" width="3.6" height="3.6" fill="#8a4a9f"/>
<rect x="124.31" y="852.75" width="3.6" height="3.6" fill="#8a4a9f"/>
<rect x="127.2" y="853.33" width="3.6" height="3.6" fill="#8a4a9f"/>
<rect x="147.43" y="851" width="3.6" height="3.6" fill="#8a4a9f"/>
<path d="M45.19 856.3 L48.08 856.3 L65.42 856.3 L66 848.72 L68.31 856.3 L85.65 855.13 L88.54 855.72 L105.88 855.13 L126.11 855.13 L129 855.13 L149.23 853.39" fill="none" stroke="#4a64b0" stroke-width="1.0" stroke-linejoin="round"/>
<rect x="43.29" y="854.4" width="3.8" height="3.8" fill="#34498a"/>
<rect x="46.18" y="854.4" width="3.8" height="3.8" fill="#34498a"/>
<rect x="63.52" y="854.4" width="3.8" height="3.8" fill="#34498a"/>
<rect x="64.1" y="846.82" width="3.8" height="3.8" fill="#34498a"/>
<rect x="66.41" y="854.4" width="3.8" height="3.8" fill="#34498a"/>
<rect x="83.75" y="853.23" width="3.8" height="3.8" fill="#34498a"/>
<rect x="86.64" y="853.82" width="3.8" height="3.8" fill="#34498a"/>
<rect x="103.98" y="853.23" width="3.8" height="3.8" fill="#34498a"/>
<rect x="124.21" y="853.23" width="3.8" height="3.8" fill="#34498a"/>
<rect x="127.1" y="853.23" width="3.8" height="3.8" fill="#34498a"/>
<rect x="147.33" y="851.49" width="3.8" height="3.8" fill="#34498a"/>
<path d="M66 830.07V827.74M64.4 827.74H67.6" stroke="#6cc095" stroke-width="0.8" fill="none"/>
<path d="M45.19 856.3 L48.08 856.3 L65.42 856.3 L66 830.07 L68.31 856.3 L85.65 855.13 L88.54 855.72 L105.88 855.13 L126.11 851.05 L129 854.55 L149.23 852.22" fill="none" stroke="#3fbf80" stroke-width="1.0" stroke-linejoin="round"/>
<polygon points="45.19,853.7 47.79,856.3 45.19,858.9 42.59,856.3" fill="#2f9f68"/>
<polygon points="48.08,853.7 50.68,856.3 48.08,858.9 45.48,856.3" fill="#2f9f68"/>
<polygon points="65.42,853.7 68.02,856.3 65.42,858.9 62.82,856.3" fill="#2f9f68"/>
<polygon points="66,827.47 68.6,830.07 66,832.67 63.4,830.07" fill="#2f9f68"/>
<polygon points="68.31,853.7 70.91,856.3 68.31,858.9 65.71,856.3" fill="#2f9f68"/>
<polygon points="85.65,852.53 88.25,855.13 85.65,857.73 83.05,855.13" fill="#2f9f68"/>
<polygon points="88.54,853.12 91.14,855.72 88.54,858.32 85.94,855.72" fill="#2f9f68"/>
<polygon points="105.88,852.53 108.48,855.13 105.88,857.73 103.28,855.13" fill="#2f9f68"/>
<polygon points="126.11,848.45 128.71,851.05 126.11,853.65 123.51,851.05" fill="#2f9f68"/>
<polygon points="129,851.95 131.6,854.55 129,857.15 126.4,854.55" fill="#2f9f68"/>
<polygon points="149.23,849.62 151.83,852.22 149.23,854.82 146.63,852.22" fill="#2f9f68"/>
<path d="M66 764.22V742.65M64.4 742.65H67.6" stroke="#e06a95" stroke-width="0.8" fill="none"/>
<path d="M45.19 856.3 L48.08 856.3 L65.42 856.3 L66 764.22 L68.31 856.3 L85.65 855.13 L88.54 855.72 L105.88 855.13 L126.11 854.55 L129 855.13 L149.23 852.8" fill="none" stroke="#e5487e" stroke-width="1.0" stroke-linejoin="round"/>
<circle cx="45.19" cy="856.3" r="2.2" fill="#c8306a"/>
<circle cx="48.08" cy="856.3" r="2.2" fill="#c8306a"/>
<circle cx="65.42" cy="856.3" r="2.2" fill="#c8306a"/>
<circle cx="66" cy="764.22" r="2.2" fill="#c8306a"/>
<circle cx="68.31" cy="856.3" r="2.2" fill="#c8306a"/>
<circle cx="85.65" cy="855.13" r="2.2" fill="#c8306a"/>
<circle cx="88.54" cy="855.72" r="2.2" fill="#c8306a"/>
<circle cx="105.88" cy="855.13" r="2.2" fill="#c8306a"/>
<circle cx="126.11" cy="854.55" r="2.2" fill="#c8306a"/>
<circle cx="129" cy="855.13" r="2.2" fill="#c8306a"/>
<circle cx="149.23" cy="852.8" r="2.2" fill="#c8306a"/>
<path d="M85.65 853.39V851.64M83.85 851.64H87.45" stroke="#111111" stroke-width="1.0" fill="none"/>
<path d="M45.19 856.3 L48.08 856.3 L65.42 856.3 L68.31 856.3 L85.65 853.39 L88.54 856.3 L105.88 855.13 L126.11 855.13 L129 855.13 L149.23 852.8" fill="none" stroke="#111" stroke-width="1.25" stroke-linejoin="round"/>
<polygon points="45.19,854.15 47.45,858.02 42.93,858.02" fill="#fff" stroke="#000" stroke-width="1.1"/>
<polygon points="48.08,854.15 50.34,858.02 45.82,858.02" fill="#fff" stroke="#000" stroke-width="1.1"/>
<polygon points="65.42,854.15 67.68,858.02 63.16,858.02" fill="#fff" stroke="#000" stroke-width="1.1"/>
<polygon points="68.31,854.15 70.57,858.02 66.05,858.02" fill="#fff" stroke="#000" stroke-width="1.1"/>
<polygon points="85.65,851.24 87.91,855.11 83.39,855.11" fill="#fff" stroke="#000" stroke-width="1.1"/>
<polygon points="88.54,854.15 90.8,858.02 86.28,858.02" fill="#fff" stroke="#000" stroke-width="1.1"/>
<polygon points="105.88,852.98 108.14,856.85 103.62,856.85" fill="#fff" stroke="#000" stroke-width="1.1"/>
<polygon points="126.11,852.98 128.37,856.85 123.85,856.85" fill="#fff" stroke="#000" stroke-width="1.1"/>
<polygon points="129,852.98 131.26,856.85 126.74,856.85" fill="#fff" stroke="#000" stroke-width="1.1"/>
<polygon points="149.23,850.65 151.49,854.52 146.97,854.52" fill="#fff" stroke="#000" stroke-width="1.1"/>
</g>
<g id="pJ">
<text x="175.5" y="733" font-size="17.5" text-anchor="start" font-weight="bold">J</text>
<text x="273.4" y="730.8" font-size="7.7" font-weight="bold" text-anchor="middle">IL-6</text>
<line x1="289.6" y1="749" x2="298.8" y2="749" stroke="#000" stroke-width="1"/>
<polygon points="294.2,747.17 296.12,750.46 292.28,750.46" fill="#fff" stroke="#000" stroke-width="1.1"/>
<text x="303.5" y="751.6" font-size="7.6" text-anchor="start">Vehicle</text>
<line x1="289.6" y1="757.5" x2="298.8" y2="757.5" stroke="#a26bc0" stroke-width="1"/>
<rect x="292.67" y="755.97" width="3.06" height="3.06" fill="#8a4a9f"/>
<text x="303.5" y="760.1" font-size="7.6" text-anchor="start">0.2 µg/kg</text>
<line x1="289.6" y1="766" x2="298.8" y2="766" stroke="#4a64b0" stroke-width="1"/>
<rect x="292.58" y="764.38" width="3.23" height="3.23" fill="#34498a"/>
<text x="303.5" y="768.6" font-size="7.6" text-anchor="start">2 µg/kg</text>
<line x1="289.6" y1="774.6" x2="298.8" y2="774.6" stroke="#3fbf80" stroke-width="1"/>
<polygon points="294.2,772.39 296.41,774.6 294.2,776.81 291.99,774.6" fill="#2f9f68"/>
<text x="303.5" y="777.2" font-size="7.6" text-anchor="start">5 µg/kg</text>
<line x1="289.6" y1="782.7" x2="298.8" y2="782.7" stroke="#e5487e" stroke-width="1"/>
<circle cx="294.2" cy="782.7" r="1.87" fill="#c8306a"/>
<text x="303.5" y="785.3" font-size="7.6" text-anchor="start">10 µg/kg</text>
<line x1="210.5" y1="739.5" x2="210.5" y2="862.5" stroke="#4a4a4a" stroke-width="1.15"/>
<line x1="208.9" y1="858.7" x2="210.5" y2="858.7" stroke="#333" stroke-width="0.8"/>
<line x1="208.9" y1="849.65" x2="210.5" y2="849.65" stroke="#333" stroke-width="0.8"/>
<line x1="208.9" y1="840.6" x2="210.5" y2="840.6" stroke="#333" stroke-width="0.8"/>
<line x1="208.9" y1="831.55" x2="210.5" y2="831.55" stroke="#333" stroke-width="0.8"/>
<line x1="208.9" y1="822.5" x2="210.5" y2="822.5" stroke="#333" stroke-width="0.8"/>
<line x1="208.9" y1="813.45" x2="210.5" y2="813.45" stroke="#333" stroke-width="0.8"/>
<line x1="208.9" y1="804.4" x2="210.5" y2="804.4" stroke="#333" stroke-width="0.8"/>
<line x1="208.9" y1="795.35" x2="210.5" y2="795.35" stroke="#333" stroke-width="0.8"/>
<line x1="208.9" y1="786.3" x2="210.5" y2="786.3" stroke="#333" stroke-width="0.8"/>
<line x1="208.9" y1="777.25" x2="210.5" y2="777.25" stroke="#333" stroke-width="0.8"/>
<line x1="208.9" y1="768.2" x2="210.5" y2="768.2" stroke="#333" stroke-width="0.8"/>
<line x1="208.9" y1="759.15" x2="210.5" y2="759.15" stroke="#333" stroke-width="0.8"/>
<line x1="208.9" y1="750.1" x2="210.5" y2="750.1" stroke="#333" stroke-width="0.8"/>
<line x1="207.9" y1="858.7" x2="210.5" y2="858.7" stroke="#222" stroke-width="0.9"/>
<text x="207.3" y="862.07" font-size="7.7" text-anchor="end">0</text>
<line x1="207.9" y1="840.6" x2="210.5" y2="840.6" stroke="#222" stroke-width="0.9"/>
<text x="207.3" y="843.97" font-size="7.7" text-anchor="end">100</text>
<line x1="207.9" y1="822.5" x2="210.5" y2="822.5" stroke="#222" stroke-width="0.9"/>
<text x="207.3" y="825.87" font-size="7.7" text-anchor="end">200</text>
<line x1="207.9" y1="804.4" x2="210.5" y2="804.4" stroke="#222" stroke-width="0.9"/>
<text x="207.3" y="807.77" font-size="7.7" text-anchor="end">300</text>
<line x1="207.9" y1="786.3" x2="210.5" y2="786.3" stroke="#222" stroke-width="0.9"/>
<text x="207.3" y="789.67" font-size="7.7" text-anchor="end">400</text>
<line x1="207.9" y1="768.2" x2="210.5" y2="768.2" stroke="#222" stroke-width="0.9"/>
<text x="207.3" y="771.57" font-size="7.7" text-anchor="end">500</text>
<line x1="207.9" y1="750.1" x2="210.5" y2="750.1" stroke="#222" stroke-width="0.9"/>
<text x="207.3" y="753.47" font-size="7.7" text-anchor="end">600</text>
<text transform="translate(181.8,800.4) rotate(-90)" font-size="7.5" text-anchor="middle">pg/mL</text>
<text transform="translate(190.3,800.4) rotate(-90)" font-size="7.5" text-anchor="middle">(Mean ± SEM)</text>
<line x1="210.5" y1="862.5" x2="333.7" y2="862.5" stroke="#111" stroke-width="1.2"/>
<path d="M212 862.5v1.6M214.88 862.5v1.6M217.76 862.5v1.6M220.64 862.5v1.6M223.52 862.5v1.6M226.4 862.5v1.6M229.28 862.5v1.6M232.16 862.5v1.6M235.04 862.5v1.6M237.92 862.5v1.6M240.8 862.5v1.6M243.68 862.5v1.6M246.56 862.5v1.6M249.44 862.5v1.6M252.32 862.5v1.6M255.2 862.5v1.6M258.08 862.5v1.6M260.96 862.5v1.6M263.84 862.5v1.6M266.72 862.5v1.6M269.6 862.5v1.6M272.48 862.5v1.6M275.36 862.5v1.6M278.24 862.5v1.6M281.12 862.5v1.6M284 862.5v1.6M286.88 862.5v1.6M289.76 862.5v1.6M292.64 862.5v1.6M295.52 862.5v1.6M298.4 862.5v1.6M301.28 862.5v1.6M304.16 862.5v1.6M307.04 862.5v1.6M309.92 862.5v1.6M312.8 862.5v1.6M315.68 862.5v1.6M318.56 862.5v1.6M321.44 862.5v1.6M324.32 862.5v1.6M327.2 862.5v1.6M330.08 862.5v1.6M332.96 862.5v1.6" stroke="#444" stroke-width="0.7"/>
<path d="M212 862.5v2.4M232.16 862.5v2.4M252.32 862.5v2.4M272.48 862.5v2.4M292.64 862.5v2.4M312.8 862.5v2.4M332.96 862.5v2.4" stroke="#222" stroke-width="0.8"/>
<text transform="translate(212,873.05) scale(0.92,1)" font-size="7.9" text-anchor="middle">0</text>
<text transform="translate(232.16,873.05) scale(0.92,1)" font-size="7.9" text-anchor="middle">7</text>
<text transform="translate(252.32,873.05) scale(0.92,1)" font-size="7.9" text-anchor="middle">14</text>
<text transform="translate(272.48,873.05) scale(0.92,1)" font-size="7.9" text-anchor="middle">21</text>
<text transform="translate(292.64,873.05) scale(0.92,1)" font-size="7.9" text-anchor="middle">28</text>
<text transform="translate(312.8,873.05) scale(0.92,1)" font-size="7.9" text-anchor="middle">35</text>
<text transform="translate(332.96,873.05) scale(0.92,1)" font-size="7.9" text-anchor="middle">42</text>
<path d="M213.4 882.5V877.6" stroke="#222" stroke-width="0.8"/>
<path d="M212 878.8L213.4 876.8L214.8 878.8" stroke="#222" stroke-width="0.8" fill="none"/>
<text x="213.4" y="891.9" font-size="8.2" text-anchor="middle">V</text>
<path d="M233.56 882.5V877.6" stroke="#222" stroke-width="0.8"/>
<path d="M232.16 878.8L233.56 876.8L234.96 878.8" stroke="#222" stroke-width="0.8" fill="none"/>
<text x="233.56" y="892.4" font-size="8.2" text-anchor="middle">D</text>
<path d="M253.72 882.5V877.6" stroke="#222" stroke-width="0.8"/>
<path d="M252.32 878.8L253.72 876.8L255.12 878.8" stroke="#222" stroke-width="0.8" fill="none"/>
<text x="253.72" y="892.4" font-size="8.2" text-anchor="middle">D</text>
<path d="M273.88 882.5V877.6" stroke="#222" stroke-width="0.8"/>
<path d="M272.48 878.8L273.88 876.8L275.28 878.8" stroke="#222" stroke-width="0.8" fill="none"/>
<text x="273.88" y="892.4" font-size="8.2" text-anchor="middle">D</text>
<path d="M294.04 882.5V877.6" stroke="#222" stroke-width="0.8"/>
<path d="M292.64 878.8L294.04 876.8L295.44 878.8" stroke="#222" stroke-width="0.8" fill="none"/>
<text x="294.04" y="892.4" font-size="8.2" text-anchor="middle">D</text>
<text x="272.3" y="901.3" font-size="7.5" text-anchor="middle">Study days</text>
<path d="M214.88 855.08 L217.76 857.8 L235.04 857.8 L235.62 850.19 L237.92 857.8 L255.2 853.63 L258.08 857.8 L275.36 856.35 L295.52 857.8 L298.4 857.8 L318.56 858.16" fill="none" stroke="#a26bc0" stroke-width="1.0" stroke-linejoin="round"/>
<rect x="213.08" y="853.28" width="3.6" height="3.6" fill="#8a4a9f"/>
<rect x="215.96" y="856" width="3.6" height="3.6" fill="#8a4a9f"/>
<rect x="233.24" y="856" width="3.6" height="3.6" fill="#8a4a9f"/>
<rect x="233.82" y="848.39" width="3.6" height="3.6" fill="#8a4a9f"/>
<rect x="236.12" y="856" width="3.6" height="3.6" fill="#8a4a9f"/>
<rect x="253.4" y="851.83" width="3.6" height="3.6" fill="#8a4a9f"/>
<rect x="256.28" y="856" width="3.6" height="3.6" fill="#8a4a9f"/>
<rect x="273.56" y="854.55" width="3.6" height="3.6" fill="#8a4a9f"/>
<rect x="293.72" y="856" width="3.6" height="3.6" fill="#8a4a9f"/>
<rect x="296.6" y="856" width="3.6" height="3.6" fill="#8a4a9f"/>
<rect x="316.76" y="856.36" width="3.6" height="3.6" fill="#8a4a9f"/>
<path d="M214.88 856.89 L217.76 857.8 L235.04 857.8 L235.62 855.08 L237.92 857.8 L255.2 855.99 L258.08 857.8 L275.36 856.89 L295.52 857.8 L298.4 857.8 L318.56 858.16" fill="none" stroke="#4a64b0" stroke-width="1.0" stroke-linejoin="round"/>
<rect x="212.98" y="854.99" width="3.8" height="3.8" fill="#34498a"/>
<rect x="215.86" y="855.9" width="3.8" height="3.8" fill="#34498a"/>
<rect x="233.14" y="855.9" width="3.8" height="3.8" fill="#34498a"/>
<rect x="233.72" y="853.18" width="3.8" height="3.8" fill="#34498a"/>
<rect x="236.02" y="855.9" width="3.8" height="3.8" fill="#34498a"/>
<rect x="253.3" y="854.09" width="3.8" height="3.8" fill="#34498a"/>
<rect x="256.18" y="855.9" width="3.8" height="3.8" fill="#34498a"/>
<rect x="273.46" y="854.99" width="3.8" height="3.8" fill="#34498a"/>
<rect x="293.62" y="855.9" width="3.8" height="3.8" fill="#34498a"/>
<rect x="296.5" y="855.9" width="3.8" height="3.8" fill="#34498a"/>
<rect x="316.66" y="856.26" width="3.8" height="3.8" fill="#34498a"/>
<path d="M235.62 830.46V826.84M234.02 826.84H237.22" stroke="#6cc095" stroke-width="0.8" fill="none"/>
<path d="M214.88 852.55 L217.76 857.8 L235.04 857.8 L235.62 830.46 L237.92 857.8 L255.2 855.08 L258.08 857.8 L275.36 856.89 L295.52 851.46 L298.4 857.8 L318.56 858.16" fill="none" stroke="#3fbf80" stroke-width="1.0" stroke-linejoin="round"/>
<polygon points="214.88,849.95 217.48,852.55 214.88,855.15 212.28,852.55" fill="#2f9f68"/>
<polygon points="217.76,855.2 220.36,857.8 217.76,860.4 215.16,857.8" fill="#2f9f68"/>
<polygon points="235.04,855.2 237.64,857.8 235.04,860.4 232.44,857.8" fill="#2f9f68"/>
<polygon points="235.62,827.86 238.22,830.46 235.62,833.06 233.02,830.46" fill="#2f9f68"/>
<polygon points="237.92,855.2 240.52,857.8 237.92,860.4 235.32,857.8" fill="#2f9f68"/>
<polygon points="255.2,852.48 257.8,855.08 255.2,857.68 252.6,855.08" fill="#2f9f68"/>
<polygon points="258.08,855.2 260.68,857.8 258.08,860.4 255.48,857.8" fill="#2f9f68"/>
<polygon points="275.36,854.29 277.96,856.89 275.36,859.49 272.76,856.89" fill="#2f9f68"/>
<polygon points="295.52,848.86 298.12,851.46 295.52,854.06 292.92,851.46" fill="#2f9f68"/>
<polygon points="298.4,855.2 301,857.8 298.4,860.4 295.8,857.8" fill="#2f9f68"/>
<polygon points="318.56,855.56 321.16,858.16 318.56,860.76 315.96,858.16" fill="#2f9f68"/>
<path d="M214.88 844.94V837.16M213.28 837.16H216.48M235.62 778.7V754.44M234.02 754.44H237.22" stroke="#e06a95" stroke-width="0.8" fill="none"/>
<path d="M214.88 844.94 L217.76 857.8 L235.04 857.8 L235.62 778.7 L237.92 857.8 L255.2 850.74 L258.08 857.8 L275.36 856.89 L295.52 857.8 L298.4 857.8 L318.56 858.16" fill="none" stroke="#e5487e" stroke-width="1.0" stroke-linejoin="round"/>
<circle cx="214.88" cy="844.94" r="2.2" fill="#c8306a"/>
<circle cx="217.76" cy="857.8" r="2.2" fill="#c8306a"/>
<circle cx="235.04" cy="857.8" r="2.2" fill="#c8306a"/>
<circle cx="235.62" cy="778.7" r="2.2" fill="#c8306a"/>
<circle cx="237.92" cy="857.8" r="2.2" fill="#c8306a"/>
<circle cx="255.2" cy="850.74" r="2.2" fill="#c8306a"/>
<circle cx="258.08" cy="857.8" r="2.2" fill="#c8306a"/>
<circle cx="275.36" cy="856.89" r="2.2" fill="#c8306a"/>
<circle cx="295.52" cy="857.8" r="2.2" fill="#c8306a"/>
<circle cx="298.4" cy="857.8" r="2.2" fill="#c8306a"/>
<circle cx="318.56" cy="858.16" r="2.2" fill="#c8306a"/>
<path d="M214.88 857.8 L217.76 858.16 L235.04 857.8 L235.62 856.17 L237.92 857.8 L255.2 857.8 L258.08 858.16 L275.36 851.46 L295.52 857.8 L298.4 857.8 L318.56 858.16" fill="none" stroke="#111" stroke-width="1.25" stroke-linejoin="round"/>
<polygon points="214.88,855.65 217.14,859.52 212.62,859.52" fill="#fff" stroke="#000" stroke-width="1.1"/>
<polygon points="217.76,856.01 220.02,859.88 215.5,859.88" fill="#fff" stroke="#000" stroke-width="1.1"/>
<polygon points="235.04,855.65 237.3,859.52 232.78,859.52" fill="#fff" stroke="#000" stroke-width="1.1"/>
<polygon points="235.62,854.02 237.87,857.89 233.36,857.89" fill="#fff" stroke="#000" stroke-width="1.1"/>
<polygon points="237.92,855.65 240.18,859.52 235.66,859.52" fill="#fff" stroke="#000" stroke-width="1.1"/>
<polygon points="255.2,855.65 257.46,859.52 252.94,859.52" fill="#fff" stroke="#000" stroke-width="1.1"/>
<polygon points="258.08,856.01 260.34,859.88 255.82,859.88" fill="#fff" stroke="#000" stroke-width="1.1"/>
<polygon points="275.36,849.31 277.62,853.18 273.1,853.18" fill="#fff" stroke="#000" stroke-width="1.1"/>
<polygon points="295.52,855.65 297.78,859.52 293.26,859.52" fill="#fff" stroke="#000" stroke-width="1.1"/>
<polygon points="298.4,855.65 300.66,859.52 296.14,859.52" fill="#fff" stroke="#000" stroke-width="1.1"/>
<polygon points="318.56,856.01 320.82,859.88 316.3,859.88" fill="#fff" stroke="#000" stroke-width="1.1"/>
</g>
<g id="pK">
<text x="349.5" y="733" font-size="17.5" text-anchor="start" font-weight="bold">K</text>
<text x="449.9" y="730.4" font-size="7.7" font-weight="bold" text-anchor="middle">IL-10</text>
<line x1="462.5" y1="749" x2="471.7" y2="749" stroke="#000" stroke-width="1"/>
<polygon points="467.1,747.17 469.02,750.46 465.18,750.46" fill="#fff" stroke="#000" stroke-width="1.1"/>
<text x="476.7" y="751.6" font-size="7.6" text-anchor="start">Vehicle</text>
<line x1="462.5" y1="757.3" x2="471.7" y2="757.3" stroke="#a26bc0" stroke-width="1"/>
<rect x="465.57" y="755.77" width="3.06" height="3.06" fill="#8a4a9f"/>
<text x="476.7" y="759.9" font-size="7.6" text-anchor="start">0.2 µg/kg</text>
<line x1="462.5" y1="766" x2="471.7" y2="766" stroke="#4a64b0" stroke-width="1"/>
<rect x="465.49" y="764.38" width="3.23" height="3.23" fill="#34498a"/>
<text x="476.7" y="768.6" font-size="7.6" text-anchor="start">2 µg/kg</text>
<line x1="462.5" y1="774.6" x2="471.7" y2="774.6" stroke="#3fbf80" stroke-width="1"/>
<polygon points="467.1,772.39 469.31,774.6 467.1,776.81 464.89,774.6" fill="#2f9f68"/>
<text x="476.7" y="777.2" font-size="7.6" text-anchor="start">5 µg/kg</text>
<line x1="462.5" y1="782.7" x2="471.7" y2="782.7" stroke="#e5487e" stroke-width="1"/>
<circle cx="467.1" cy="782.7" r="1.87" fill="#c8306a"/>
<text x="476.7" y="785.3" font-size="7.6" text-anchor="start">10 µg/kg</text>
<line x1="388" y1="739.6" x2="388" y2="862.2" stroke="#4a4a4a" stroke-width="1.15"/>
<line x1="386.4" y1="857.7" x2="388" y2="857.7" stroke="#333" stroke-width="0.8"/>
<line x1="386.4" y1="850.3" x2="388" y2="850.3" stroke="#333" stroke-width="0.8"/>
<line x1="386.4" y1="842.9" x2="388" y2="842.9" stroke="#333" stroke-width="0.8"/>
<line x1="386.4" y1="835.5" x2="388" y2="835.5" stroke="#333" stroke-width="0.8"/>
<line x1="386.4" y1="828.1" x2="388" y2="828.1" stroke="#333" stroke-width="0.8"/>
<line x1="386.4" y1="820.7" x2="388" y2="820.7" stroke="#333" stroke-width="0.8"/>
<line x1="386.4" y1="813.3" x2="388" y2="813.3" stroke="#333" stroke-width="0.8"/>
<line x1="386.4" y1="805.9" x2="388" y2="805.9" stroke="#333" stroke-width="0.8"/>
<line x1="386.4" y1="798.5" x2="388" y2="798.5" stroke="#333" stroke-width="0.8"/>
<line x1="386.4" y1="791.1" x2="388" y2="791.1" stroke="#333" stroke-width="0.8"/>
<line x1="386.4" y1="783.7" x2="388" y2="783.7" stroke="#333" stroke-width="0.8"/>
<line x1="386.4" y1="776.3" x2="388" y2="776.3" stroke="#333" stroke-width="0.8"/>
<line x1="386.4" y1="768.9" x2="388" y2="768.9" stroke="#333" stroke-width="0.8"/>
<line x1="386.4" y1="761.5" x2="388" y2="761.5" stroke="#333" stroke-width="0.8"/>
<line x1="386.4" y1="754.1" x2="388" y2="754.1" stroke="#333" stroke-width="0.8"/>
<line x1="386.4" y1="746.7" x2="388" y2="746.7" stroke="#333" stroke-width="0.8"/>
<line x1="386.4" y1="739.3" x2="388" y2="739.3" stroke="#333" stroke-width="0.8"/>
<line x1="385.4" y1="857.7" x2="388" y2="857.7" stroke="#222" stroke-width="0.9"/>
<text x="384.8" y="861.07" font-size="7.7" text-anchor="end">0</text>
<line x1="385.4" y1="842.9" x2="388" y2="842.9" stroke="#222" stroke-width="0.9"/>
<text x="384.8" y="846.27" font-size="7.7" text-anchor="end">100</text>
<line x1="385.4" y1="828.1" x2="388" y2="828.1" stroke="#222" stroke-width="0.9"/>
<text x="384.8" y="831.47" font-size="7.7" text-anchor="end">200</text>
<line x1="385.4" y1="813.3" x2="388" y2="813.3" stroke="#222" stroke-width="0.9"/>
<text x="384.8" y="816.67" font-size="7.7" text-anchor="end">300</text>
<line x1="385.4" y1="798.5" x2="388" y2="798.5" stroke="#222" stroke-width="0.9"/>
<text x="384.8" y="801.87" font-size="7.7" text-anchor="end">400</text>
<line x1="385.4" y1="783.7" x2="388" y2="783.7" stroke="#222" stroke-width="0.9"/>
<text x="384.8" y="787.07" font-size="7.7" text-anchor="end">500</text>
<line x1="385.4" y1="768.9" x2="388" y2="768.9" stroke="#222" stroke-width="0.9"/>
<text x="384.8" y="772.27" font-size="7.7" text-anchor="end">600</text>
<line x1="385.4" y1="754.1" x2="388" y2="754.1" stroke="#222" stroke-width="0.9"/>
<text x="384.8" y="757.47" font-size="7.7" text-anchor="end">700</text>
<line x1="385.4" y1="739.3" x2="388" y2="739.3" stroke="#222" stroke-width="0.9"/>
<text x="384.8" y="742.67" font-size="7.7" text-anchor="end">800</text>
<text transform="translate(360.2,800.8) rotate(-90)" font-size="7.5" text-anchor="middle">pg/mL</text>
<text transform="translate(368.3,800.8) rotate(-90)" font-size="7.5" text-anchor="middle">(Mean ± SEM)</text>
<line x1="388" y1="862.2" x2="510.4" y2="862.2" stroke="#111" stroke-width="1.2"/>
<path d="M389.2 862.2v1.6M392.08 862.2v1.6M394.95 862.2v1.6M397.83 862.2v1.6M400.7 862.2v1.6M403.58 862.2v1.6M406.46 862.2v1.6M409.33 862.2v1.6M412.21 862.2v1.6M415.08 862.2v1.6M417.96 862.2v1.6M420.84 862.2v1.6M423.71 862.2v1.6M426.59 862.2v1.6M429.46 862.2v1.6M432.34 862.2v1.6M435.22 862.2v1.6M438.09 862.2v1.6M440.97 862.2v1.6M443.84 862.2v1.6M446.72 862.2v1.6M449.6 862.2v1.6M452.47 862.2v1.6M455.35 862.2v1.6M458.22 862.2v1.6M461.1 862.2v1.6M463.98 862.2v1.6M466.85 862.2v1.6M469.73 862.2v1.6M472.6 862.2v1.6M475.48 862.2v1.6M478.36 862.2v1.6M481.23 862.2v1.6M484.11 862.2v1.6M486.98 862.2v1.6M489.86 862.2v1.6M492.74 862.2v1.6M495.61 862.2v1.6M498.49 862.2v1.6M501.36 862.2v1.6M504.24 862.2v1.6M507.12 862.2v1.6M509.99 862.2v1.6" stroke="#444" stroke-width="0.7"/>
<path d="M389.2 862.2v2.4M409.33 862.2v2.4M429.46 862.2v2.4M449.6 862.2v2.4M469.73 862.2v2.4M489.86 862.2v2.4M509.99 862.2v2.4" stroke="#222" stroke-width="0.8"/>
<text transform="translate(389.2,873.05) scale(0.92,1)" font-size="7.9" text-anchor="middle">0</text>
<text transform="translate(409.33,873.05) scale(0.92,1)" font-size="7.9" text-anchor="middle">7</text>
<text transform="translate(429.46,873.05) scale(0.92,1)" font-size="7.9" text-anchor="middle">14</text>
<text transform="translate(449.6,873.05) scale(0.92,1)" font-size="7.9" text-anchor="middle">21</text>
<text transform="translate(469.73,873.05) scale(0.92,1)" font-size="7.9" text-anchor="middle">28</text>
<text transform="translate(489.86,873.05) scale(0.92,1)" font-size="7.9" text-anchor="middle">35</text>
<text transform="translate(509.99,873.05) scale(0.92,1)" font-size="7.9" text-anchor="middle">42</text>
<path d="M390.6 882.5V877.6" stroke="#222" stroke-width="0.8"/>
<path d="M389.2 878.8L390.6 876.8L392 878.8" stroke="#222" stroke-width="0.8" fill="none"/>
<text x="390.6" y="891.9" font-size="8.2" text-anchor="middle">V</text>
<path d="M410.73 882.5V877.6" stroke="#222" stroke-width="0.8"/>
<path d="M409.33 878.8L410.73 876.8L412.13 878.8" stroke="#222" stroke-width="0.8" fill="none"/>
<text x="410.73" y="892.4" font-size="8.2" text-anchor="middle">D</text>
<path d="M430.86 882.5V877.6" stroke="#222" stroke-width="0.8"/>
<path d="M429.46 878.8L430.86 876.8L432.26 878.8" stroke="#222" stroke-width="0.8" fill="none"/>
<text x="430.86" y="892.4" font-size="8.2" text-anchor="middle">D</text>
<path d="M451 882.5V877.6" stroke="#222" stroke-width="0.8"/>
<path d="M449.6 878.8L451 876.8L452.4 878.8" stroke="#222" stroke-width="0.8" fill="none"/>
<text x="451" y="892.4" font-size="8.2" text-anchor="middle">D</text>
<path d="M471.13 882.5V877.6" stroke="#222" stroke-width="0.8"/>
<path d="M469.73 878.8L471.13 876.8L472.53 878.8" stroke="#222" stroke-width="0.8" fill="none"/>
<text x="471.13" y="892.4" font-size="8.2" text-anchor="middle">D</text>
<text x="449.2" y="901.3" font-size="7.5" text-anchor="middle">Study days</text>
<path d="M392.08 857.7 L394.95 857.7 L412.21 857.7 L412.78 828.1 L415.08 854 L432.34 856.96 L435.22 857.4 L452.47 847.34 L472.6 856.52 L475.48 857.4" fill="none" stroke="#a26bc0" stroke-width="1.0" stroke-linejoin="round"/>
<rect x="390.28" y="855.9" width="3.6" height="3.6" fill="#8a4a9f"/>
<rect x="393.15" y="855.9" width="3.6" height="3.6" fill="#8a4a9f"/>
<rect x="410.41" y="855.9" width="3.6" height="3.6" fill="#8a4a9f"/>
<rect x="410.98" y="826.3" width="3.6" height="3.6" fill="#8a4a9f"/>
<rect x="413.28" y="852.2" width="3.6" height="3.6" fill="#8a4a9f"/>
<rect x="430.54" y="855.16" width="3.6" height="3.6" fill="#8a4a9f"/>
<rect x="433.42" y="855.6" width="3.6" height="3.6" fill="#8a4a9f"/>
<rect x="450.67" y="845.54" width="3.6" height="3.6" fill="#8a4a9f"/>
<rect x="470.8" y="854.72" width="3.6" height="3.6" fill="#8a4a9f"/>
<rect x="473.68" y="855.6" width="3.6" height="3.6" fill="#8a4a9f"/>
<path d="M392.08 857.7 L394.95 857.7 L412.21 857.7 L412.78 835.94 L413.65 843.34 L415.08 854.74 L432.34 856.96 L435.22 857.4 L452.47 851.48 L472.6 853.56 L475.48 857.4" fill="none" stroke="#4a64b0" stroke-width="1.0" stroke-linejoin="round"/>
<rect x="390.18" y="855.8" width="3.8" height="3.8" fill="#34498a"/>
<rect x="393.05" y="855.8" width="3.8" height="3.8" fill="#34498a"/>
<rect x="410.31" y="855.8" width="3.8" height="3.8" fill="#34498a"/>
<rect x="410.88" y="834.04" width="3.8" height="3.8" fill="#34498a"/>
<rect x="411.75" y="841.44" width="3.8" height="3.8" fill="#34498a"/>
<rect x="413.18" y="852.84" width="3.8" height="3.8" fill="#34498a"/>
<rect x="430.44" y="855.06" width="3.8" height="3.8" fill="#34498a"/>
<rect x="433.32" y="855.5" width="3.8" height="3.8" fill="#34498a"/>
<rect x="450.57" y="849.58" width="3.8" height="3.8" fill="#34498a"/>
<rect x="470.7" y="851.66" width="3.8" height="3.8" fill="#34498a"/>
<rect x="473.58" y="855.5" width="3.8" height="3.8" fill="#34498a"/>
<path d="M412.78 805.6V804.12M411.18 804.12H414.38" stroke="#6cc095" stroke-width="0.8" fill="none"/>
<path d="M392.08 857.7 L394.95 857.7 L412.21 857.7 L412.78 805.6 L413.65 819.52 L415.08 853.26 L432.34 854.44 L435.22 856.96 L452.47 856.22 L472.6 856.52 L475.48 857.4" fill="none" stroke="#3fbf80" stroke-width="1.0" stroke-linejoin="round"/>
<polygon points="392.08,855.1 394.68,857.7 392.08,860.3 389.48,857.7" fill="#2f9f68"/>
<polygon points="394.95,855.1 397.55,857.7 394.95,860.3 392.35,857.7" fill="#2f9f68"/>
<polygon points="412.21,855.1 414.81,857.7 412.21,860.3 409.61,857.7" fill="#2f9f68"/>
<polygon points="412.78,803 415.38,805.6 412.78,808.2 410.18,805.6" fill="#2f9f68"/>
<polygon points="413.65,816.92 416.25,819.52 413.65,822.12 411.05,819.52" fill="#2f9f68"/>
<polygon points="415.08,850.66 417.68,853.26 415.08,855.86 412.48,853.26" fill="#2f9f68"/>
<polygon points="432.34,851.84 434.94,854.44 432.34,857.04 429.74,854.44" fill="#2f9f68"/>
<polygon points="435.22,854.36 437.82,856.96 435.22,859.56 432.62,856.96" fill="#2f9f68"/>
<polygon points="452.47,853.62 455.07,856.22 452.47,858.82 449.87,856.22" fill="#2f9f68"/>
<polygon points="472.6,853.92 475.2,856.52 472.6,859.12 470,856.52" fill="#2f9f68"/>
<polygon points="475.48,854.8 478.08,857.4 475.48,860 472.88,857.4" fill="#2f9f68"/>
<path d="M412.78 757.65V747.29M411.18 747.29H414.38M452.47 844.82V831.36M450.87 831.36H454.07" stroke="#e06a95" stroke-width="0.8" fill="none"/>
<path d="M392.08 857.7 L394.95 857.7 L412.21 857.7 L412.78 757.65 L415.08 853.26 L432.34 856.96 L435.22 857.4 L452.47 844.82 L472.6 856.96 L475.48 857.4" fill="none" stroke="#e5487e" stroke-width="1.0" stroke-linejoin="round"/>
<circle cx="392.08" cy="857.7" r="2.2" fill="#c8306a"/>
<circle cx="394.95" cy="857.7" r="2.2" fill="#c8306a"/>
<circle cx="412.21" cy="857.7" r="2.2" fill="#c8306a"/>
<circle cx="412.78" cy="757.65" r="2.2" fill="#c8306a"/>
<circle cx="415.08" cy="853.26" r="2.2" fill="#c8306a"/>
<circle cx="432.34" cy="856.96" r="2.2" fill="#c8306a"/>
<circle cx="435.22" cy="857.4" r="2.2" fill="#c8306a"/>
<circle cx="452.47" cy="844.82" r="2.2" fill="#c8306a"/>
<circle cx="472.6" cy="856.96" r="2.2" fill="#c8306a"/>
<circle cx="475.48" cy="857.4" r="2.2" fill="#c8306a"/>
<path d="M392.08 857.7 L394.95 857.7 L412.21 857.7 L415.08 857.7 L432.34 857.7 L435.22 857.7 L452.47 857.7 L455.35 857.7 L472.6 857.7 L475.48 857.7 L495.61 857.7" fill="none" stroke="#b5b5b5" stroke-width="1.25" stroke-linejoin="round"/>
<polygon points="392.08,855.55 394.33,859.42 389.82,859.42" fill="#fff" stroke="#000" stroke-width="1.1"/>
<polygon points="394.95,855.55 397.21,859.42 392.69,859.42" fill="#fff" stroke="#000" stroke-width="1.1"/>
<polygon points="412.21,855.55 414.47,859.42 409.95,859.42" fill="#fff" stroke="#000" stroke-width="1.1"/>
<polygon points="415.08,855.55 417.34,859.42 412.83,859.42" fill="#fff" stroke="#000" stroke-width="1.1"/>
<polygon points="432.34,855.55 434.6,859.42 430.08,859.42" fill="#fff" stroke="#000" stroke-width="1.1"/>
<polygon points="435.22,855.55 437.47,859.42 432.96,859.42" fill="#fff" stroke="#000" stroke-width="1.1"/>
<polygon points="452.47,855.55 454.73,859.42 450.21,859.42" fill="#fff" stroke="#000" stroke-width="1.1"/>
<polygon points="455.35,855.55 457.61,859.42 453.09,859.42" fill="#fff" stroke="#000" stroke-width="1.1"/>
<polygon points="472.6,855.55 474.86,859.42 470.35,859.42" fill="#fff" stroke="#000" stroke-width="1.1"/>
<polygon points="475.48,855.55 477.74,859.42 473.22,859.42" fill="#fff" stroke="#000" stroke-width="1.1"/>
<polygon points="495.61,855.55 497.87,859.42 493.35,859.42" fill="#fff" stroke="#000" stroke-width="1.1"/>
</g>
</svg>
</body></html>
